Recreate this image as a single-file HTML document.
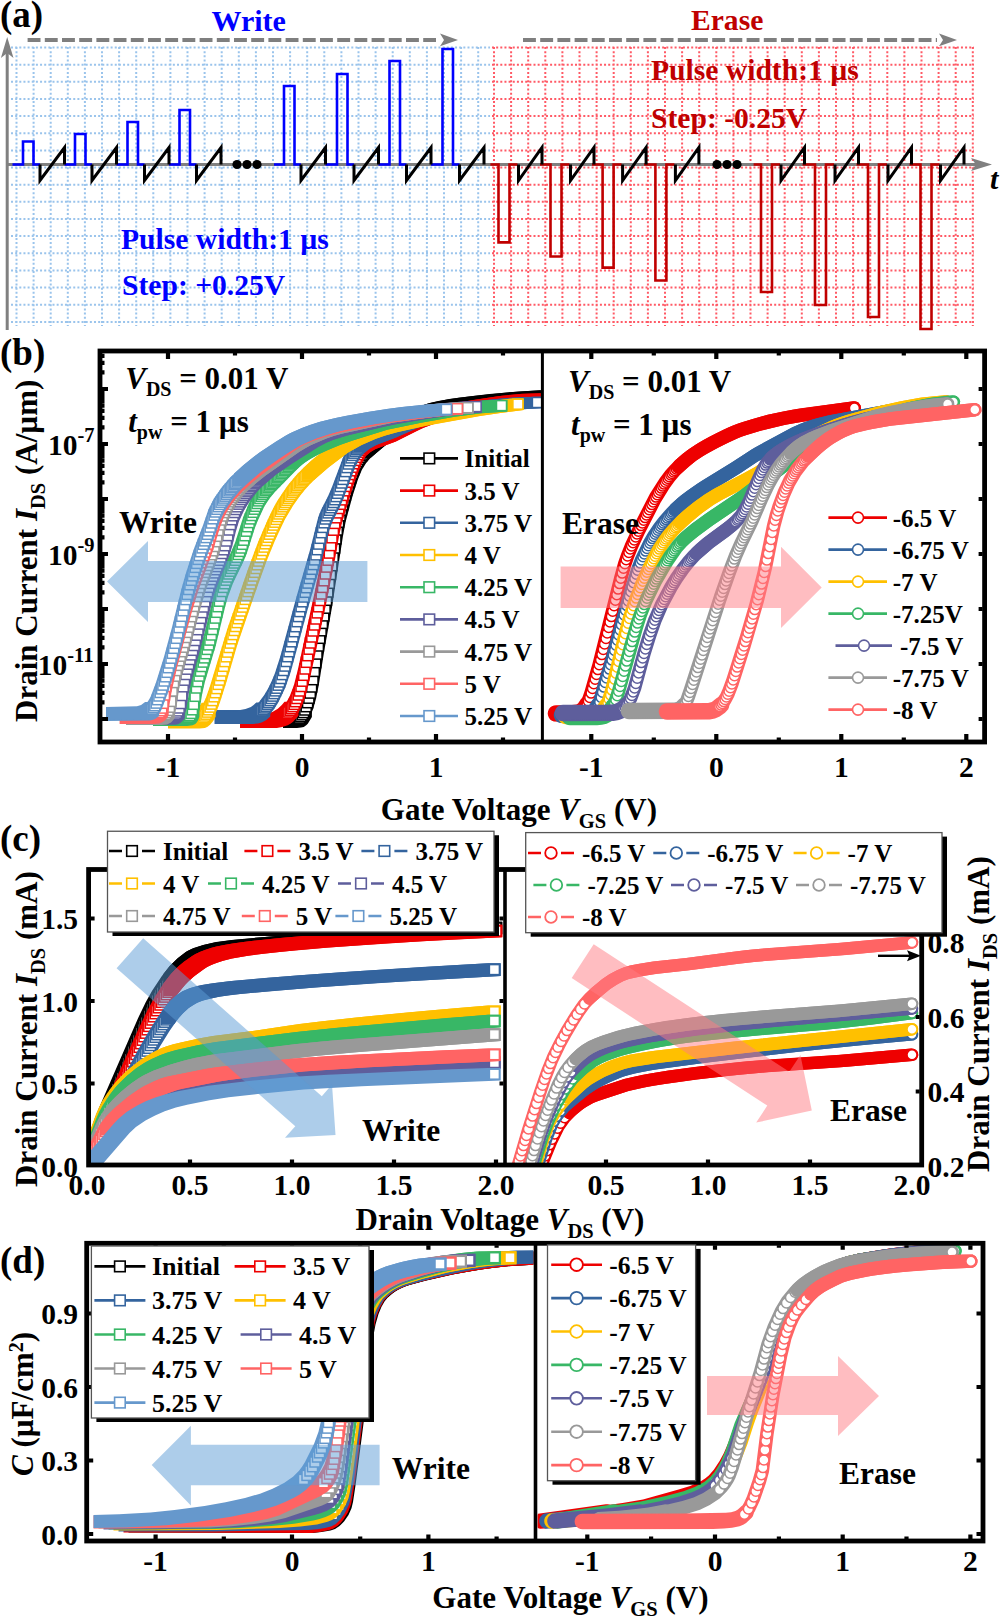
<!DOCTYPE html><html><head><meta charset="utf-8"><style>html,body{margin:0;padding:0;background:#fff;overflow:hidden}svg{display:block}</style></head><body>
<svg width="1000" height="1618" viewBox="0 0 1000 1618" style="font-family:'Liberation Serif',serif;font-weight:bold">
<defs><rect id="q" x="-5" y="-5" width="10" height="10" fill="#fff" stroke-width="1.5"/><circle id="o" r="5" fill="#fff" stroke-width="1.5"/><clipPath id="c0"><rect x="102" y="353" width="438.9" height="387.0"/></clipPath><clipPath id="c1"><rect x="543.9" y="353" width="438.7" height="387.0"/></clipPath><clipPath id="c2"><rect x="90.6" y="871.5" width="412.9" height="291.5"/></clipPath><clipPath id="c3"><rect x="506.5" y="871.5" width="413.2" height="291.5"/></clipPath><clipPath id="c4"><rect x="88.7" y="1245.3" width="444.8" height="293.7"/></clipPath><clipPath id="c5"><rect x="537.5" y="1245.3" width="443.5" height="293.7"/></clipPath></defs>
<rect width="1000" height="1618" fill="#fff"/>
<path d="M11,47.5H490M11,64.7H490M11,81.8H490M11,98.9H490M11,116.1H490M11,133.2H490M11,150.4H490M11,167.5H490M11,184.7H490M11,201.8H490M11,219.0H490M11,236.1H490M11,253.3H490M11,270.4H490M11,287.6H490M11,304.8H490M11,321.9H490M16.5,47V326M33.6,47V326M50.7,47V326M67.8,47V326M84.9,47V326M102.0,47V326M119.1,47V326M136.2,47V326M153.3,47V326M170.4,47V326M187.5,47V326M204.6,47V326M221.7,47V326M238.8,47V326M255.9,47V326M273.0,47V326M290.1,47V326M307.2,47V326M324.3,47V326M341.4,47V326M358.5,47V326M375.6,47V326M392.7,47V326M409.8,47V326M426.9,47V326M444.0,47V326M461.1,47V326M478.2,47V326" stroke="#9ac4ec" stroke-width="2" stroke-dasharray="2 2.15" fill="none"/>
<path d="M492,47.5H974M492,64.7H974M492,81.8H974M492,98.9H974M492,116.1H974M492,133.2H974M492,150.4H974M492,167.5H974M492,184.7H974M492,201.8H974M492,219.0H974M492,236.1H974M492,253.3H974M492,270.4H974M492,287.6H974M492,304.8H974M492,321.9H974M494.0,47V326M511.1,47V326M528.2,47V326M545.3,47V326M562.4,47V326M579.5,47V326M596.6,47V326M613.7,47V326M630.8,47V326M647.9,47V326M665.0,47V326M682.1,47V326M699.2,47V326M716.3,47V326M733.4,47V326M750.5,47V326M767.6,47V326M784.7,47V326M801.8,47V326M818.9,47V326M836.0,47V326M853.1,47V326M870.2,47V326M887.3,47V326M904.4,47V326M921.5,47V326M938.6,47V326M955.7,47V326M972.8,47V326" stroke="#ff5a66" stroke-width="2" stroke-dasharray="2 2.15" fill="none"/>
<path d="M7.2,330V52" stroke="#808080" stroke-width="3"/>
<path d="M7.2,37L13.5,58L7.2,53L0.9,58Z" fill="#808080"/>
<path d="M7,164.5H978" stroke="#808080" stroke-width="3"/>
<path d="M992,164.5L971,158.0L976,164.5L971,171.0Z" fill="#808080"/>
<path d="M27.6,39.9H436" stroke="#7f7f7f" stroke-width="4" stroke-dasharray="12.9 4.3" fill="none"/>
<path d="M458,39.9L440,33.5L444,39.9L440,46.3Z" fill="#7f7f7f"/>
<path d="M523,39.9H937" stroke="#7f7f7f" stroke-width="4" stroke-dasharray="12.9 4.3" fill="none"/>
<path d="M957,39.9L939,33.5L943,39.9L939,46.3Z" fill="#7f7f7f"/>
<path d="M12.5,164.5H23V141.5H33.5V164.5H40M64.5,164.5H75V134H85.5V164.5H92M116.5,164.5H127.5V122H138.0V164.5H144.5M169.0,164.5H179.5V110H190.0V164.5H196.5M274,164.5H284V86H294.5V164.5H301M325.5,164.5H337V74H347.5V164.5H354M378.5,164.5H389.5V61H400.0V164.5H406.5M431.0,164.5H442.5V49H453.0V164.5H459.5" stroke="#0000ff" stroke-width="2.6" fill="none"/>
<path d="M490.4,164.5H498.5V242.4H509.5V164.5H517.5M540.0,164.5H550.5V256.5H561.5V164.5H569.5M592.0,164.5H602.6V267.6H613.6V164.5H621.6M644.1,164.5H655.4V280.5H666.4V164.5H674.4M753.6,164.5H761V292H772V164.5H780M802.5,164.5H815V305H826V164.5H834M856.5,164.5H868V317H879V164.5H887M909.5,164.5H920.5V329H931.5V164.5H939.5" stroke="#c00000" stroke-width="2.6" fill="none"/>
<path d="M40,164.5V180.5L64.5,147.5V164.5M92,164.5V180.5L116.5,147.5V164.5M144.5,164.5V180.5L169.0,147.5V164.5M196.5,164.5V180.5L221.0,147.5V164.5M301,164.5V180.5L325.5,147.5V164.5M354,164.5V180.5L378.5,147.5V164.5M406.5,164.5V180.5L431.0,147.5V164.5M459.5,164.5V180.5L484.0,147.5V164.5M518.5,164.5V180.5L542.0,147.5V164.5M570.5,164.5V180.5L594.0,147.5V164.5M622.6,164.5V180.5L646.1,147.5V164.5M675.4,164.5V180.5L698.9,147.5V164.5M781,164.5V180.5L804.5,147.5V164.5M835,164.5V180.5L858.5,147.5V164.5M888,164.5V180.5L911.5,147.5V164.5M940.5,164.5V180.5L964.0,147.5V164.5" stroke="#000" stroke-width="3" fill="none"/>
<circle cx="237" cy="164.5" r="4.6"/>
<circle cx="247" cy="164.5" r="4.6"/>
<circle cx="257" cy="164.5" r="4.6"/>
<circle cx="717" cy="164.5" r="4.6"/>
<circle cx="727" cy="164.5" r="4.6"/>
<circle cx="737" cy="164.5" r="4.6"/>
<text x="0.0" y="26.5" font-size="37" >(a)</text>
<text x="211.5" y="30.7" font-size="30" fill="#0000ff" >Write</text>
<text x="691.0" y="30.3" font-size="29.6" fill="#c00000" >Erase</text>
<text x="651.0" y="80.0" font-size="29.6" fill="#c00000" >Pulse width:1 µs</text>
<text x="651.0" y="127.6" font-size="29.6" fill="#c00000" >Step: -0.25V</text>
<text x="121.0" y="248.7" font-size="29.6" fill="#0000ff" >Pulse width:1 µs</text>
<text x="122.0" y="295.0" font-size="29.6" fill="#0000ff" >Step: +0.25V</text>
<text x="990" y="189" font-size="30" font-style="italic">t</text>
<g clip-path="url(#c0)">
<path d="M289.8,712.9L283.0,714.0L283.0,728.0L297.0,728.0L301.1,727.6L303.8,726.9L306.5,725.1L307.8,723.7L311.9,717.0L311.9,703.0L297.9,703.0L295.2,707.8L292.5,711.1Z" fill="#000000"/>
<path d="M324.8,568.8L307.2,674.0L304.5,687.3L300.5,700.9L299.1,704.2L296.4,709.1L293.7,712.4L291.0,714.2L288.3,714.9L284.2,715.3L284.2,726.8L298.5,726.6L301.2,726.1L303.9,725.0L306.6,722.4L309.3,718.4L313.3,708.5L316.0,698.8L318.7,685.5L324.1,651.7L332.2,606.0L343.0,535.7L345.7,521.4L352.5,496.3L357.9,479.6L361.9,469.7L366.0,463.2L370.0,458.5L376.8,452.4L386.2,444.7L395.7,437.8L414.6,426.4L424.0,421.6L434.8,416.7L440.2,414.8L447.0,413.1L468.6,409.3L509.1,404.8L540.9,402.2L540.9,390.3L512.4,391.9L473.3,395.9L449.0,399.0L430.1,402.9L424.7,404.6L417.9,407.5L399.0,417.2L382.8,427.3L369.3,437.5L358.5,447.0L353.1,453.6L349.1,461.0L345.0,472.0L339.6,489.4L334.2,509.9L331.5,524.2Z" fill="#000000"/>
<g stroke="#000000"><use href="#q" x="299.5" y="718.1"/><use href="#q" x="300.8" y="716.7"/><use href="#q" x="302.2" y="714.8"/><use href="#q" x="303.5" y="712.6"/><use href="#q" x="304.9" y="710.0"/><use href="#q" x="306.2" y="706.7"/><use href="#q" x="307.6" y="702.7"/><use href="#q" x="308.9" y="698.2"/><use href="#q" x="310.3" y="693.1"/><use href="#q" x="311.6" y="687.0"/><use href="#q" x="313.0" y="679.7"/><use href="#q" x="314.3" y="671.4"/><use href="#q" x="315.7" y="662.7"/><use href="#q" x="317.0" y="654.1"/><use href="#q" x="318.4" y="646.0"/><use href="#q" x="319.7" y="638.3"/><use href="#q" x="321.1" y="630.8"/><use href="#q" x="322.4" y="623.4"/><use href="#q" x="323.8" y="615.9"/><use href="#q" x="325.1" y="608.2"/><use href="#q" x="326.5" y="600.3"/><use href="#q" x="327.8" y="592.0"/><use href="#q" x="329.2" y="583.3"/><use href="#q" x="330.5" y="574.5"/><use href="#q" x="331.9" y="565.7"/><use href="#q" x="333.2" y="556.9"/><use href="#q" x="334.6" y="548.0"/><use href="#q" x="335.9" y="538.9"/><use href="#q" x="337.3" y="530.0"/><use href="#q" x="338.6" y="522.2"/><use href="#q" x="340.0" y="515.7"/><use href="#q" x="341.3" y="510.1"/><use href="#q" x="342.7" y="504.9"/><use href="#q" x="344.0" y="500.0"/><use href="#q" x="345.4" y="495.2"/><use href="#q" x="346.7" y="490.5"/><use href="#q" x="348.1" y="486.1"/><use href="#q" x="349.4" y="481.9"/><use href="#q" x="350.8" y="477.8"/><use href="#q" x="352.1" y="473.8"/><use href="#q" x="353.5" y="470.1"/><use href="#q" x="354.8" y="466.8"/><use href="#q" x="356.2" y="463.9"/><use href="#q" x="357.5" y="461.5"/><use href="#q" x="358.9" y="459.3"/><use href="#q" x="360.2" y="457.4"/><use href="#q" x="361.6" y="455.7"/><use href="#q" x="362.9" y="454.1"/><use href="#q" x="364.3" y="452.7"/><use href="#q" x="365.6" y="451.4"/></g>
<path d="M393.6,420.3L377.4,431.1L359.9,445.7L359.9,457.2L371.4,457.2L387.6,443.6L401.1,434.3L418.6,424.3L436.2,416.1L441.6,414.4L449.7,412.5L469.9,409.2L509.1,404.8L540.9,402.2L540.9,390.3L519.2,391.4L489.5,394.1L458.4,397.7L438.2,401.0L428.7,403.3L422.0,405.7L407.1,412.8Z" fill="#000000"/>
<path d="M265.6,713.6L240.0,714.0L240.0,728.0L276.9,727.9L282.3,727.1L287.7,725.3L290.4,723.8L293.1,721.7L298.5,715.7L298.5,701.7L284.5,701.7L281.8,705.0L277.8,708.8L272.4,711.9Z" fill="#ee0000"/>
<path d="M289.8,696.0L287.1,701.0L283.1,706.2L279.0,710.1L273.6,713.1L269.6,714.4L264.2,715.1L241.2,715.3L241.2,726.8L274.3,726.7L279.7,726.2L283.8,725.1L289.2,722.6L293.2,719.2L297.3,714.5L301.3,707.5L305.4,696.7L309.4,681.1L327.0,599.8L335.1,558.8L339.1,536.0L341.8,523.5L351.3,492.2L355.3,480.2L362.1,463.1L366.1,456.0L370.2,452.2L375.6,449.1L395.8,441.6L416.1,431.2L424.2,427.4L436.3,422.9L448.5,418.9L464.7,415.0L497.1,409.5L520.0,406.5L540.9,405.0L540.9,393.3L520.7,393.9L497.7,396.2L459.9,402.2L441.0,406.3L426.2,410.9L410.0,417.1L384.3,430.1L368.1,436.0L362.7,438.3L357.3,441.7L354.6,444.5L350.6,451.6L343.8,468.7L339.8,480.7L330.3,512.0L327.6,524.5L323.6,547.3L315.5,588.3L297.9,669.6L293.9,685.2Z" fill="#ee0000"/>
<g stroke="#ee0000"><use href="#q" x="287.5" y="713.4"/><use href="#q" x="288.8" y="712.0"/><use href="#q" x="290.2" y="710.4"/><use href="#q" x="291.5" y="708.7"/><use href="#q" x="292.9" y="706.7"/><use href="#q" x="294.2" y="704.4"/><use href="#q" x="295.6" y="701.7"/><use href="#q" x="296.9" y="698.5"/><use href="#q" x="298.3" y="695.0"/><use href="#q" x="299.6" y="691.0"/><use href="#q" x="301.0" y="686.5"/><use href="#q" x="302.3" y="681.2"/><use href="#q" x="303.7" y="675.3"/><use href="#q" x="305.0" y="669.0"/><use href="#q" x="306.4" y="662.3"/><use href="#q" x="307.7" y="655.7"/><use href="#q" x="309.1" y="649.2"/><use href="#q" x="310.4" y="643.0"/><use href="#q" x="311.8" y="637.0"/><use href="#q" x="313.1" y="631.0"/><use href="#q" x="314.5" y="625.0"/><use href="#q" x="315.8" y="619.0"/><use href="#q" x="317.2" y="612.9"/><use href="#q" x="318.5" y="606.8"/><use href="#q" x="319.9" y="600.5"/><use href="#q" x="321.2" y="594.0"/><use href="#q" x="322.6" y="587.4"/><use href="#q" x="323.9" y="580.8"/><use href="#q" x="325.3" y="574.0"/><use href="#q" x="326.6" y="567.1"/><use href="#q" x="328.0" y="560.2"/><use href="#q" x="329.3" y="553.1"/><use href="#q" x="330.7" y="545.6"/><use href="#q" x="332.0" y="537.8"/><use href="#q" x="333.4" y="530.2"/><use href="#q" x="334.7" y="523.4"/><use href="#q" x="336.1" y="517.8"/><use href="#q" x="337.4" y="512.9"/><use href="#q" x="338.8" y="508.5"/><use href="#q" x="340.1" y="504.3"/><use href="#q" x="341.5" y="499.9"/><use href="#q" x="342.8" y="495.4"/><use href="#q" x="344.2" y="490.8"/><use href="#q" x="345.5" y="486.4"/><use href="#q" x="346.9" y="482.2"/><use href="#q" x="348.2" y="478.3"/><use href="#q" x="349.6" y="474.5"/><use href="#q" x="350.9" y="470.8"/><use href="#q" x="352.3" y="467.2"/><use href="#q" x="353.6" y="463.7"/><use href="#q" x="355.0" y="460.4"/><use href="#q" x="356.3" y="457.3"/><use href="#q" x="357.7" y="454.6"/><use href="#q" x="359.0" y="452.2"/><use href="#q" x="360.4" y="450.3"/><use href="#q" x="361.7" y="448.7"/></g>
<path d="M391.1,426.8L381.6,431.3L365.4,437.0L361.4,439.0L357.3,441.7L356.0,442.9L356.0,454.4L367.5,454.4L371.5,451.3L375.6,449.1L395.8,441.6L422.8,428.0L439.0,421.9L453.9,417.4L468.7,414.2L502.5,408.7L522.7,406.2L540.9,405.0L540.9,393.3L522.0,393.8L501.8,395.7L476.1,399.5L447.8,404.6L432.9,408.7L414.0,415.4L405.9,419.0Z" fill="#ee0000"/>
<path d="M240.1,709.9L214.5,710.0L214.5,724.0L252.8,724.0L258.2,723.4L262.2,722.2L266.3,720.0L270.3,716.4L270.3,702.4L256.3,702.4L253.6,705.0L250.9,706.9L245.5,709.1Z" fill="#34649e"/>
<path d="M268.4,687.9L264.3,694.9L258.9,702.2L254.9,706.3L250.8,708.8L246.8,710.3L241.4,711.1L215.8,711.2L215.8,722.8L251.5,722.7L255.6,722.4L259.6,721.4L265.0,718.8L269.1,715.2L274.5,708.4L278.5,701.9L285.3,687.8L290.7,671.9L308.2,607.6L321.7,560.7L329.8,528.6L332.5,521.5L339.3,508.3L343.3,499.1L355.5,466.5L359.5,459.0L363.6,453.8L369.0,449.1L377.1,444.6L396.0,437.6L420.3,426.7L427.0,424.4L437.8,421.4L459.4,416.7L489.1,412.6L517.5,409.5L540.9,408.3L540.9,396.8L516.8,397.3L491.1,399.5L452.0,404.6L430.4,408.9L418.2,412.1L410.1,414.7L384.5,426.1L365.6,433.1L357.5,437.6L352.1,442.3L348.0,447.5L344.0,455.0L331.8,487.6L327.8,496.8L321.0,510.0L318.3,517.1L310.2,549.2L296.7,596.1L280.5,655.8L275.1,672.8L272.4,679.5Z" fill="#34649e"/>
<g stroke="#34649e"><use href="#q" x="262.0" y="710.8"/><use href="#q" x="263.3" y="709.4"/><use href="#q" x="264.7" y="707.9"/><use href="#q" x="266.0" y="706.3"/><use href="#q" x="267.4" y="704.5"/><use href="#q" x="268.7" y="702.7"/><use href="#q" x="270.1" y="700.7"/><use href="#q" x="271.4" y="698.5"/><use href="#q" x="272.8" y="696.1"/><use href="#q" x="274.1" y="693.6"/><use href="#q" x="275.5" y="690.9"/><use href="#q" x="276.8" y="688.2"/><use href="#q" x="278.2" y="685.2"/><use href="#q" x="279.5" y="682.0"/><use href="#q" x="280.9" y="678.5"/><use href="#q" x="282.2" y="674.6"/><use href="#q" x="283.6" y="670.5"/><use href="#q" x="284.9" y="666.1"/><use href="#q" x="286.3" y="661.5"/><use href="#q" x="287.6" y="656.7"/><use href="#q" x="289.0" y="651.7"/><use href="#q" x="290.3" y="646.7"/><use href="#q" x="291.7" y="641.8"/><use href="#q" x="293.0" y="636.8"/><use href="#q" x="294.4" y="631.7"/><use href="#q" x="295.7" y="626.7"/><use href="#q" x="297.1" y="621.7"/><use href="#q" x="298.4" y="616.6"/><use href="#q" x="299.8" y="611.6"/><use href="#q" x="301.1" y="606.7"/><use href="#q" x="302.5" y="601.8"/><use href="#q" x="303.8" y="597.0"/><use href="#q" x="305.2" y="592.3"/><use href="#q" x="306.5" y="587.7"/><use href="#q" x="307.9" y="583.1"/><use href="#q" x="309.2" y="578.5"/><use href="#q" x="310.6" y="573.9"/><use href="#q" x="311.9" y="569.3"/><use href="#q" x="313.3" y="564.6"/><use href="#q" x="314.6" y="559.9"/><use href="#q" x="316.0" y="554.9"/><use href="#q" x="317.3" y="549.7"/><use href="#q" x="318.7" y="544.1"/><use href="#q" x="320.0" y="538.3"/><use href="#q" x="321.4" y="532.7"/><use href="#q" x="322.7" y="527.4"/><use href="#q" x="324.1" y="522.8"/><use href="#q" x="325.4" y="519.0"/><use href="#q" x="326.8" y="515.8"/><use href="#q" x="328.1" y="512.9"/><use href="#q" x="329.5" y="510.3"/><use href="#q" x="330.8" y="507.7"/><use href="#q" x="332.2" y="505.2"/><use href="#q" x="333.5" y="502.5"/><use href="#q" x="334.9" y="499.7"/><use href="#q" x="336.2" y="496.6"/><use href="#q" x="337.6" y="493.3"/><use href="#q" x="338.9" y="490.0"/><use href="#q" x="340.3" y="486.5"/><use href="#q" x="341.6" y="483.0"/><use href="#q" x="343.0" y="479.4"/><use href="#q" x="344.3" y="475.6"/><use href="#q" x="345.7" y="471.6"/><use href="#q" x="347.0" y="467.6"/><use href="#q" x="348.4" y="464.0"/><use href="#q" x="349.7" y="460.7"/><use href="#q" x="351.1" y="457.9"/><use href="#q" x="352.4" y="455.4"/><use href="#q" x="353.8" y="453.2"/><use href="#q" x="355.1" y="451.3"/><use href="#q" x="356.5" y="449.6"/><use href="#q" x="357.8" y="448.1"/><use href="#q" x="359.2" y="446.7"/></g>
<path d="M387.2,424.9L365.6,433.1L360.2,435.8L356.1,438.6L353.4,440.9L353.4,452.4L364.9,452.4L370.3,448.2L375.7,445.2L396.0,437.6L417.6,427.8L427.0,424.4L443.2,420.0L462.1,416.3L494.5,411.9L518.8,409.4L540.9,408.3L540.9,396.8L520.8,397.1L500.6,398.5L474.9,401.4L445.2,405.7L429.0,409.2L412.8,413.7L403.4,417.4Z" fill="#34649e"/>
<use href="#q" x="537.4" y="402.5" stroke="#34649e"/>
<path d="M188.2,714.4L168.0,714.5L168.0,728.5L199.5,728.5L204.9,728.0L207.6,726.8L210.3,724.5L213.0,721.2L215.7,716.8L215.7,702.8L201.7,702.8L197.7,709.0L195.0,711.8L192.3,713.5Z" fill="#ffc000"/>
<path d="M227.3,628.9L209.7,687.0L205.7,698.3L203.0,704.0L198.9,710.2L194.9,714.0L190.8,715.5L169.2,715.8L169.2,727.3L198.3,727.2L203.7,726.7L207.7,724.5L210.4,721.7L213.1,717.9L217.2,709.8L219.9,702.5L226.6,681.4L237.4,644.5L257.7,585.7L267.1,559.7L275.2,539.9L284.7,519.8L292.8,506.1L299.5,496.5L304.9,489.7L310.3,483.8L317.1,477.2L329.2,466.8L348.1,452.6L361.6,444.9L375.1,439.0L384.6,435.8L396.7,432.3L426.4,425.6L479.1,416.1L502.0,412.7L523.6,410.0L523.6,398.5L509.4,398.8L486.5,401.8L460.8,405.7L408.2,415.5L392.0,419.1L377.1,423.0L367.7,426.0L359.6,429.1L350.1,433.4L342.0,437.8L331.2,444.9L311.0,460.9L297.5,473.7L288.0,485.0L277.2,501.1L273.2,508.3L267.8,519.4L258.3,541.4L247.5,570.4Z" fill="#ffc000"/>
<g stroke="#ffc000"><use href="#q" x="203.3" y="717.5"/><use href="#q" x="204.7" y="716.0"/><use href="#q" x="206.0" y="714.2"/><use href="#q" x="207.4" y="712.1"/><use href="#q" x="208.7" y="709.8"/><use href="#q" x="210.1" y="707.1"/><use href="#q" x="211.4" y="704.1"/><use href="#q" x="212.8" y="700.6"/><use href="#q" x="214.1" y="696.8"/><use href="#q" x="215.5" y="692.7"/><use href="#q" x="216.8" y="688.6"/><use href="#q" x="218.2" y="684.4"/><use href="#q" x="219.5" y="680.1"/><use href="#q" x="220.9" y="675.6"/><use href="#q" x="222.2" y="671.0"/><use href="#q" x="223.6" y="666.3"/><use href="#q" x="224.9" y="661.6"/><use href="#q" x="226.3" y="656.8"/><use href="#q" x="227.6" y="652.1"/><use href="#q" x="229.0" y="647.5"/><use href="#q" x="230.3" y="643.1"/><use href="#q" x="231.7" y="638.8"/><use href="#q" x="233.0" y="634.6"/><use href="#q" x="234.4" y="630.5"/><use href="#q" x="235.7" y="626.5"/><use href="#q" x="237.1" y="622.6"/><use href="#q" x="238.4" y="618.7"/><use href="#q" x="239.8" y="614.8"/><use href="#q" x="241.1" y="611.0"/><use href="#q" x="242.5" y="607.1"/><use href="#q" x="243.8" y="603.3"/><use href="#q" x="245.2" y="599.4"/><use href="#q" x="246.5" y="595.5"/><use href="#q" x="247.9" y="591.6"/><use href="#q" x="249.2" y="587.7"/><use href="#q" x="250.6" y="583.9"/><use href="#q" x="251.9" y="580.0"/><use href="#q" x="253.3" y="576.1"/><use href="#q" x="254.6" y="572.3"/><use href="#q" x="256.0" y="568.5"/><use href="#q" x="257.3" y="564.8"/><use href="#q" x="258.7" y="561.1"/><use href="#q" x="260.0" y="557.5"/><use href="#q" x="261.4" y="554.0"/><use href="#q" x="262.7" y="550.5"/><use href="#q" x="264.1" y="547.1"/><use href="#q" x="265.4" y="543.8"/><use href="#q" x="266.8" y="540.5"/><use href="#q" x="268.1" y="537.3"/><use href="#q" x="269.5" y="534.2"/><use href="#q" x="270.8" y="531.1"/><use href="#q" x="272.2" y="528.1"/><use href="#q" x="273.5" y="525.1"/><use href="#q" x="274.9" y="522.2"/><use href="#q" x="276.2" y="519.4"/><use href="#q" x="277.6" y="516.6"/><use href="#q" x="278.9" y="514.0"/><use href="#q" x="280.3" y="511.5"/><use href="#q" x="281.6" y="509.1"/><use href="#q" x="283.0" y="506.8"/><use href="#q" x="284.3" y="504.6"/><use href="#q" x="285.7" y="502.5"/><use href="#q" x="287.0" y="500.4"/><use href="#q" x="288.4" y="498.4"/><use href="#q" x="289.7" y="496.4"/><use href="#q" x="291.1" y="494.5"/><use href="#q" x="292.4" y="492.6"/><use href="#q" x="293.8" y="490.8"/><use href="#q" x="295.1" y="489.0"/><use href="#q" x="296.5" y="487.3"/><use href="#q" x="297.8" y="485.6"/><use href="#q" x="299.2" y="484.0"/><use href="#q" x="300.5" y="482.4"/><use href="#q" x="301.9" y="480.9"/><use href="#q" x="303.2" y="479.5"/><use href="#q" x="304.6" y="478.1"/><use href="#q" x="305.9" y="476.7"/><use href="#q" x="307.3" y="475.3"/><use href="#q" x="308.6" y="474.0"/></g>
<path d="M344.7,436.2L336.6,441.1L327.2,448.0L313.7,458.6L302.9,468.3L302.9,479.8L314.4,479.8L327.9,467.9L348.1,452.6L361.6,444.9L376.5,438.5L385.9,435.3L398.1,431.9L427.8,425.4L480.4,415.9L502.0,412.7L523.6,410.0L523.6,398.5L512.1,398.5L481.1,402.5L446.0,408.3L405.5,416.0L386.6,420.4L370.4,425.1L356.9,430.3Z" fill="#ffc000"/>
<use href="#q" x="517.9" y="404.2" stroke="#ffc000"/>
<path d="M174.6,711.9L153.0,712.0L153.0,726.0L187.2,726.0L192.6,725.3L195.3,723.9L196.7,722.6L198.0,720.4L199.4,716.8L199.4,702.8L185.4,702.8L184.0,706.4L182.7,708.6L181.3,709.9L178.6,711.3Z" fill="#38b766"/>
<path d="M205.5,629.2L193.4,670.4L190.7,682.3L188.0,698.6L186.6,704.1L185.3,707.6L182.6,711.2L181.2,712.0L178.5,712.9L174.5,713.2L154.2,713.2L154.2,724.8L188.7,724.6L191.4,724.1L194.1,722.7L196.8,719.1L198.1,715.6L199.5,710.1L202.2,693.8L204.9,681.9L215.7,645.9L225.1,607.0L227.8,597.3L233.2,582.8L242.7,563.2L246.7,553.8L254.8,528.3L257.5,521.3L264.3,506.6L269.7,498.2L275.1,491.8L299.4,466.9L304.8,462.5L311.5,458.2L319.6,453.8L330.4,449.0L341.2,444.6L353.4,440.2L387.1,429.8L420.9,422.7L454.6,416.8L481.6,413.2L507.3,411.4L507.3,399.9L495.8,399.9L483.6,400.6L468.8,401.9L452.6,403.9L418.8,409.4L378.3,417.6L347.3,427.0L325.7,434.7L313.5,439.8L305.4,443.7L297.3,448.3L290.6,453.1L282.5,460.6L260.9,483.3L255.5,490.5L250.1,500.5L243.3,516.8L235.2,542.3L231.2,551.7L221.7,571.3L217.7,581.6L213.6,595.5Z" fill="#38b766"/>
<g stroke="#38b766"><use href="#q" x="188.3" y="716.9"/><use href="#q" x="189.7" y="715.6"/><use href="#q" x="191.0" y="713.4"/><use href="#q" x="192.4" y="709.8"/><use href="#q" x="193.7" y="704.3"/><use href="#q" x="195.1" y="696.3"/><use href="#q" x="196.4" y="688.0"/><use href="#q" x="197.8" y="681.6"/><use href="#q" x="199.1" y="676.1"/><use href="#q" x="200.5" y="671.1"/><use href="#q" x="201.8" y="666.5"/><use href="#q" x="203.2" y="662.1"/><use href="#q" x="204.5" y="657.9"/><use href="#q" x="205.9" y="653.7"/><use href="#q" x="207.2" y="649.4"/><use href="#q" x="208.6" y="644.9"/><use href="#q" x="209.9" y="640.1"/><use href="#q" x="211.3" y="635.0"/><use href="#q" x="212.6" y="629.5"/><use href="#q" x="214.0" y="623.9"/><use href="#q" x="215.3" y="618.1"/><use href="#q" x="216.7" y="612.3"/><use href="#q" x="218.0" y="606.7"/><use href="#q" x="219.4" y="601.2"/><use href="#q" x="220.7" y="596.2"/><use href="#q" x="222.1" y="591.5"/><use href="#q" x="223.4" y="587.4"/><use href="#q" x="224.8" y="583.7"/><use href="#q" x="226.1" y="580.2"/><use href="#q" x="227.5" y="577.0"/><use href="#q" x="228.8" y="574.0"/><use href="#q" x="230.2" y="571.2"/><use href="#q" x="231.5" y="568.4"/><use href="#q" x="232.9" y="565.7"/><use href="#q" x="234.2" y="563.0"/><use href="#q" x="235.6" y="560.3"/><use href="#q" x="236.9" y="557.4"/><use href="#q" x="238.3" y="554.5"/><use href="#q" x="239.6" y="551.4"/><use href="#q" x="241.0" y="548.0"/><use href="#q" x="242.3" y="544.3"/><use href="#q" x="243.7" y="540.2"/><use href="#q" x="245.0" y="535.7"/><use href="#q" x="246.4" y="531.2"/><use href="#q" x="247.7" y="526.7"/><use href="#q" x="249.1" y="522.6"/><use href="#q" x="250.4" y="518.9"/><use href="#q" x="251.8" y="515.5"/><use href="#q" x="253.1" y="512.3"/><use href="#q" x="254.5" y="509.2"/><use href="#q" x="255.8" y="506.3"/><use href="#q" x="257.2" y="503.5"/><use href="#q" x="258.5" y="500.9"/><use href="#q" x="259.9" y="498.5"/><use href="#q" x="261.2" y="496.3"/><use href="#q" x="262.6" y="494.3"/><use href="#q" x="263.9" y="492.4"/><use href="#q" x="265.3" y="490.7"/><use href="#q" x="266.6" y="489.1"/><use href="#q" x="268.0" y="487.5"/><use href="#q" x="269.3" y="486.1"/><use href="#q" x="270.7" y="484.6"/><use href="#q" x="272.0" y="483.3"/><use href="#q" x="273.4" y="481.9"/><use href="#q" x="274.7" y="480.6"/><use href="#q" x="276.1" y="479.2"/><use href="#q" x="277.4" y="477.8"/><use href="#q" x="278.8" y="476.4"/><use href="#q" x="280.1" y="475.0"/><use href="#q" x="281.5" y="473.5"/><use href="#q" x="282.8" y="472.1"/><use href="#q" x="284.2" y="470.6"/><use href="#q" x="285.5" y="469.2"/><use href="#q" x="286.9" y="467.8"/><use href="#q" x="288.2" y="466.4"/><use href="#q" x="289.6" y="465.0"/><use href="#q" x="290.9" y="463.7"/></g>
<path d="M327.0,434.1L313.5,439.8L304.1,444.4L296.0,449.2L289.2,454.2L285.2,457.9L285.2,469.4L296.7,469.4L302.1,464.6L308.8,459.8L316.9,455.2L327.7,450.1L339.9,445.1L352.0,440.7L387.1,429.8L420.9,422.7L454.6,416.8L481.6,413.2L507.3,411.4L507.3,399.9L490.4,400.1L466.1,402.2L441.8,405.5L413.4,410.4L385.1,416.1L374.3,418.7L345.9,427.4Z" fill="#38b766"/>
<use href="#q" x="501.5" y="405.6" stroke="#38b766"/>
<path d="M133.0,725.0L175.3,724.8L178.0,724.2L180.7,722.7L183.4,720.0L184.8,717.9L184.8,703.9L170.8,703.9L169.4,706.0L166.7,708.7L164.0,710.2L161.3,710.8L133.0,711.0Z" fill="#5e5e9c"/>
<path d="M190.9,629.5L180.1,668.7L177.4,681.1L174.7,697.7L173.4,702.2L172.0,705.1L170.7,707.2L168.0,710.0L163.9,711.8L158.5,712.2L134.2,712.2L134.2,723.7L174.1,723.6L176.8,723.0L179.5,721.5L182.2,718.7L183.5,716.6L184.9,713.7L186.2,709.2L188.9,692.6L191.6,680.2L201.1,646.3L213.2,597.4L217.3,585.4L229.4,555.5L232.1,546.7L236.2,530.3L238.9,521.6L244.3,510.0L249.7,501.3L256.4,492.6L264.5,484.3L276.7,474.1L292.9,462.9L318.5,446.8L326.6,442.6L333.4,439.7L346.9,435.6L386.0,426.3L396.8,424.1L422.5,419.6L444.1,416.3L464.3,413.9L481.9,412.4L481.9,400.9L470.4,400.9L454.2,402.2L433.9,404.7L412.3,407.9L378.6,413.9L330.0,425.5L317.8,429.8L305.7,436.1L277.3,454.0L262.5,464.7L250.3,475.3L242.2,484.3L234.1,496.1L228.7,506.8L226.0,514.0L220.6,535.2L217.9,544.0L205.8,573.9L201.7,585.9Z" fill="#5e5e9c"/>
<g stroke="#5e5e9c"><use href="#q" x="175.1" y="714.6"/><use href="#q" x="176.4" y="713.0"/><use href="#q" x="177.8" y="710.9"/><use href="#q" x="179.1" y="708.0"/><use href="#q" x="180.5" y="703.5"/><use href="#q" x="181.8" y="695.5"/><use href="#q" x="183.2" y="686.8"/><use href="#q" x="184.5" y="680.2"/><use href="#q" x="185.9" y="674.5"/><use href="#q" x="187.2" y="669.2"/><use href="#q" x="188.6" y="664.2"/><use href="#q" x="189.9" y="659.5"/><use href="#q" x="191.3" y="654.9"/><use href="#q" x="192.6" y="650.3"/><use href="#q" x="194.0" y="645.5"/><use href="#q" x="195.3" y="640.5"/><use href="#q" x="196.7" y="635.2"/><use href="#q" x="198.0" y="629.7"/><use href="#q" x="199.4" y="624.1"/><use href="#q" x="200.7" y="618.3"/><use href="#q" x="202.1" y="612.6"/><use href="#q" x="203.4" y="607.0"/><use href="#q" x="204.8" y="601.6"/><use href="#q" x="206.1" y="596.5"/><use href="#q" x="207.5" y="591.7"/><use href="#q" x="208.8" y="587.3"/><use href="#q" x="210.2" y="583.3"/><use href="#q" x="211.5" y="579.6"/><use href="#q" x="212.9" y="576.2"/><use href="#q" x="214.2" y="572.9"/><use href="#q" x="215.6" y="569.7"/><use href="#q" x="216.9" y="566.6"/><use href="#q" x="218.3" y="563.5"/><use href="#q" x="219.6" y="560.3"/><use href="#q" x="221.0" y="557.0"/><use href="#q" x="222.3" y="553.5"/><use href="#q" x="223.7" y="549.8"/><use href="#q" x="225.0" y="545.7"/><use href="#q" x="226.4" y="541.0"/><use href="#q" x="227.7" y="535.6"/><use href="#q" x="229.1" y="530.0"/><use href="#q" x="230.4" y="524.6"/><use href="#q" x="231.8" y="519.7"/><use href="#q" x="233.1" y="515.8"/><use href="#q" x="234.5" y="512.5"/><use href="#q" x="235.8" y="509.5"/><use href="#q" x="237.2" y="506.8"/><use href="#q" x="238.5" y="504.2"/><use href="#q" x="239.9" y="501.9"/><use href="#q" x="241.2" y="499.6"/><use href="#q" x="242.6" y="497.5"/><use href="#q" x="243.9" y="495.6"/><use href="#q" x="245.3" y="493.7"/><use href="#q" x="246.6" y="491.8"/><use href="#q" x="248.0" y="490.1"/><use href="#q" x="249.3" y="488.4"/><use href="#q" x="250.7" y="486.8"/><use href="#q" x="252.0" y="485.3"/><use href="#q" x="253.4" y="483.8"/><use href="#q" x="254.7" y="482.4"/><use href="#q" x="256.1" y="481.1"/><use href="#q" x="257.4" y="479.8"/></g>
<path d="M285.4,448.8L266.5,461.6L258.4,468.0L251.7,474.0L251.7,485.5L263.2,485.5L276.7,474.1L292.9,462.9L318.5,446.8L326.6,442.6L334.7,439.2L348.2,435.2L386.0,426.3L398.2,423.8L444.1,416.3L464.3,413.9L481.9,412.4L481.9,400.9L470.4,400.9L456.9,402.0L438.0,404.1L416.4,407.2L379.9,413.6L336.7,423.7L324.6,427.2L315.1,431.1L303.0,437.7Z" fill="#5e5e9c"/>
<use href="#q" x="476.1" y="406.6" stroke="#5e5e9c"/>
<path d="M148.9,711.0L126.0,711.0L126.0,725.0L161.6,725.0L167.0,724.5L171.0,722.5L173.7,719.6L175.1,717.4L175.1,703.4L161.1,703.4L159.7,705.6L157.0,708.5L153.0,710.5Z" fill="#999999"/>
<path d="M193.4,581.8L178.5,636.8L170.4,664.8L167.7,676.8L165.0,695.6L163.7,701.4L162.3,704.6L161.0,706.9L158.3,709.8L154.2,711.8L148.8,712.2L127.2,712.2L127.2,723.7L164.4,723.5L167.1,722.9L169.8,721.3L172.5,718.4L173.8,716.1L175.2,712.9L176.5,707.1L179.2,688.3L181.9,676.3L190.0,648.3L200.8,607.2L206.2,589.2L215.7,564.2L219.7,552.3L226.5,525.7L230.5,515.3L235.9,505.3L242.7,496.2L249.4,489.1L257.5,482.0L265.6,475.6L299.4,451.7L310.2,445.5L325.0,438.9L333.1,436.1L342.6,433.5L393.9,422.6L438.4,416.3L456.0,414.5L473.5,413.5L473.5,402.0L462.0,402.0L441.8,403.3L422.9,405.3L401.3,408.2L377.0,412.1L333.8,421.4L324.3,423.8L309.5,429.0L293.3,436.8L286.5,441.1L255.5,463.1L242.0,474.0L232.5,483.1L228.5,488.0L224.4,493.8L219.0,503.8L215.0,514.2L209.6,536.0L206.9,545.0Z" fill="#999999"/>
<g stroke="#999999"><use href="#q" x="165.4" y="714.3"/><use href="#q" x="166.7" y="712.6"/><use href="#q" x="168.1" y="710.4"/><use href="#q" x="169.4" y="707.2"/><use href="#q" x="170.8" y="701.4"/><use href="#q" x="172.1" y="691.0"/><use href="#q" x="173.5" y="682.6"/><use href="#q" x="174.8" y="676.2"/><use href="#q" x="176.2" y="670.6"/><use href="#q" x="177.5" y="665.4"/><use href="#q" x="178.9" y="660.7"/><use href="#q" x="180.2" y="656.2"/><use href="#q" x="181.6" y="651.7"/><use href="#q" x="182.9" y="647.2"/><use href="#q" x="184.3" y="642.5"/><use href="#q" x="185.6" y="637.5"/><use href="#q" x="187.0" y="632.4"/><use href="#q" x="188.3" y="627.2"/><use href="#q" x="189.7" y="621.9"/><use href="#q" x="191.0" y="616.7"/><use href="#q" x="192.4" y="611.5"/><use href="#q" x="193.7" y="606.4"/><use href="#q" x="195.1" y="601.4"/><use href="#q" x="196.4" y="596.6"/><use href="#q" x="197.8" y="592.0"/><use href="#q" x="199.1" y="587.6"/><use href="#q" x="200.5" y="583.5"/><use href="#q" x="201.8" y="579.6"/><use href="#q" x="203.2" y="576.0"/><use href="#q" x="204.5" y="572.4"/><use href="#q" x="205.9" y="569.0"/><use href="#q" x="207.2" y="565.5"/><use href="#q" x="208.6" y="562.0"/><use href="#q" x="209.9" y="558.5"/><use href="#q" x="211.3" y="554.7"/><use href="#q" x="212.6" y="550.8"/><use href="#q" x="214.0" y="546.5"/><use href="#q" x="215.3" y="541.7"/><use href="#q" x="216.7" y="536.3"/><use href="#q" x="218.0" y="530.5"/><use href="#q" x="219.4" y="524.9"/><use href="#q" x="220.7" y="520.0"/><use href="#q" x="222.1" y="516.0"/><use href="#q" x="223.4" y="512.6"/><use href="#q" x="224.8" y="509.5"/><use href="#q" x="226.1" y="506.8"/><use href="#q" x="227.5" y="504.2"/><use href="#q" x="228.8" y="501.8"/><use href="#q" x="230.2" y="499.6"/><use href="#q" x="231.5" y="497.5"/><use href="#q" x="232.9" y="495.6"/><use href="#q" x="234.2" y="493.8"/><use href="#q" x="235.6" y="492.0"/><use href="#q" x="236.9" y="490.4"/><use href="#q" x="238.3" y="488.9"/><use href="#q" x="239.6" y="487.4"/><use href="#q" x="241.0" y="486.0"/><use href="#q" x="242.3" y="484.7"/></g>
<path d="M289.2,439.3L251.4,466.1L236.6,478.9L236.6,490.4L248.1,490.4L256.2,483.1L265.6,475.6L299.4,451.7L304.8,448.3L311.5,444.8L326.4,438.4L334.5,435.7L342.6,433.5L393.9,422.6L438.4,416.3L456.0,414.5L473.5,413.5L473.5,402.0L462.0,402.0L444.5,403.0L426.9,404.8L406.7,407.4L378.3,411.8L329.7,422.3L314.9,426.9L298.7,434.0Z" fill="#999999"/>
<use href="#q" x="467.8" y="407.7" stroke="#999999"/>
<path d="M141.2,709.9L119.6,710.0L119.6,724.0L153.8,724.0L159.2,723.4L161.9,722.4L164.6,720.8L167.3,717.7L168.7,715.1L168.7,701.1L154.7,701.1L152.0,705.5L149.3,707.7L146.6,709.0Z" fill="#ff6464"/>
<path d="M176.2,615.6L162.7,667.9L160.0,680.8L157.3,697.6L155.9,702.3L154.6,705.0L153.2,706.8L150.5,709.0L147.8,710.2L145.1,710.9L139.7,711.2L120.8,711.2L120.8,722.8L151.2,722.7L156.6,722.4L159.3,721.7L162.0,720.5L164.7,718.3L166.1,716.5L167.4,713.8L168.8,709.1L171.5,692.3L176.9,668.2L191.7,612.4L198.5,590.3L213.3,549.8L220.1,527.0L224.1,516.9L229.5,507.2L236.3,497.9L244.4,489.4L253.8,481.0L261.9,474.5L294.3,450.7L302.4,445.5L311.9,441.2L324.0,437.0L340.2,432.6L386.1,423.3L428.0,417.6L445.5,415.8L463.1,414.5L463.1,403.0L451.6,403.0L432.7,404.4L411.1,406.7L385.4,410.1L370.6,412.5L343.6,417.9L320.6,423.2L303.1,428.7L290.9,434.0L282.8,439.2L255.8,458.9L241.0,470.7L228.8,481.9L220.7,491.7L214.0,502.7L209.9,511.7L200.5,542.4L187.0,578.8L181.6,596.2Z" fill="#ff6464"/>
<g stroke="#ff6464"><use href="#q" x="159.0" y="712.5"/><use href="#q" x="160.3" y="710.7"/><use href="#q" x="161.7" y="708.1"/><use href="#q" x="163.0" y="703.3"/><use href="#q" x="164.4" y="695.0"/><use href="#q" x="165.7" y="686.5"/><use href="#q" x="167.1" y="679.8"/><use href="#q" x="168.4" y="673.7"/><use href="#q" x="169.8" y="667.9"/><use href="#q" x="171.1" y="662.4"/><use href="#q" x="172.5" y="657.1"/><use href="#q" x="173.8" y="651.9"/><use href="#q" x="175.2" y="646.8"/><use href="#q" x="176.5" y="641.7"/><use href="#q" x="177.9" y="636.6"/><use href="#q" x="179.2" y="631.4"/><use href="#q" x="180.6" y="626.3"/><use href="#q" x="181.9" y="621.3"/><use href="#q" x="183.3" y="616.3"/><use href="#q" x="184.6" y="611.4"/><use href="#q" x="186.0" y="606.6"/><use href="#q" x="187.3" y="601.9"/><use href="#q" x="188.7" y="597.4"/><use href="#q" x="190.0" y="592.9"/><use href="#q" x="191.4" y="588.7"/><use href="#q" x="192.7" y="584.6"/><use href="#q" x="194.1" y="580.7"/><use href="#q" x="195.4" y="576.9"/><use href="#q" x="196.8" y="573.3"/><use href="#q" x="198.1" y="569.7"/><use href="#q" x="199.5" y="566.2"/><use href="#q" x="200.8" y="562.7"/><use href="#q" x="202.2" y="559.2"/><use href="#q" x="203.5" y="555.6"/><use href="#q" x="204.9" y="552.0"/><use href="#q" x="206.2" y="548.1"/><use href="#q" x="207.6" y="544.1"/><use href="#q" x="208.9" y="539.7"/><use href="#q" x="210.3" y="535.1"/><use href="#q" x="211.6" y="530.3"/><use href="#q" x="213.0" y="525.7"/><use href="#q" x="214.3" y="521.3"/><use href="#q" x="215.7" y="517.4"/><use href="#q" x="217.0" y="514.1"/><use href="#q" x="218.4" y="511.1"/><use href="#q" x="219.7" y="508.4"/><use href="#q" x="221.1" y="505.9"/><use href="#q" x="222.4" y="503.6"/><use href="#q" x="223.8" y="501.4"/><use href="#q" x="225.1" y="499.3"/><use href="#q" x="226.5" y="497.4"/><use href="#q" x="227.8" y="495.6"/><use href="#q" x="229.2" y="493.8"/><use href="#q" x="230.5" y="492.2"/><use href="#q" x="231.9" y="490.6"/><use href="#q" x="233.2" y="489.1"/><use href="#q" x="234.6" y="487.7"/><use href="#q" x="235.9" y="486.3"/><use href="#q" x="237.3" y="484.9"/></g>
<path d="M284.2,438.3L246.4,466.2L231.5,479.2L231.5,490.7L243.0,490.7L251.1,483.3L260.6,475.5L294.3,450.7L303.8,444.8L313.2,440.7L325.4,436.6L341.6,432.3L386.1,423.3L428.0,417.6L445.5,415.8L463.1,414.5L463.1,403.0L451.6,403.0L435.4,404.2L415.1,406.2L392.2,409.2L369.2,412.8L327.4,421.5L308.5,426.8L300.4,429.7L293.6,432.6Z" fill="#ff6464"/>
<use href="#q" x="457.3" y="408.7" stroke="#ff6464"/>
<path d="M137.0,706.3L106.0,706.9L106.0,720.9L149.7,720.5L152.4,720.0L155.1,718.9L159.1,716.0L159.1,702.0L145.1,702.0L141.1,704.9Z" fill="#6698cc"/>
<path d="M163.9,657.3L155.8,683.1L150.4,697.3L147.7,701.8L143.7,705.4L141.0,706.8L138.3,707.5L130.2,708.0L107.2,708.2L107.2,719.7L137.6,719.5L149.8,719.0L152.5,718.3L155.2,716.9L157.9,714.7L160.6,711.4L161.9,708.8L167.3,694.6L174.1,673.5L182.2,644.0L193.0,600.2L198.4,581.6L206.5,557.4L214.6,536.6L220.0,520.8L225.4,510.1L232.1,500.1L240.2,490.5L249.7,481.3L257.8,474.2L267.2,466.8L287.5,453.1L301.0,445.1L315.8,438.6L328.0,434.4L340.1,431.0L355.0,427.8L375.2,424.1L394.1,421.1L415.7,418.2L452.2,415.1L452.2,403.6L440.7,403.6L425.8,404.6L406.9,406.4L388.0,408.8L367.8,411.9L346.2,415.8L331.3,418.9L319.2,422.1L309.7,425.1L300.3,428.7L292.2,432.3L285.4,435.8L259.8,452.3L251.7,458.4L242.2,466.2L230.1,477.6L222.0,486.9L213.9,498.6L208.5,509.3L203.1,525.1L193.6,549.7L185.5,574.5L181.5,588.7L172.0,627.3Z" fill="#6698cc"/>
<g stroke="#6698cc"><use href="#q" x="152.1" y="709.0"/><use href="#q" x="153.5" y="707.5"/><use href="#q" x="154.8" y="705.7"/><use href="#q" x="156.2" y="703.1"/><use href="#q" x="157.5" y="699.7"/><use href="#q" x="158.9" y="696.0"/><use href="#q" x="160.2" y="692.5"/><use href="#q" x="161.6" y="688.9"/><use href="#q" x="162.9" y="685.1"/><use href="#q" x="164.3" y="681.0"/><use href="#q" x="165.6" y="676.8"/><use href="#q" x="167.0" y="672.3"/><use href="#q" x="168.3" y="667.7"/><use href="#q" x="169.7" y="663.0"/><use href="#q" x="171.0" y="658.2"/><use href="#q" x="172.4" y="653.3"/><use href="#q" x="173.7" y="648.3"/><use href="#q" x="175.1" y="643.3"/><use href="#q" x="176.4" y="638.3"/><use href="#q" x="177.8" y="633.0"/><use href="#q" x="179.1" y="627.6"/><use href="#q" x="180.5" y="622.0"/><use href="#q" x="181.8" y="616.3"/><use href="#q" x="183.2" y="610.7"/><use href="#q" x="184.5" y="605.1"/><use href="#q" x="185.9" y="599.6"/><use href="#q" x="187.2" y="594.4"/><use href="#q" x="188.6" y="589.5"/><use href="#q" x="189.9" y="584.8"/><use href="#q" x="191.3" y="580.3"/><use href="#q" x="192.6" y="575.9"/><use href="#q" x="194.0" y="571.6"/><use href="#q" x="195.3" y="567.4"/><use href="#q" x="196.7" y="563.4"/><use href="#q" x="198.0" y="559.4"/><use href="#q" x="199.4" y="555.5"/><use href="#q" x="200.7" y="551.7"/><use href="#q" x="202.1" y="547.9"/><use href="#q" x="203.4" y="544.3"/><use href="#q" x="204.8" y="540.9"/><use href="#q" x="206.1" y="537.6"/><use href="#q" x="207.5" y="534.3"/><use href="#q" x="208.8" y="530.8"/><use href="#q" x="210.2" y="527.1"/><use href="#q" x="211.5" y="523.0"/><use href="#q" x="212.9" y="518.8"/><use href="#q" x="214.2" y="515.1"/><use href="#q" x="215.6" y="512.0"/><use href="#q" x="216.9" y="509.3"/><use href="#q" x="218.3" y="506.7"/><use href="#q" x="219.6" y="504.4"/><use href="#q" x="221.0" y="502.2"/><use href="#q" x="222.3" y="500.1"/><use href="#q" x="223.7" y="498.1"/><use href="#q" x="225.0" y="496.2"/><use href="#q" x="226.4" y="494.4"/><use href="#q" x="227.7" y="492.6"/><use href="#q" x="229.1" y="490.9"/><use href="#q" x="230.4" y="489.3"/><use href="#q" x="231.8" y="487.7"/><use href="#q" x="233.1" y="486.2"/><use href="#q" x="234.5" y="484.7"/><use href="#q" x="235.8" y="483.3"/><use href="#q" x="237.2" y="482.0"/><use href="#q" x="238.5" y="480.7"/><use href="#q" x="239.9" y="479.4"/></g>
<path d="M276.0,441.6L262.5,450.5L254.4,456.3L243.6,465.0L234.1,473.6L234.1,485.1L245.6,485.1L261.8,470.9L276.7,460.2L291.5,450.6L299.6,445.8L307.7,441.9L317.2,438.1L329.3,434.0L341.5,430.7L356.3,427.5L376.6,423.8L417.1,418.1L452.2,415.1L452.2,403.6L440.7,403.6L433.9,404.0L401.5,407.0L369.1,411.7L336.7,417.7L319.2,422.1L303.0,427.6L289.5,433.6Z" fill="#6698cc"/>
<use href="#q" x="446.4" y="409.4" stroke="#6698cc"/>
</g>
<g clip-path="url(#c1)">
<path d="M558.7,721.8L575.9,721.5L581.1,720.5L585.5,718.6L590.2,714.8L592.4,712.0L594.4,708.5L595.1,706.5L595.3,704.3L595.0,702.2L594.1,700.2L592.7,698.5L591.0,697.3L589.0,696.5L586.8,696.3L584.7,696.6L582.7,697.5L581.0,698.9L578.0,703.5L576.4,704.5L571.9,705.1L556.0,705.2L553.9,705.5L551.9,706.3L550.1,707.6L548.8,709.3L548.0,711.4L547.7,713.5L548.0,715.6L548.8,717.6L550.1,719.4L551.9,720.7L553.9,721.5Z" fill="#ee0000"/>
<path d="M554.2,720.1L574.1,720.1L581.4,718.8L584.8,717.3L587.8,715.1L591.2,711.1L593.0,707.8L597.6,695.1L605.8,666.6L627.4,579.9L631.3,565.8L633.9,558.2L637.8,548.6L644.5,534.1L660.5,502.8L669.6,487.9L674.7,480.9L679.8,475.0L690.0,465.4L696.3,460.5L702.7,456.2L718.4,447.4L738.1,438.1L747.1,434.8L760.4,430.8L784.1,425.0L801.3,422.0L857.0,414.3L859.8,412.1L861.1,408.9L860.6,405.4L858.4,402.6L855.2,401.3L853.4,401.3L792.5,409.7L767.7,414.8L742.8,421.9L733.0,425.5L724.5,429.2L709.4,436.7L698.3,442.9L689.8,448.4L682.7,453.8L675.6,460.0L669.9,465.7L665.4,470.8L659.8,478.3L649.9,493.8L633.6,525.4L625.4,543.1L621.2,553.5L618.3,561.8L614.2,576.5L592.6,663.0L584.6,691.1L580.9,701.7L578.6,705.1L576.1,706.2L570.7,706.7L556.0,706.7L552.6,707.6L551.2,708.7L549.4,711.7L549.4,715.3L550.1,716.9L552.6,719.4Z" fill="#ee0000"/>
<g stroke="#ee0000"><use href="#o" x="583.0" y="710.3"/><use href="#o" x="584.4" y="708.9"/><use href="#o" x="585.7" y="707.1"/><use href="#o" x="587.1" y="704.6"/><use href="#o" x="588.4" y="701.3"/><use href="#o" x="589.8" y="697.4"/><use href="#o" x="591.1" y="693.1"/><use href="#o" x="592.5" y="688.5"/><use href="#o" x="593.8" y="683.8"/><use href="#o" x="595.2" y="679.2"/><use href="#o" x="596.5" y="674.4"/><use href="#o" x="597.9" y="669.6"/><use href="#o" x="599.2" y="664.7"/><use href="#o" x="600.6" y="659.7"/><use href="#o" x="601.9" y="654.6"/><use href="#o" x="603.3" y="649.4"/><use href="#o" x="604.6" y="644.0"/><use href="#o" x="606.0" y="638.5"/><use href="#o" x="607.3" y="633.0"/><use href="#o" x="608.7" y="627.5"/><use href="#o" x="610.0" y="622.0"/><use href="#o" x="611.4" y="616.6"/><use href="#o" x="612.7" y="611.2"/><use href="#o" x="614.1" y="605.8"/><use href="#o" x="615.4" y="600.3"/><use href="#o" x="616.8" y="594.7"/><use href="#o" x="618.1" y="589.1"/><use href="#o" x="619.5" y="583.6"/><use href="#o" x="620.8" y="578.2"/><use href="#o" x="622.2" y="573.1"/><use href="#o" x="623.5" y="568.3"/><use href="#o" x="624.9" y="563.8"/><use href="#o" x="626.2" y="559.7"/><use href="#o" x="627.6" y="555.9"/><use href="#o" x="628.9" y="552.4"/><use href="#o" x="630.3" y="549.0"/><use href="#o" x="631.6" y="545.9"/><use href="#o" x="633.0" y="542.8"/><use href="#o" x="634.3" y="539.9"/><use href="#o" x="635.7" y="536.9"/><use href="#o" x="637.0" y="534.0"/><use href="#o" x="638.4" y="531.2"/><use href="#o" x="639.7" y="528.4"/><use href="#o" x="641.1" y="525.6"/><use href="#o" x="642.4" y="522.9"/><use href="#o" x="643.8" y="520.2"/><use href="#o" x="645.1" y="517.6"/><use href="#o" x="646.5" y="515.0"/><use href="#o" x="647.8" y="512.4"/><use href="#o" x="649.2" y="509.8"/><use href="#o" x="650.5" y="507.2"/><use href="#o" x="651.9" y="504.6"/><use href="#o" x="653.2" y="502.0"/><use href="#o" x="654.6" y="499.5"/><use href="#o" x="655.9" y="497.1"/><use href="#o" x="657.3" y="494.7"/><use href="#o" x="658.6" y="492.4"/><use href="#o" x="660.0" y="490.2"/><use href="#o" x="661.3" y="488.1"/><use href="#o" x="662.7" y="486.1"/><use href="#o" x="664.0" y="484.1"/><use href="#o" x="665.4" y="482.2"/><use href="#o" x="666.7" y="480.3"/><use href="#o" x="668.1" y="478.5"/><use href="#o" x="669.4" y="476.7"/><use href="#o" x="670.8" y="475.0"/><use href="#o" x="672.1" y="473.4"/><use href="#o" x="673.5" y="471.9"/><use href="#o" x="674.8" y="470.4"/><use href="#o" x="676.2" y="469.0"/><use href="#o" x="677.5" y="467.6"/><use href="#o" x="678.9" y="466.3"/></g>
<path d="M682.1,472.2L696.3,460.5L707.9,453.1L727.7,442.8L741.9,436.6L764.3,429.7L786.8,424.5L804.0,421.6L855.3,414.8L858.5,413.4L860.7,410.6L861.1,408.9L860.6,405.4L858.4,402.6L856.9,401.7L853.4,401.3L799.3,408.6L782.9,411.4L767.7,414.8L752.5,418.9L737.3,423.8L728.7,427.3L716.3,433.3L703.9,439.7L695.5,444.7L687.0,450.5L679.9,456.2L674.2,461.3L672.3,464.4L672.1,466.1L672.9,469.5L673.9,471.0L676.9,472.8L680.5,472.9Z" fill="#ee0000"/>
<use href="#o" x="854.4" y="408.0" stroke="#ee0000"/>
<path d="M570.1,723.3L587.4,723.0L592.7,721.9L597.1,719.8L601.7,716.0L603.8,713.1L605.8,709.5L606.6,707.5L606.7,705.3L606.4,703.2L605.4,701.2L604.0,699.6L602.3,698.3L600.2,697.6L598.1,697.4L595.9,697.8L594.0,698.7L592.3,700.1L589.4,704.8L587.0,706.2L582.1,706.7L562.0,706.7L559.9,707.0L557.9,707.8L556.1,709.1L554.8,710.9L554.0,712.9L553.7,715.0L554.0,717.1L554.8,719.1L556.1,720.9L557.9,722.2L559.9,723.0Z" fill="#34649e"/>
<path d="M562.0,721.8L585.3,721.6L592.2,720.4L595.0,719.3L598.5,717.0L601.3,714.1L603.1,711.4L606.3,704.0L611.7,684.3L619.8,657.1L634.7,602.8L641.4,580.5L646.6,565.6L654.4,549.0L658.3,542.1L663.4,534.0L668.6,527.1L673.7,521.0L680.1,514.3L686.6,508.4L694.3,502.3L704.8,495.0L739.8,473.5L758.6,461.1L797.4,440.1L804.9,436.5L819.0,431.7L834.6,428.0L902.0,415.6L947.6,408.9L950.9,407.6L953.0,404.8L953.5,401.3L952.2,398.0L949.4,395.9L945.9,395.4L903.8,401.5L829.3,415.2L816.7,418.2L804.0,422.2L792.4,427.3L751.6,449.4L732.5,462.0L697.3,483.7L686.2,491.4L677.8,498.0L670.7,504.5L665.0,510.4L659.3,516.9L653.7,524.3L648.0,532.7L643.8,540.0L635.4,557.2L631.2,568.1L625.7,585.2L616.2,618.0L605.4,658.2L598.7,680.5L593.3,699.9L591.3,704.7L589.3,706.9L585.6,708.0L560.2,708.4L558.6,709.1L556.1,711.6L555.4,713.2L555.4,716.8L556.1,718.4L558.6,720.9Z" fill="#34649e"/>
<g stroke="#34649e"><use href="#o" x="594.4" y="711.6"/><use href="#o" x="595.8" y="710.2"/><use href="#o" x="597.1" y="708.3"/><use href="#o" x="598.5" y="705.7"/><use href="#o" x="599.8" y="702.1"/><use href="#o" x="601.2" y="697.4"/><use href="#o" x="602.5" y="692.2"/><use href="#o" x="603.9" y="687.1"/><use href="#o" x="605.2" y="682.4"/><use href="#o" x="606.6" y="677.9"/><use href="#o" x="607.9" y="673.5"/><use href="#o" x="609.3" y="669.1"/><use href="#o" x="610.6" y="664.7"/><use href="#o" x="612.0" y="660.1"/><use href="#o" x="613.3" y="655.3"/><use href="#o" x="614.7" y="650.4"/><use href="#o" x="616.0" y="645.3"/><use href="#o" x="617.4" y="640.2"/><use href="#o" x="618.7" y="635.0"/><use href="#o" x="620.1" y="629.9"/><use href="#o" x="621.4" y="624.8"/><use href="#o" x="622.8" y="619.8"/><use href="#o" x="624.1" y="614.9"/><use href="#o" x="625.5" y="610.2"/><use href="#o" x="626.8" y="605.6"/><use href="#o" x="628.2" y="600.9"/><use href="#o" x="629.5" y="596.3"/><use href="#o" x="630.9" y="591.7"/><use href="#o" x="632.2" y="587.1"/><use href="#o" x="633.6" y="582.7"/><use href="#o" x="634.9" y="578.4"/><use href="#o" x="636.3" y="574.2"/><use href="#o" x="637.6" y="570.3"/><use href="#o" x="639.0" y="566.6"/><use href="#o" x="640.3" y="563.1"/><use href="#o" x="641.7" y="559.9"/><use href="#o" x="643.0" y="556.8"/><use href="#o" x="644.4" y="553.9"/><use href="#o" x="645.7" y="551.1"/><use href="#o" x="647.1" y="548.4"/><use href="#o" x="648.4" y="545.8"/><use href="#o" x="649.8" y="543.3"/><use href="#o" x="651.1" y="540.9"/><use href="#o" x="652.5" y="538.6"/><use href="#o" x="653.8" y="536.4"/><use href="#o" x="655.2" y="534.2"/><use href="#o" x="656.5" y="532.2"/><use href="#o" x="657.9" y="530.2"/><use href="#o" x="659.2" y="528.3"/><use href="#o" x="660.6" y="526.4"/><use href="#o" x="661.9" y="524.6"/><use href="#o" x="663.3" y="522.9"/><use href="#o" x="664.6" y="521.2"/><use href="#o" x="666.0" y="519.6"/><use href="#o" x="667.3" y="518.0"/><use href="#o" x="668.7" y="516.4"/><use href="#o" x="670.0" y="515.0"/><use href="#o" x="671.4" y="513.5"/><use href="#o" x="672.7" y="512.1"/><use href="#o" x="674.1" y="510.7"/><use href="#o" x="675.4" y="509.4"/></g>
<path d="M678.7,515.4L691.7,504.3L703.5,495.9L739.8,473.5L757.3,461.8L770.4,454.4L798.7,439.4L804.9,436.5L819.0,431.7L834.6,428.0L902.0,415.6L947.6,408.9L950.9,407.6L952.1,406.3L953.5,403.1L953.0,399.6L950.9,396.8L949.4,395.9L945.9,395.4L909.2,400.6L827.9,415.5L812.5,419.4L799.7,423.9L791.0,428.0L754.4,447.7L731.2,462.8L701.4,481.0L690.4,488.4L680.5,495.8L670.7,504.5L668.9,507.5L668.6,509.3L669.4,512.7L670.5,514.1L673.5,515.9L677.0,516.0Z" fill="#34649e"/>
<use href="#o" x="946.8" y="402.2" stroke="#34649e"/>
<path d="M566.0,724.3L595.6,723.9L601.0,722.6L605.6,720.2L610.0,716.1L613.8,710.1L614.6,708.0L614.8,705.9L614.4,703.7L613.6,701.8L612.2,700.1L610.4,698.8L608.4,698.0L606.3,697.8L604.1,698.2L602.1,699.1L600.5,700.4L597.3,705.4L596.2,706.5L594.8,707.2L588.8,707.7L566.0,707.7L563.9,708.0L561.9,708.8L560.1,710.1L558.8,711.9L558.0,713.9L557.7,716.0L558.0,718.1L558.8,720.2L560.1,721.9L561.9,723.2L563.9,724.0Z" fill="#ffc000"/>
<path d="M566.0,722.8L592.1,722.7L599.2,721.6L602.6,720.2L605.5,718.4L608.9,715.1L611.1,711.8L614.3,705.2L618.5,691.8L630.7,640.8L636.0,620.4L641.3,604.1L647.9,587.1L658.4,564.4L663.7,554.8L668.8,546.6L673.9,539.8L679.0,533.8L692.0,521.3L703.7,511.7L714.1,504.6L723.1,499.3L748.7,486.1L761.2,479.1L769.7,473.5L787.3,460.2L797.8,453.1L809.6,446.0L824.1,438.6L837.2,432.7L847.6,428.9L866.1,423.6L887.5,418.0L904.8,414.2L919.4,411.6L932.5,409.9L948.8,408.5L951.7,406.6L953.3,403.5L953.2,400.0L951.3,397.0L949.8,396.0L946.4,395.3L936.7,395.9L920.1,397.7L902.2,400.9L880.3,405.8L854.4,412.7L840.5,417.0L829.3,421.3L810.0,430.4L794.7,439.0L780.8,448.1L763.1,461.5L755.5,466.7L743.7,473.3L715.3,488.1L705.4,494.0L694.2,501.9L683.0,511.1L676.0,517.5L669.0,524.7L663.3,531.3L657.6,538.9L653.3,545.6L647.7,555.6L636.7,578.6L628.5,599.5L622.9,616.6L617.4,637.6L605.3,688.4L601.5,700.5L599.3,705.1L597.1,707.7L594.4,708.8L588.8,709.2L566.0,709.2L562.6,710.1L560.1,712.6L559.4,714.2L559.4,717.8L560.1,719.4L562.6,721.9Z" fill="#ffc000"/>
<g stroke="#ffc000"><use href="#o" x="602.5" y="712.1"/><use href="#o" x="603.8" y="710.6"/><use href="#o" x="605.2" y="708.6"/><use href="#o" x="606.5" y="706.1"/><use href="#o" x="607.9" y="703.0"/><use href="#o" x="609.2" y="699.2"/><use href="#o" x="610.6" y="694.9"/><use href="#o" x="611.9" y="690.1"/><use href="#o" x="613.3" y="684.9"/><use href="#o" x="614.6" y="679.2"/><use href="#o" x="616.0" y="673.3"/><use href="#o" x="617.3" y="667.3"/><use href="#o" x="618.7" y="661.5"/><use href="#o" x="620.0" y="655.9"/><use href="#o" x="621.4" y="650.3"/><use href="#o" x="622.7" y="644.7"/><use href="#o" x="624.1" y="639.2"/><use href="#o" x="625.4" y="633.7"/><use href="#o" x="626.8" y="628.4"/><use href="#o" x="628.1" y="623.3"/><use href="#o" x="629.5" y="618.5"/><use href="#o" x="630.8" y="614.0"/><use href="#o" x="632.2" y="609.7"/><use href="#o" x="633.5" y="605.7"/><use href="#o" x="634.9" y="601.8"/><use href="#o" x="636.2" y="598.1"/><use href="#o" x="637.6" y="594.5"/><use href="#o" x="638.9" y="591.1"/><use href="#o" x="640.3" y="587.7"/><use href="#o" x="641.6" y="584.4"/><use href="#o" x="643.0" y="581.3"/><use href="#o" x="644.3" y="578.2"/><use href="#o" x="645.7" y="575.2"/><use href="#o" x="647.0" y="572.3"/><use href="#o" x="648.4" y="569.4"/><use href="#o" x="649.7" y="566.7"/><use href="#o" x="651.1" y="564.0"/><use href="#o" x="652.4" y="561.3"/><use href="#o" x="653.8" y="558.7"/><use href="#o" x="655.1" y="556.2"/><use href="#o" x="656.5" y="553.7"/><use href="#o" x="657.8" y="551.4"/><use href="#o" x="659.2" y="549.1"/><use href="#o" x="660.5" y="546.9"/><use href="#o" x="661.9" y="544.8"/><use href="#o" x="663.2" y="542.8"/><use href="#o" x="664.6" y="540.8"/><use href="#o" x="665.9" y="539.0"/><use href="#o" x="667.3" y="537.2"/><use href="#o" x="668.6" y="535.5"/><use href="#o" x="670.0" y="533.8"/><use href="#o" x="671.3" y="532.3"/><use href="#o" x="672.7" y="530.7"/><use href="#o" x="674.0" y="529.2"/><use href="#o" x="675.4" y="527.8"/><use href="#o" x="676.7" y="526.4"/><use href="#o" x="678.1" y="525.0"/><use href="#o" x="679.4" y="523.7"/><use href="#o" x="680.8" y="522.4"/></g>
<path d="M684.0,528.3L701.1,513.7L714.1,504.6L723.1,499.3L748.7,486.1L761.2,479.1L769.7,473.5L787.3,460.2L797.8,453.1L809.6,446.0L824.1,438.6L837.2,432.7L847.6,428.9L866.1,423.6L887.5,418.0L904.8,414.2L919.4,411.6L932.5,409.9L948.8,408.5L950.4,407.8L952.8,405.2L953.5,401.7L952.4,398.4L951.3,397.0L948.1,395.4L942.3,395.5L921.5,397.5L899.4,401.4L874.8,407.2L846.2,415.1L833.5,419.6L818.2,426.4L803.0,434.1L790.5,441.6L780.7,448.2L763.1,461.5L754.2,467.5L743.7,473.3L712.5,489.7L704.0,494.9L695.5,500.9L687.2,507.5L678.9,514.8L676.1,517.4L674.2,520.4L674.1,524.0L674.8,525.6L675.8,527.1L678.8,528.9L682.3,529.0Z" fill="#ffc000"/>
<use href="#o" x="946.7" y="402.1" stroke="#ffc000"/>
<path d="M570.0,725.3L597.2,725.2L602.0,724.8L606.7,723.8L611.1,721.6L614.7,718.9L616.7,716.6L620.5,710.8L621.3,708.8L621.5,706.6L621.2,704.5L620.3,702.5L619.0,700.8L617.2,699.5L615.2,698.7L613.0,698.5L610.9,698.8L608.9,699.7L607.2,701.0L604.0,706.0L602.7,707.3L601.2,708.1L595.5,708.7L570.0,708.7L567.9,709.0L565.9,709.8L564.1,711.1L562.8,712.9L562.0,714.9L561.7,717.0L562.0,719.1L562.8,721.2L564.1,722.9L565.9,724.2L567.9,725.0Z" fill="#38b766"/>
<path d="M570.0,723.8L598.9,723.6L606.1,722.4L609.6,720.8L612.3,719.0L615.6,715.6L617.8,712.5L620.8,706.5L623.7,697.9L642.7,629.5L646.6,617.3L651.8,604.1L661.1,584.8L672.9,564.4L681.9,551.4L686.9,545.9L691.9,541.1L699.7,534.9L714.3,524.3L748.2,501.4L787.4,471.2L802.1,460.4L813.8,452.7L829.7,443.7L841.4,437.8L851.8,433.6L875.8,425.6L897.2,419.1L911.8,415.3L926.3,412.3L939.4,410.2L955.6,408.5L958.6,406.5L959.5,405.0L960.2,401.5L959.0,398.2L956.4,395.9L952.9,395.3L932.2,397.5L911.4,401.5L892.1,406.4L868.9,413.5L845.7,421.4L831.7,427.4L812.3,437.8L795.6,448.4L779.2,460.4L740.1,490.5L705.1,514.1L691.5,524.0L683.0,530.9L677.3,536.3L672.9,541.0L664.2,552.8L651.8,573.4L646.3,583.9L640.7,595.6L635.2,608.9L631.0,621.1L624.2,644.7L612.1,689.4L608.2,701.2L606.1,705.6L603.6,708.5L600.9,709.7L595.5,710.2L570.0,710.2L566.6,711.1L564.1,713.6L563.4,715.2L563.4,718.8L564.1,720.4L566.6,722.9Z" fill="#38b766"/>
<g stroke="#38b766"><use href="#o" x="609.2" y="712.7"/><use href="#o" x="610.5" y="711.1"/><use href="#o" x="611.9" y="709.2"/><use href="#o" x="613.2" y="706.8"/><use href="#o" x="614.6" y="703.7"/><use href="#o" x="615.9" y="700.0"/><use href="#o" x="617.3" y="695.8"/><use href="#o" x="618.6" y="691.3"/><use href="#o" x="620.0" y="686.5"/><use href="#o" x="621.3" y="681.5"/><use href="#o" x="622.7" y="676.4"/><use href="#o" x="624.0" y="671.2"/><use href="#o" x="625.4" y="666.1"/><use href="#o" x="626.7" y="661.1"/><use href="#o" x="628.1" y="656.2"/><use href="#o" x="629.4" y="651.4"/><use href="#o" x="630.8" y="646.5"/><use href="#o" x="632.1" y="641.6"/><use href="#o" x="633.5" y="636.8"/><use href="#o" x="634.8" y="632.1"/><use href="#o" x="636.2" y="627.5"/><use href="#o" x="637.5" y="623.1"/><use href="#o" x="638.9" y="619.0"/><use href="#o" x="640.2" y="615.0"/><use href="#o" x="641.6" y="611.4"/><use href="#o" x="642.9" y="607.9"/><use href="#o" x="644.3" y="604.6"/><use href="#o" x="645.6" y="601.4"/><use href="#o" x="647.0" y="598.3"/><use href="#o" x="648.3" y="595.3"/><use href="#o" x="649.7" y="592.4"/><use href="#o" x="651.0" y="589.6"/><use href="#o" x="652.4" y="586.9"/><use href="#o" x="653.7" y="584.2"/><use href="#o" x="655.1" y="581.6"/><use href="#o" x="656.4" y="579.1"/><use href="#o" x="657.8" y="576.7"/><use href="#o" x="659.1" y="574.3"/><use href="#o" x="660.5" y="571.9"/><use href="#o" x="661.8" y="569.6"/><use href="#o" x="663.2" y="567.3"/><use href="#o" x="664.5" y="565.1"/><use href="#o" x="665.9" y="562.9"/><use href="#o" x="667.2" y="560.7"/><use href="#o" x="668.6" y="558.6"/><use href="#o" x="669.9" y="556.6"/><use href="#o" x="671.3" y="554.5"/><use href="#o" x="672.6" y="552.6"/><use href="#o" x="674.0" y="550.7"/><use href="#o" x="675.3" y="548.9"/><use href="#o" x="676.7" y="547.1"/><use href="#o" x="678.0" y="545.5"/><use href="#o" x="679.4" y="544.0"/><use href="#o" x="680.7" y="542.5"/><use href="#o" x="682.1" y="541.1"/><use href="#o" x="683.4" y="539.8"/></g>
<path d="M686.7,545.7L698.4,535.9L711.6,526.2L749.5,500.5L786.1,472.2L802.1,460.4L813.8,452.7L829.7,443.7L841.4,437.8L851.8,433.6L875.8,425.6L897.2,419.1L911.8,415.3L926.3,412.3L939.4,410.2L955.6,408.5L958.6,406.5L959.5,405.0L960.2,401.5L959.0,398.2L956.4,395.9L954.7,395.4L947.4,395.7L928.0,398.2L905.9,402.8L881.2,409.6L849.9,419.9L837.2,424.8L823.3,431.7L805.4,441.9L790.1,452.3L740.1,490.5L710.6,510.3L691.5,524.0L680.1,533.5L677.6,536.2L676.9,537.8L676.6,539.6L677.4,543.0L678.5,544.5L681.5,546.3L685.0,546.4Z" fill="#38b766"/>
<use href="#o" x="953.4" y="402.0" stroke="#38b766"/>
<path d="M563.0,721.3L613.7,721.0L619.0,720.0L623.6,718.3L628.9,714.7L632.8,710.7L634.0,708.9L634.6,706.8L634.7,704.7L634.3,702.5L633.3,700.6L631.8,699.0L630.0,697.8L627.9,697.2L625.8,697.1L623.6,697.5L621.7,698.5L617.5,702.6L613.9,704.2L606.1,704.7L563.0,704.7L560.9,705.0L558.9,705.8L557.1,707.1L555.8,708.9L555.0,710.9L554.7,713.0L555.0,715.1L555.8,717.2L557.1,718.9L558.9,720.2L560.9,721.0Z" fill="#5e5e9c"/>
<path d="M561.2,719.6L610.6,719.7L618.7,718.5L622.3,717.2L626.1,715.0L629.8,711.8L632.0,709.2L636.7,701.2L641.0,690.1L650.5,655.3L655.9,638.0L661.2,622.7L667.7,607.7L676.9,590.5L682.1,582.0L688.6,572.7L693.7,566.2L700.1,559.3L713.0,547.9L729.1,536.2L736.2,530.6L742.0,525.1L746.5,519.8L749.8,515.1L754.1,507.1L763.7,484.2L768.8,473.0L772.4,467.1L776.9,462.1L781.6,458.3L786.5,455.1L794.2,450.9L802.0,447.3L821.8,439.6L847.1,431.2L868.4,425.4L896.5,419.1L920.5,414.6L947.6,410.4L950.4,408.3L951.8,405.1L951.8,403.3L950.5,400.0L947.7,397.9L944.2,397.4L923.7,400.2L906.0,403.4L885.6,407.5L865.2,412.2L850.0,416.2L822.7,424.9L807.6,430.3L796.6,434.8L788.1,438.8L779.5,443.4L773.6,447.2L767.7,452.0L761.4,459.0L756.8,466.7L751.2,478.9L743.1,498.5L739.3,506.0L735.8,511.5L731.0,516.8L726.0,521.3L703.2,538.3L696.1,544.3L689.1,551.1L683.3,557.5L676.3,566.4L670.7,574.6L665.2,583.6L655.5,601.7L648.4,618.0L642.9,633.8L637.5,651.4L628.1,685.9L624.4,695.6L621.1,701.2L619.2,703.1L616.8,704.8L614.2,705.6L611.1,706.0L561.2,706.4L558.2,708.2L556.4,711.2L556.4,714.8L557.1,716.4L559.6,718.9Z" fill="#5e5e9c"/>
<g stroke="#5e5e9c"><use href="#o" x="623.8" y="708.2"/><use href="#o" x="625.1" y="706.9"/><use href="#o" x="626.5" y="705.3"/><use href="#o" x="627.8" y="703.4"/><use href="#o" x="629.2" y="701.1"/><use href="#o" x="630.5" y="698.5"/><use href="#o" x="631.9" y="695.4"/><use href="#o" x="633.2" y="691.9"/><use href="#o" x="634.6" y="687.9"/><use href="#o" x="635.9" y="683.4"/><use href="#o" x="637.3" y="678.3"/><use href="#o" x="638.6" y="673.0"/><use href="#o" x="640.0" y="667.7"/><use href="#o" x="641.3" y="662.6"/><use href="#o" x="642.7" y="657.9"/><use href="#o" x="644.0" y="653.4"/><use href="#o" x="645.4" y="648.9"/><use href="#o" x="646.7" y="644.5"/><use href="#o" x="648.1" y="640.1"/><use href="#o" x="649.4" y="635.9"/><use href="#o" x="650.8" y="631.8"/><use href="#o" x="652.1" y="627.8"/><use href="#o" x="653.5" y="624.0"/><use href="#o" x="654.8" y="620.3"/><use href="#o" x="656.2" y="616.8"/><use href="#o" x="657.5" y="613.6"/><use href="#o" x="658.9" y="610.5"/><use href="#o" x="660.2" y="607.6"/><use href="#o" x="661.6" y="604.8"/><use href="#o" x="662.9" y="602.0"/><use href="#o" x="664.3" y="599.4"/><use href="#o" x="665.6" y="596.8"/><use href="#o" x="667.0" y="594.2"/><use href="#o" x="668.3" y="591.8"/><use href="#o" x="669.7" y="589.4"/><use href="#o" x="671.0" y="587.0"/><use href="#o" x="672.4" y="584.8"/><use href="#o" x="673.7" y="582.6"/><use href="#o" x="675.1" y="580.4"/><use href="#o" x="676.4" y="578.3"/><use href="#o" x="677.8" y="576.3"/><use href="#o" x="679.1" y="574.3"/><use href="#o" x="680.5" y="572.3"/><use href="#o" x="681.8" y="570.5"/><use href="#o" x="683.2" y="568.6"/><use href="#o" x="684.5" y="566.9"/><use href="#o" x="685.9" y="565.1"/><use href="#o" x="687.2" y="563.5"/><use href="#o" x="688.6" y="561.8"/><use href="#o" x="689.9" y="560.3"/><use href="#o" x="691.3" y="558.7"/><use href="#o" x="692.6" y="557.3"/><use href="#o" x="694.0" y="555.9"/><use href="#o" x="695.3" y="554.5"/><use href="#o" x="696.7" y="553.2"/></g>
<path d="M699.9,559.1L714.3,546.8L730.5,535.1L739.0,528.0L740.2,526.6L741.2,523.3L740.5,519.8L739.5,518.4L738.1,517.2L734.8,516.2L731.3,516.9L722.2,524.3L708.8,534.0L701.7,539.5L692.0,548.2L690.1,551.2L689.9,553.0L690.7,556.4L693.1,559.0L694.7,559.7L696.5,560.0Z" fill="#5e5e9c"/>
<g stroke="#5e5e9c"><use href="#o" x="735.8" y="521.7"/><use href="#o" x="737.2" y="520.3"/><use href="#o" x="738.5" y="518.9"/><use href="#o" x="739.9" y="517.3"/><use href="#o" x="741.2" y="515.6"/><use href="#o" x="742.6" y="513.7"/><use href="#o" x="743.9" y="511.7"/><use href="#o" x="745.3" y="509.4"/><use href="#o" x="746.6" y="506.9"/><use href="#o" x="748.0" y="504.2"/><use href="#o" x="749.3" y="501.3"/><use href="#o" x="750.7" y="498.3"/><use href="#o" x="752.0" y="495.1"/><use href="#o" x="753.4" y="491.7"/><use href="#o" x="754.7" y="488.2"/><use href="#o" x="756.1" y="484.8"/><use href="#o" x="757.4" y="481.6"/><use href="#o" x="758.8" y="478.5"/><use href="#o" x="760.1" y="475.5"/><use href="#o" x="761.5" y="472.6"/><use href="#o" x="762.8" y="469.9"/><use href="#o" x="764.2" y="467.4"/><use href="#o" x="765.5" y="465.1"/><use href="#o" x="766.9" y="463.1"/><use href="#o" x="768.2" y="461.4"/><use href="#o" x="769.6" y="459.8"/><use href="#o" x="770.9" y="458.4"/></g>
<path d="M774.2,464.3L782.8,457.4L789.1,453.6L803.3,446.7L824.5,438.7L848.4,430.8L868.4,425.4L897.8,418.8L920.5,414.6L947.6,410.4L949.2,409.5L951.3,406.8L951.8,405.1L951.4,401.6L950.5,400.0L947.7,397.9L944.2,397.4L912.8,402.1L888.3,407.0L862.4,412.9L843.2,418.2L824.0,424.4L800.7,433.0L792.3,436.7L783.9,440.9L776.6,445.2L770.8,449.4L766.2,453.5L764.4,456.5L764.3,460.0L764.9,461.6L767.4,464.2L769.0,464.9L770.8,465.2Z" fill="#5e5e9c"/>
<use href="#o" x="945.1" y="404.1" stroke="#5e5e9c"/>
<path d="M629.0,719.3L675.9,719.0L681.3,717.9L684.7,716.4L688.5,713.5L692.0,709.0L692.6,706.9L692.6,704.7L692.1,702.6L691.0,700.7L689.5,699.1L687.7,698.0L685.6,697.4L683.4,697.4L681.3,697.9L679.4,699.0L676.4,702.0L674.1,702.5L629.0,702.7L626.9,703.0L624.9,703.8L623.1,705.1L621.8,706.9L621.0,708.9L620.7,711.0L621.0,713.1L621.8,715.1L623.1,716.9L624.9,718.2L626.9,719.0Z" fill="#999999"/>
<path d="M627.2,717.6L674.1,717.7L680.9,716.5L683.9,715.1L687.5,712.4L689.7,709.9L691.6,706.7L694.8,698.8L698.9,686.5L725.9,602.4L735.3,575.7L741.9,558.3L747.2,546.3L758.0,524.0L767.5,502.0L774.1,488.0L778.0,480.9L783.1,472.8L792.0,461.6L797.0,456.4L801.8,452.3L807.9,448.3L814.2,445.1L832.4,437.7L868.7,425.7L884.4,421.2L908.4,416.2L928.3,412.9L949.9,410.4L952.8,408.4L954.3,405.3L954.0,401.7L952.0,398.9L950.5,397.9L947.1,397.3L933.3,398.6L920.9,400.2L888.1,406.4L877.0,409.0L867.2,411.9L827.9,424.9L808.3,432.8L799.7,437.4L793.7,441.4L787.8,446.4L782.0,452.4L776.2,459.1L771.9,465.1L766.3,474.0L762.0,481.7L755.1,496.5L745.7,518.4L734.9,540.5L729.4,553.1L722.5,571.0L714.4,594.0L684.6,686.3L680.7,697.7L678.7,701.8L676.6,703.5L673.1,704.1L627.2,704.4L624.2,706.2L622.4,709.2L622.4,712.8L623.1,714.4L625.6,716.9Z" fill="#999999"/>
<g stroke="#999999"><use href="#o" x="683.0" y="707.3"/><use href="#o" x="684.4" y="705.6"/><use href="#o" x="685.7" y="703.3"/><use href="#o" x="687.1" y="700.2"/><use href="#o" x="688.4" y="696.5"/><use href="#o" x="689.8" y="692.5"/><use href="#o" x="691.1" y="688.5"/><use href="#o" x="692.5" y="684.4"/><use href="#o" x="693.8" y="680.2"/><use href="#o" x="695.2" y="676.1"/><use href="#o" x="696.5" y="671.9"/><use href="#o" x="697.9" y="667.6"/><use href="#o" x="699.2" y="663.4"/><use href="#o" x="700.6" y="659.2"/><use href="#o" x="701.9" y="654.9"/><use href="#o" x="703.3" y="650.5"/><use href="#o" x="704.6" y="646.2"/><use href="#o" x="706.0" y="641.9"/><use href="#o" x="707.3" y="637.5"/><use href="#o" x="708.7" y="633.3"/><use href="#o" x="710.0" y="629.0"/><use href="#o" x="711.4" y="624.9"/><use href="#o" x="712.7" y="620.7"/><use href="#o" x="714.1" y="616.5"/><use href="#o" x="715.4" y="612.4"/><use href="#o" x="716.8" y="608.3"/><use href="#o" x="718.1" y="604.2"/><use href="#o" x="719.5" y="600.2"/><use href="#o" x="720.8" y="596.2"/><use href="#o" x="722.2" y="592.3"/><use href="#o" x="723.5" y="588.4"/><use href="#o" x="724.9" y="584.6"/><use href="#o" x="726.2" y="580.9"/><use href="#o" x="727.6" y="577.1"/><use href="#o" x="728.9" y="573.4"/><use href="#o" x="730.3" y="569.7"/><use href="#o" x="731.6" y="566.1"/><use href="#o" x="733.0" y="562.6"/><use href="#o" x="734.3" y="559.1"/><use href="#o" x="735.7" y="555.7"/><use href="#o" x="737.0" y="552.5"/><use href="#o" x="738.4" y="549.3"/><use href="#o" x="739.7" y="546.3"/><use href="#o" x="741.1" y="543.4"/><use href="#o" x="742.4" y="540.6"/><use href="#o" x="743.8" y="537.8"/><use href="#o" x="745.1" y="535.1"/><use href="#o" x="746.5" y="532.4"/><use href="#o" x="747.8" y="529.7"/><use href="#o" x="749.2" y="526.9"/><use href="#o" x="750.5" y="524.1"/><use href="#o" x="751.9" y="521.2"/><use href="#o" x="753.2" y="518.2"/><use href="#o" x="754.6" y="515.0"/><use href="#o" x="755.9" y="511.8"/><use href="#o" x="757.3" y="508.6"/><use href="#o" x="758.6" y="505.4"/><use href="#o" x="760.0" y="502.3"/><use href="#o" x="761.3" y="499.3"/><use href="#o" x="762.7" y="496.2"/><use href="#o" x="764.0" y="493.3"/><use href="#o" x="765.4" y="490.4"/><use href="#o" x="766.7" y="487.6"/><use href="#o" x="768.1" y="484.9"/><use href="#o" x="769.4" y="482.3"/><use href="#o" x="770.8" y="479.8"/><use href="#o" x="772.1" y="477.5"/><use href="#o" x="773.5" y="475.2"/><use href="#o" x="774.8" y="473.0"/><use href="#o" x="776.2" y="470.9"/><use href="#o" x="777.5" y="468.9"/><use href="#o" x="778.9" y="467.0"/><use href="#o" x="780.2" y="465.1"/><use href="#o" x="781.6" y="463.4"/><use href="#o" x="782.9" y="461.7"/><use href="#o" x="784.3" y="460.1"/><use href="#o" x="785.6" y="458.5"/><use href="#o" x="787.0" y="457.0"/><use href="#o" x="788.3" y="455.5"/><use href="#o" x="789.7" y="454.1"/><use href="#o" x="791.0" y="452.8"/></g>
<path d="M794.3,458.7L803.0,451.4L807.9,448.3L814.2,445.1L821.9,441.7L836.4,436.3L875.3,423.6L889.7,420.0L913.7,415.2L929.6,412.7L949.9,410.4L951.5,409.6L953.7,406.9L954.3,405.3L954.0,401.7L953.2,400.2L950.5,397.9L947.1,397.3L929.2,399.1L909.9,402.1L889.5,406.1L875.6,409.4L830.6,423.9L814.0,430.3L801.0,436.6L795.2,440.3L790.6,443.9L786.3,447.9L784.5,450.9L784.4,454.4L785.0,456.0L787.5,458.6L789.1,459.3L792.6,459.4Z" fill="#999999"/>
<use href="#o" x="947.6" y="404.0" stroke="#999999"/>
<path d="M667.0,719.8L709.9,719.5L715.0,718.5L719.7,716.6L725.0,712.8L728.2,709.2L729.0,707.2L729.3,705.1L729.0,702.9L728.2,700.9L726.8,699.2L725.1,697.9L723.1,697.1L720.9,696.8L718.8,697.1L716.8,698.0L711.8,702.0L708.0,703.0L667.0,703.2L664.9,703.5L662.9,704.3L661.1,705.6L659.8,707.4L659.0,709.4L658.7,711.5L659.0,713.6L659.8,715.7L661.1,717.4L662.9,718.7L664.9,719.5Z" fill="#ff6464"/>
<path d="M692.7,718.3L709.7,718.0L714.6,717.0L719.0,715.3L724.1,711.7L727.6,707.9L730.8,703.1L734.0,697.0L738.3,686.1L750.4,648.0L764.0,601.6L772.2,567.9L780.3,527.4L784.2,512.9L789.4,498.0L794.6,486.3L800.9,475.4L808.4,465.7L821.4,453.0L830.3,445.8L841.6,438.8L851.6,434.3L857.9,432.3L866.9,430.0L889.4,426.0L975.5,416.6L978.8,415.3L981.0,412.6L981.5,410.9L981.2,407.4L979.1,404.5L975.9,403.1L974.1,403.1L897.1,411.3L873.7,414.8L854.1,419.2L846.9,421.5L839.6,424.6L832.4,428.4L825.2,432.8L819.4,437.0L813.7,441.7L798.4,456.5L791.0,465.8L783.9,477.3L778.2,489.5L772.6,504.6L769.8,513.6L767.0,524.4L757.6,571.0L749.5,603.0L740.1,635.2L726.7,677.8L722.8,688.6L720.4,693.9L716.0,700.6L713.3,702.9L710.9,703.9L703.4,704.7L667.0,704.7L663.6,705.6L661.1,708.1L660.4,709.7L660.4,713.3L661.1,714.9L663.6,717.4L665.2,718.1Z" fill="#ff6464"/>
<g stroke="#ff6464"><use href="#o" x="719.7" y="706.5"/><use href="#o" x="721.0" y="705.1"/><use href="#o" x="722.4" y="703.5"/><use href="#o" x="723.7" y="701.6"/><use href="#o" x="725.1" y="699.5"/><use href="#o" x="726.4" y="697.0"/><use href="#o" x="727.8" y="694.3"/><use href="#o" x="729.1" y="691.2"/><use href="#o" x="730.5" y="687.8"/><use href="#o" x="731.8" y="684.0"/><use href="#o" x="733.2" y="679.9"/><use href="#o" x="734.5" y="675.7"/><use href="#o" x="735.9" y="671.4"/><use href="#o" x="737.2" y="667.1"/><use href="#o" x="738.6" y="662.9"/><use href="#o" x="739.9" y="658.7"/><use href="#o" x="741.3" y="654.5"/><use href="#o" x="742.6" y="650.2"/><use href="#o" x="744.0" y="645.9"/><use href="#o" x="745.3" y="641.6"/><use href="#o" x="746.7" y="637.2"/><use href="#o" x="748.0" y="632.7"/><use href="#o" x="749.4" y="628.2"/><use href="#o" x="750.7" y="623.6"/><use href="#o" x="752.1" y="619.0"/><use href="#o" x="753.4" y="614.3"/><use href="#o" x="754.8" y="609.6"/><use href="#o" x="756.1" y="604.8"/><use href="#o" x="757.5" y="599.8"/><use href="#o" x="758.8" y="594.7"/><use href="#o" x="760.2" y="589.5"/><use href="#o" x="761.5" y="584.1"/><use href="#o" x="762.9" y="578.4"/><use href="#o" x="764.2" y="572.5"/><use href="#o" x="765.6" y="566.4"/><use href="#o" x="766.9" y="560.1"/><use href="#o" x="768.3" y="553.6"/><use href="#o" x="769.6" y="546.7"/><use href="#o" x="771.0" y="539.5"/><use href="#o" x="772.3" y="532.4"/><use href="#o" x="773.7" y="526.0"/><use href="#o" x="775.0" y="520.3"/><use href="#o" x="776.4" y="515.4"/><use href="#o" x="777.7" y="510.9"/><use href="#o" x="779.1" y="506.7"/><use href="#o" x="780.4" y="502.8"/><use href="#o" x="781.8" y="499.1"/><use href="#o" x="783.1" y="495.5"/><use href="#o" x="784.5" y="492.2"/><use href="#o" x="785.8" y="489.0"/><use href="#o" x="787.2" y="486.0"/><use href="#o" x="788.5" y="483.2"/><use href="#o" x="789.9" y="480.6"/><use href="#o" x="791.2" y="478.2"/><use href="#o" x="792.6" y="475.9"/><use href="#o" x="793.9" y="473.7"/><use href="#o" x="795.3" y="471.6"/><use href="#o" x="796.6" y="469.6"/><use href="#o" x="798.0" y="467.7"/><use href="#o" x="799.3" y="466.0"/><use href="#o" x="800.7" y="464.3"/><use href="#o" x="802.0" y="462.7"/><use href="#o" x="803.4" y="461.1"/><use href="#o" x="804.7" y="459.7"/><use href="#o" x="806.1" y="458.3"/><use href="#o" x="807.4" y="456.9"/><use href="#o" x="808.8" y="455.6"/></g>
<path d="M812.0,461.6L825.3,449.7L834.0,443.2L845.4,436.9L855.3,433.0L872.2,428.9L892.0,425.6L975.5,416.6L978.8,415.3L981.0,412.6L981.5,410.9L981.2,407.4L979.1,404.5L975.9,403.1L974.1,403.1L888.8,412.3L868.1,415.9L851.3,420.0L844.0,422.6L838.1,425.3L830.9,429.2L823.8,433.7L816.6,439.2L809.5,445.5L804.0,450.7L802.2,453.7L802.1,457.2L802.8,458.9L803.8,460.3L806.9,462.1L810.4,462.2Z" fill="#ff6464"/>
<use href="#o" x="974.8" y="409.8" stroke="#ff6464"/>
</g>
<path d="M560.6,566.4H781V546.8L821.7,587.4L781,628V607.9H560.6Z" fill="#ff7b84" fill-opacity="0.5"/>
<path d="M107,581.5L148,541V561H367.4V602H148V622Z" fill="#5b9bd5" fill-opacity="0.5"/>
<rect x="100" y="351" width="884.6" height="391.0" fill="none" stroke="#000" stroke-width="4.8"/>
<path d="M542.4,351V742" stroke="#000" stroke-width="3"/>
<path d="M168.0,740.0l0,-6M168.0,353.0l0,6M302.0,740.0l0,-6M302.0,353.0l0,6M436.0,740.0l0,-6M436.0,353.0l0,6M235.0,740.0l0,-2.5M235.0,353.0l0,2.5M369.0,740.0l0,-2.5M369.0,353.0l0,2.5M503.0,740.0l0,-2.5M503.0,353.0l0,2.5M591.3,740.0l0,-6M591.3,353.0l0,6M716.3,740.0l0,-6M716.3,353.0l0,6M841.3,740.0l0,-6M841.3,353.0l0,6M966.3,740.0l0,-6M966.3,353.0l0,6M653.8,740.0l0,-2.5M653.8,353.0l0,2.5M778.8,740.0l0,-2.5M778.8,353.0l0,2.5M903.8,740.0l0,-2.5M903.8,353.0l0,2.5M102.0,719.0l6,0M982.6,719.0l-4,0M102.0,702.4l2.5,0M102.0,692.8l2.5,0M102.0,685.9l2.5,0M102.0,680.6l2.5,0M102.0,676.2l2.5,0M102.0,672.5l2.5,0M102.0,669.3l2.5,0M102.0,666.5l2.5,0M102.0,664.0l6,0M982.6,664.0l-4,0M102.0,647.4l2.5,0M102.0,637.8l2.5,0M102.0,630.9l2.5,0M102.0,625.6l2.5,0M102.0,621.2l2.5,0M102.0,617.5l2.5,0M102.0,614.3l2.5,0M102.0,611.5l2.5,0M102.0,609.0l6,0M982.6,609.0l-4,0M102.0,592.4l2.5,0M102.0,582.8l2.5,0M102.0,575.9l2.5,0M102.0,570.6l2.5,0M102.0,566.2l2.5,0M102.0,562.5l2.5,0M102.0,559.3l2.5,0M102.0,556.5l2.5,0M102.0,554.0l6,0M982.6,554.0l-4,0M102.0,537.4l2.5,0M102.0,527.8l2.5,0M102.0,520.9l2.5,0M102.0,515.6l2.5,0M102.0,511.2l2.5,0M102.0,507.5l2.5,0M102.0,504.3l2.5,0M102.0,501.5l2.5,0M102.0,499.0l6,0M982.6,499.0l-4,0M102.0,482.4l2.5,0M102.0,472.8l2.5,0M102.0,465.9l2.5,0M102.0,460.6l2.5,0M102.0,456.2l2.5,0M102.0,452.5l2.5,0M102.0,449.3l2.5,0M102.0,446.5l2.5,0M102.0,444.0l6,0M982.6,444.0l-4,0M102.0,427.4l2.5,0M102.0,417.8l2.5,0M102.0,410.9l2.5,0M102.0,405.6l2.5,0M102.0,401.2l2.5,0M102.0,397.5l2.5,0M102.0,394.3l2.5,0M102.0,391.5l2.5,0M102.0,389.0l6,0M982.6,389.0l-4,0M102.0,372.4l2.5,0M102.0,362.8l2.5,0M102.0,355.9l2.5,0" stroke="#000" stroke-width="4.2" fill="none"/>
<text x="168.0" y="776.5" font-size="29.5" text-anchor="middle" >-1</text>
<text x="302.0" y="776.5" font-size="29.5" text-anchor="middle" >0</text>
<text x="436.0" y="776.5" font-size="29.5" text-anchor="middle" >1</text>
<text x="591.3" y="776.5" font-size="29.5" text-anchor="middle" >-1</text>
<text x="716.3" y="776.5" font-size="29.5" text-anchor="middle" >0</text>
<text x="841.3" y="776.5" font-size="29.5" text-anchor="middle" >1</text>
<text x="966.3" y="776.5" font-size="29.5" text-anchor="middle" >2</text>
<text x="48" y="454.8" font-size="29.5">10<tspan dy="-12.5" font-size="20.5">-7</tspan></text>
<text x="48" y="564.8" font-size="29.5">10<tspan dy="-12.5" font-size="20.5">-9</tspan></text>
<text x="37.7" y="674.8" font-size="29.5">10<tspan dy="-12.5" font-size="20.5">-11</tspan></text>
<text transform="translate(37,722) rotate(-90)" font-size="31" >Drain Current <tspan font-style="italic">I</tspan><tspan dy="8" font-size="20.5">DS</tspan><tspan dy="-8"> (A/µm)</tspan></text>
<text x="380.8" y="820" font-size="31">Gate Voltage <tspan font-style="italic">V</tspan><tspan dy="8" font-size="20.5">GS</tspan><tspan dy="-8"> (V)</tspan></text>
<text x="0.0" y="365.0" font-size="37" >(b)</text>
<text x="125.2" y="388.5" font-size="31"><tspan font-style="italic">V</tspan><tspan dy="7" font-size="20">DS</tspan><tspan dy="-7"> = 0.01 V</tspan></text>
<text x="128.2" y="432" font-size="31"><tspan font-style="italic">t</tspan><tspan dy="7" font-size="20">pw</tspan><tspan dy="-7"> = 1 µs</tspan></text>
<text x="568" y="392" font-size="31"><tspan font-style="italic">V</tspan><tspan dy="7" font-size="20">DS</tspan><tspan dy="-7"> = 0.01 V</tspan></text>
<text x="571" y="435" font-size="31"><tspan font-style="italic">t</tspan><tspan dy="7" font-size="20">pw</tspan><tspan dy="-7"> = 1 µs</tspan></text>
<text x="118.9" y="533.4" font-size="31.5" >Write</text>
<text x="562.0" y="534.0" font-size="31.5" >Erase</text>
<path d="M400,458.4H458" stroke="#000000" stroke-width="2.6"/>
<rect x="424" y="453.1" width="10.6" height="10.6" fill="#fff" stroke="#000000" stroke-width="1.6"/>
<text x="464.5" y="467.4" font-size="25" >Initial</text>
<path d="M400,490.6H458" stroke="#ee0000" stroke-width="2.6"/>
<rect x="424" y="485.3" width="10.6" height="10.6" fill="#fff" stroke="#ee0000" stroke-width="1.6"/>
<text x="464.5" y="499.6" font-size="25" >3.5 V</text>
<path d="M400,522.8H458" stroke="#34649e" stroke-width="2.6"/>
<rect x="424" y="517.5" width="10.6" height="10.6" fill="#fff" stroke="#34649e" stroke-width="1.6"/>
<text x="464.5" y="531.8" font-size="25" >3.75 V</text>
<path d="M400,555.0H458" stroke="#ffc000" stroke-width="2.6"/>
<rect x="424" y="549.7" width="10.6" height="10.6" fill="#fff" stroke="#ffc000" stroke-width="1.6"/>
<text x="464.5" y="564.0" font-size="25" >4 V</text>
<path d="M400,587.2H458" stroke="#38b766" stroke-width="2.6"/>
<rect x="424" y="581.9" width="10.6" height="10.6" fill="#fff" stroke="#38b766" stroke-width="1.6"/>
<text x="464.5" y="596.2" font-size="25" >4.25 V</text>
<path d="M400,619.4H458" stroke="#5e5e9c" stroke-width="2.6"/>
<rect x="424" y="614.1" width="10.6" height="10.6" fill="#fff" stroke="#5e5e9c" stroke-width="1.6"/>
<text x="464.5" y="628.4" font-size="25" >4.5 V</text>
<path d="M400,651.6H458" stroke="#999999" stroke-width="2.6"/>
<rect x="424" y="646.3" width="10.6" height="10.6" fill="#fff" stroke="#999999" stroke-width="1.6"/>
<text x="464.5" y="660.6" font-size="25" >4.75 V</text>
<path d="M400,683.8H458" stroke="#ff6464" stroke-width="2.6"/>
<rect x="424" y="678.5" width="10.6" height="10.6" fill="#fff" stroke="#ff6464" stroke-width="1.6"/>
<text x="464.5" y="692.8" font-size="25" >5 V</text>
<path d="M400,716.0H458" stroke="#6698cc" stroke-width="2.6"/>
<rect x="424" y="710.7" width="10.6" height="10.6" fill="#fff" stroke="#6698cc" stroke-width="1.6"/>
<text x="464.5" y="725.0" font-size="25" >5.25 V</text>
<path d="M828.4,517.6H887" stroke="#ee0000" stroke-width="2.6"/>
<circle cx="858" cy="517.6" r="5.5" fill="#fff" stroke="#ee0000" stroke-width="1.6"/>
<text x="892.8" y="526.6" font-size="25" >-6.5 V</text>
<path d="M828.4,549.6H887" stroke="#34649e" stroke-width="2.6"/>
<circle cx="858" cy="549.6" r="5.5" fill="#fff" stroke="#34649e" stroke-width="1.6"/>
<text x="892.8" y="558.6" font-size="25" >-6.75 V</text>
<path d="M828.4,581.6H887" stroke="#ffc000" stroke-width="2.6"/>
<circle cx="858" cy="581.6" r="5.5" fill="#fff" stroke="#ffc000" stroke-width="1.6"/>
<text x="892.8" y="590.6" font-size="25" >-7 V</text>
<path d="M828.4,613.6H887" stroke="#38b766" stroke-width="2.6"/>
<circle cx="858" cy="613.6" r="5.5" fill="#fff" stroke="#38b766" stroke-width="1.6"/>
<text x="892.8" y="622.6" font-size="25" >-7.25V</text>
<path d="M835.5,645.6H892" stroke="#5e5e9c" stroke-width="2.6"/>
<circle cx="864" cy="645.6" r="5.5" fill="#fff" stroke="#5e5e9c" stroke-width="1.6"/>
<text x="900.0" y="654.6" font-size="25" >-7.5 V</text>
<path d="M828.4,677.6H887" stroke="#999999" stroke-width="2.6"/>
<circle cx="858" cy="677.6" r="5.5" fill="#fff" stroke="#999999" stroke-width="1.6"/>
<text x="892.8" y="686.6" font-size="25" >-7.75 V</text>
<path d="M828.4,709.6H887" stroke="#ff6464" stroke-width="2.6"/>
<circle cx="858" cy="709.6" r="5.5" fill="#fff" stroke="#ff6464" stroke-width="1.6"/>
<text x="892.8" y="718.6" font-size="25" >-8 V</text>
<g clip-path="url(#c2)">
<path d="M137.7,1018.9L99.3,1107.3L94.5,1119.3L90.6,1130.4L90.6,1163.0L97.0,1163.0L103.9,1140.9L110.3,1123.7L148.7,1035.0L156.7,1018.0L161.5,1008.8L169.5,995.8L180.7,980.4L188.7,972.1L195.1,967.0L199.9,963.7L204.7,961.3L209.5,959.4L220.7,956.3L235.1,953.8L254.3,951.6L302.3,947.3L359.9,943.0L436.7,938.0L502.3,934.3L502.3,921.7L489.7,921.7L432.1,924.9L300.9,933.8L230.5,940.2L214.5,942.4L203.3,944.9L193.7,948.0L187.3,951.1L177.7,958.2L169.7,965.9L161.7,976.3L152.1,990.7L145.7,1002.2Z" fill="#000000"/>
<g stroke="#000000"><use href="#q" x="88.0" y="1166.0"/><use href="#q" x="89.6" y="1160.4"/><use href="#q" x="91.2" y="1154.9"/><use href="#q" x="92.8" y="1149.6"/><use href="#q" x="94.4" y="1144.4"/><use href="#q" x="96.0" y="1139.4"/><use href="#q" x="97.6" y="1134.6"/><use href="#q" x="99.2" y="1130.0"/><use href="#q" x="100.8" y="1125.6"/><use href="#q" x="102.4" y="1121.4"/><use href="#q" x="104.0" y="1117.4"/><use href="#q" x="105.6" y="1113.6"/><use href="#q" x="107.2" y="1109.9"/><use href="#q" x="108.8" y="1106.3"/><use href="#q" x="110.4" y="1102.6"/><use href="#q" x="112.0" y="1099.0"/><use href="#q" x="113.6" y="1095.3"/><use href="#q" x="115.2" y="1091.7"/><use href="#q" x="116.8" y="1088.1"/><use href="#q" x="118.4" y="1084.5"/><use href="#q" x="120.0" y="1080.9"/><use href="#q" x="121.6" y="1077.2"/><use href="#q" x="123.2" y="1073.5"/><use href="#q" x="124.8" y="1069.8"/><use href="#q" x="126.4" y="1066.0"/><use href="#q" x="128.0" y="1062.2"/><use href="#q" x="129.6" y="1058.4"/><use href="#q" x="131.2" y="1054.6"/><use href="#q" x="132.8" y="1050.8"/><use href="#q" x="134.4" y="1047.1"/><use href="#q" x="136.0" y="1043.4"/><use href="#q" x="137.6" y="1039.6"/><use href="#q" x="139.2" y="1035.9"/><use href="#q" x="140.8" y="1032.3"/><use href="#q" x="142.4" y="1028.7"/><use href="#q" x="144.0" y="1025.2"/><use href="#q" x="145.6" y="1021.7"/><use href="#q" x="147.2" y="1018.3"/><use href="#q" x="148.8" y="1015.0"/><use href="#q" x="150.4" y="1011.7"/><use href="#q" x="152.0" y="1008.5"/><use href="#q" x="153.6" y="1005.4"/><use href="#q" x="155.2" y="1002.5"/><use href="#q" x="156.8" y="999.7"/><use href="#q" x="158.4" y="997.0"/><use href="#q" x="160.0" y="994.4"/><use href="#q" x="161.6" y="991.9"/><use href="#q" x="163.2" y="989.5"/><use href="#q" x="164.8" y="987.2"/><use href="#q" x="166.4" y="984.9"/><use href="#q" x="168.0" y="982.6"/><use href="#q" x="169.6" y="980.4"/></g>
<path d="M216.1,942.1L203.3,944.9L192.1,948.7L185.7,952.1L177.7,958.2L169.7,965.9L163.3,974.1L163.3,986.7L175.9,986.7L180.7,980.4L185.5,975.1L191.9,969.4L198.3,964.7L203.1,962.0L209.5,959.4L215.9,957.5L223.9,955.6L235.1,953.8L249.5,952.1L316.7,946.2L417.5,939.2L502.3,934.3L502.3,921.7L489.7,921.7L446.5,924.0L329.7,931.7L264.1,936.9L233.7,939.8Z" fill="#000000"/>
<use href="#q" x="496.0" y="928.0" stroke="#000000"/>
<path d="M137.7,1030.4L118.5,1073.5L99.3,1114.8L90.6,1135.7L90.6,1163.0L97.6,1163.0L110.3,1131.0L132.7,1082.6L150.3,1043.0L159.9,1023.1L167.9,1008.6L175.9,996.3L185.5,984.3L193.5,976.8L206.3,967.6L211.1,965.0L217.5,962.5L223.9,960.4L231.9,958.4L251.1,955.2L281.5,951.7L326.3,947.7L383.9,943.6L447.9,939.8L502.3,937.3L502.3,924.7L484.9,924.9L425.7,927.7L364.9,931.5L312.1,935.2L275.3,938.5L243.3,942.0L224.1,944.9L211.3,947.8L200.1,951.7L192.1,956.0L179.3,965.5L171.3,973.5L163.3,983.7L155.3,996.0L147.3,1010.5Z" fill="#ee0000"/>
<g stroke="#ee0000"><use href="#q" x="88.0" y="1166.0"/><use href="#q" x="89.6" y="1161.5"/><use href="#q" x="91.2" y="1157.1"/><use href="#q" x="92.8" y="1152.7"/><use href="#q" x="94.4" y="1148.5"/><use href="#q" x="96.0" y="1144.3"/><use href="#q" x="97.6" y="1140.2"/><use href="#q" x="99.2" y="1136.2"/><use href="#q" x="100.8" y="1132.3"/><use href="#q" x="102.4" y="1128.4"/><use href="#q" x="104.0" y="1124.7"/><use href="#q" x="105.6" y="1121.1"/><use href="#q" x="107.2" y="1117.6"/><use href="#q" x="108.8" y="1114.2"/><use href="#q" x="110.4" y="1110.8"/><use href="#q" x="112.0" y="1107.4"/><use href="#q" x="113.6" y="1104.0"/><use href="#q" x="115.2" y="1100.6"/><use href="#q" x="116.8" y="1097.1"/><use href="#q" x="118.4" y="1093.7"/><use href="#q" x="120.0" y="1090.2"/><use href="#q" x="121.6" y="1086.8"/><use href="#q" x="123.2" y="1083.3"/><use href="#q" x="124.8" y="1079.8"/><use href="#q" x="126.4" y="1076.3"/><use href="#q" x="128.0" y="1072.8"/><use href="#q" x="129.6" y="1069.1"/><use href="#q" x="131.2" y="1065.5"/><use href="#q" x="132.8" y="1061.8"/><use href="#q" x="134.4" y="1058.2"/><use href="#q" x="136.0" y="1054.5"/><use href="#q" x="137.6" y="1050.9"/><use href="#q" x="139.2" y="1047.3"/><use href="#q" x="140.8" y="1043.7"/><use href="#q" x="142.4" y="1040.2"/><use href="#q" x="144.0" y="1036.7"/><use href="#q" x="145.6" y="1033.2"/><use href="#q" x="147.2" y="1029.8"/><use href="#q" x="148.8" y="1026.4"/><use href="#q" x="150.4" y="1023.2"/><use href="#q" x="152.0" y="1020.0"/><use href="#q" x="153.6" y="1016.8"/><use href="#q" x="155.2" y="1013.7"/><use href="#q" x="156.8" y="1010.7"/><use href="#q" x="158.4" y="1007.8"/><use href="#q" x="160.0" y="1005.0"/><use href="#q" x="161.6" y="1002.3"/><use href="#q" x="163.2" y="999.7"/><use href="#q" x="164.8" y="997.1"/><use href="#q" x="166.4" y="994.7"/><use href="#q" x="168.0" y="992.3"/><use href="#q" x="169.6" y="990.0"/></g>
<path d="M216.1,946.5L204.9,949.9L195.3,954.0L184.1,961.6L176.1,968.4L169.7,975.4L163.3,983.7L163.3,996.3L175.9,996.3L182.3,988.0L188.7,981.0L195.1,975.5L203.1,969.6L207.9,966.6L214.3,963.7L222.3,960.9L231.9,958.4L246.3,955.9L265.5,953.4L295.9,950.3L327.9,947.6L422.3,941.2L502.3,937.3L502.3,924.7L488.1,924.8L432.1,927.4L377.7,930.6L321.7,934.5L284.9,937.6L251.3,941.0L232.1,943.5Z" fill="#ee0000"/>
<use href="#q" x="496.0" y="931.0" stroke="#ee0000"/>
<path d="M137.7,1050.5L116.9,1089.1L90.6,1140.5L90.6,1163.0L98.5,1163.0L111.9,1135.8L139.1,1083.5L156.7,1051.8L169.5,1030.9L177.5,1019.6L182.3,1013.9L188.7,1008.1L196.7,1003.1L201.5,1001.0L206.3,999.5L220.7,996.5L239.9,994.0L271.9,991.0L318.3,987.3L377.5,983.1L500.7,975.9L500.7,963.3L488.1,963.3L425.7,966.8L360.1,970.9L299.3,975.2L228.9,981.2L209.7,983.7L196.9,986.1L188.9,988.4L182.5,991.3L176.1,995.5L169.7,1001.3L164.9,1007.0L156.9,1018.3L147.3,1033.7Z" fill="#34649e"/>
<g stroke="#34649e"><use href="#q" x="88.0" y="1166.0"/><use href="#q" x="89.6" y="1162.4"/><use href="#q" x="91.2" y="1158.8"/><use href="#q" x="92.8" y="1155.3"/><use href="#q" x="94.4" y="1151.9"/><use href="#q" x="96.0" y="1148.6"/><use href="#q" x="97.6" y="1145.3"/><use href="#q" x="99.2" y="1142.1"/><use href="#q" x="100.8" y="1138.9"/><use href="#q" x="102.4" y="1135.7"/><use href="#q" x="104.0" y="1132.6"/><use href="#q" x="105.6" y="1129.5"/><use href="#q" x="107.2" y="1126.3"/><use href="#q" x="108.8" y="1123.2"/><use href="#q" x="110.4" y="1120.1"/><use href="#q" x="112.0" y="1117.0"/><use href="#q" x="113.6" y="1113.9"/><use href="#q" x="115.2" y="1110.8"/><use href="#q" x="116.8" y="1107.7"/><use href="#q" x="118.4" y="1104.6"/><use href="#q" x="120.0" y="1101.5"/><use href="#q" x="121.6" y="1098.4"/><use href="#q" x="123.2" y="1095.4"/><use href="#q" x="124.8" y="1092.3"/><use href="#q" x="126.4" y="1089.3"/><use href="#q" x="128.0" y="1086.2"/><use href="#q" x="129.6" y="1083.2"/><use href="#q" x="131.2" y="1080.2"/><use href="#q" x="132.8" y="1077.2"/><use href="#q" x="134.4" y="1074.3"/><use href="#q" x="136.0" y="1071.3"/><use href="#q" x="137.6" y="1068.4"/><use href="#q" x="139.2" y="1065.4"/><use href="#q" x="140.8" y="1062.5"/><use href="#q" x="142.4" y="1059.6"/><use href="#q" x="144.0" y="1056.8"/><use href="#q" x="145.6" y="1053.9"/><use href="#q" x="147.2" y="1051.1"/><use href="#q" x="148.8" y="1048.3"/><use href="#q" x="150.4" y="1045.5"/><use href="#q" x="152.0" y="1042.7"/><use href="#q" x="153.6" y="1040.0"/><use href="#q" x="155.2" y="1037.3"/><use href="#q" x="156.8" y="1034.7"/><use href="#q" x="158.4" y="1032.1"/><use href="#q" x="160.0" y="1029.5"/><use href="#q" x="161.6" y="1027.0"/><use href="#q" x="163.2" y="1024.6"/><use href="#q" x="164.8" y="1022.2"/><use href="#q" x="166.4" y="1019.9"/><use href="#q" x="168.0" y="1017.6"/></g>
<path d="M214.5,983.0L201.7,985.1L190.5,987.9L182.5,991.3L176.1,995.5L169.7,1001.3L161.7,1011.3L161.7,1023.9L174.3,1023.9L179.1,1017.6L183.9,1012.3L188.7,1008.1L193.5,1004.8L198.3,1002.3L203.1,1000.5L217.5,997.1L230.3,995.1L247.9,993.2L315.1,987.5L403.1,981.5L500.7,975.9L500.7,963.3L488.1,963.3L457.7,964.9L344.1,971.9L267.3,977.7L233.7,980.7Z" fill="#34649e"/>
<use href="#q" x="494.4" y="969.6" stroke="#34649e"/>
<path d="M137.7,1061.9L126.5,1071.1L115.3,1082.7L107.3,1093.1L102.5,1100.6L99.3,1106.5L96.1,1113.8L90.6,1129.1L90.6,1163.0L96.8,1163.0L102.3,1144.3L110.3,1122.6L113.5,1116.0L116.7,1110.6L121.5,1103.4L126.3,1097.2L137.5,1085.2L148.7,1075.6L155.1,1071.1L163.1,1066.3L169.5,1062.9L175.9,1060.0L188.7,1056.1L220.7,1049.3L235.1,1047.1L268.7,1043.1L313.5,1036.4L351.9,1031.9L398.3,1027.1L451.1,1022.2L500.7,1018.1L500.7,1005.5L488.1,1005.5L457.7,1007.9L406.5,1012.5L353.7,1017.7L300.9,1023.8L254.5,1030.7L212.9,1035.9L201.7,1037.9L180.9,1042.4L166.5,1046.2L160.1,1048.7L153.7,1051.9L145.7,1056.5Z" fill="#ffc000"/>
<g stroke="#ffc000"><use href="#q" x="88.0" y="1166.0"/><use href="#q" x="89.6" y="1159.9"/><use href="#q" x="91.2" y="1154.0"/><use href="#q" x="92.8" y="1148.3"/><use href="#q" x="94.4" y="1143.0"/><use href="#q" x="96.0" y="1138.0"/><use href="#q" x="97.6" y="1133.3"/><use href="#q" x="99.2" y="1128.7"/><use href="#q" x="100.8" y="1124.3"/><use href="#q" x="102.4" y="1120.1"/><use href="#q" x="104.0" y="1116.3"/><use href="#q" x="105.6" y="1112.8"/><use href="#q" x="107.2" y="1109.7"/><use href="#q" x="108.8" y="1106.9"/><use href="#q" x="110.4" y="1104.3"/><use href="#q" x="112.0" y="1101.8"/><use href="#q" x="113.6" y="1099.4"/><use href="#q" x="115.2" y="1097.1"/></g>
<path d="M172.9,1044.3L161.7,1048.1L150.5,1053.7L137.7,1061.9L126.5,1071.1L116.9,1080.8L108.9,1090.8L108.9,1103.4L121.5,1103.4L127.9,1095.3L135.9,1086.7L143.9,1079.5L151.9,1073.3L161.5,1067.2L171.1,1062.1L179.1,1058.8L187.1,1056.5L212.7,1050.8L225.5,1048.5L267.1,1043.3L303.9,1037.7L324.7,1035.0L363.1,1030.7L409.5,1026.0L500.7,1018.1L500.7,1005.5L488.1,1005.5L435.3,1009.9L371.3,1015.9L320.1,1021.5L292.9,1024.9L254.5,1030.7L212.9,1035.9L198.5,1038.5Z" fill="#ffc000"/>
<use href="#q" x="494.4" y="1011.8" stroke="#ffc000"/>
<path d="M137.7,1067.2L126.5,1076.2L120.1,1082.4L115.3,1087.6L107.3,1098.1L102.5,1105.7L99.3,1111.5L96.1,1118.7L90.6,1133.3L90.6,1163.0L97.3,1163.0L105.5,1139.6L111.9,1124.1L115.1,1118.3L119.9,1110.7L124.7,1104.1L129.5,1098.4L139.1,1088.8L150.3,1079.8L156.7,1075.7L163.1,1072.2L175.9,1066.5L190.3,1062.3L222.3,1055.5L303.9,1045.2L367.9,1038.7L500.7,1027.3L500.7,1014.7L488.1,1014.7L480.1,1015.4L334.5,1028.0L294.5,1032.2L216.1,1041.9L195.3,1045.7L176.1,1050.1L166.5,1052.8L160.1,1055.2L152.1,1058.8L144.1,1063.1Z" fill="#38b766"/>
<g stroke="#38b766"><use href="#q" x="88.0" y="1166.0"/><use href="#q" x="89.6" y="1160.9"/><use href="#q" x="91.2" y="1155.9"/><use href="#q" x="92.8" y="1151.1"/><use href="#q" x="94.4" y="1146.5"/><use href="#q" x="96.0" y="1142.0"/><use href="#q" x="97.6" y="1137.6"/><use href="#q" x="99.2" y="1133.3"/><use href="#q" x="100.8" y="1129.1"/><use href="#q" x="102.4" y="1125.0"/><use href="#q" x="104.0" y="1121.2"/><use href="#q" x="105.6" y="1117.8"/><use href="#q" x="107.2" y="1114.8"/><use href="#q" x="108.8" y="1112.0"/><use href="#q" x="110.4" y="1109.3"/><use href="#q" x="112.0" y="1106.8"/><use href="#q" x="113.6" y="1104.4"/><use href="#q" x="115.2" y="1102.1"/></g>
<path d="M172.9,1050.9L160.1,1055.2L147.3,1061.3L136.1,1068.3L126.5,1076.2L116.9,1085.8L108.9,1095.8L108.9,1108.4L121.5,1108.4L127.9,1100.2L135.9,1091.8L143.9,1084.7L151.9,1078.7L161.5,1073.0L171.1,1068.4L180.7,1064.9L190.3,1062.3L214.3,1057.0L227.1,1054.7L310.3,1044.4L372.7,1038.3L500.7,1027.3L500.7,1014.7L488.1,1014.7L446.5,1018.1L348.9,1026.7L300.9,1031.5L212.9,1042.4L198.5,1045.0Z" fill="#38b766"/>
<use href="#q" x="494.4" y="1021.0" stroke="#38b766"/>
<path d="M137.7,1094.8L126.5,1102.7L113.7,1113.3L104.1,1122.8L97.7,1130.8L90.6,1142.2L90.6,1163.0L98.8,1163.0L107.1,1148.2L110.3,1143.4L115.1,1137.2L119.9,1132.0L126.3,1125.9L140.7,1114.1L150.3,1107.4L159.9,1102.0L172.7,1096.5L183.9,1093.1L209.5,1087.7L227.1,1084.8L252.7,1081.8L303.9,1076.8L350.3,1074.4L500.7,1068.8L500.7,1056.2L488.1,1056.2L467.3,1056.9L315.3,1062.8L284.9,1064.7L236.9,1069.5L204.9,1073.6L171.3,1080.5L161.7,1083.4L153.7,1086.5L145.7,1090.2Z" fill="#5e5e9c"/>
<g stroke="#5e5e9c"><use href="#q" x="88.0" y="1166.0"/><use href="#q" x="89.6" y="1162.6"/><use href="#q" x="91.2" y="1159.2"/><use href="#q" x="92.8" y="1156.0"/><use href="#q" x="94.4" y="1153.0"/><use href="#q" x="96.0" y="1150.0"/><use href="#q" x="97.6" y="1147.2"/><use href="#q" x="99.2" y="1144.5"/><use href="#q" x="100.8" y="1141.9"/><use href="#q" x="102.4" y="1139.4"/><use href="#q" x="104.0" y="1137.1"/></g>
<path d="M163.3,1082.8L150.5,1087.9L144.1,1091.1L137.7,1094.8L124.9,1104.0L112.1,1114.7L104.1,1122.8L97.7,1130.8L97.7,1143.4L110.3,1143.4L118.3,1133.7L127.9,1124.5L142.3,1112.9L155.1,1104.5L163.1,1100.5L172.7,1096.5L180.7,1093.9L191.9,1091.2L215.9,1086.5L231.9,1084.1L281.5,1078.9L305.5,1076.7L350.3,1074.4L500.7,1068.8L500.7,1056.2L488.1,1056.2L345.7,1061.5L289.7,1064.3L236.9,1069.5L211.3,1072.6L179.3,1078.6Z" fill="#5e5e9c"/>
<use href="#q" x="494.4" y="1062.5" stroke="#5e5e9c"/>
<path d="M137.7,1078.8L126.5,1087.0L115.3,1096.9L105.7,1107.7L99.3,1117.2L96.1,1123.6L90.6,1136.5L90.6,1163.0L97.7,1163.0L107.1,1139.8L111.9,1129.8L115.1,1124.7L119.9,1118.3L124.7,1112.8L131.1,1106.5L143.9,1095.8L155.1,1088.5L166.3,1083.2L182.3,1077.3L201.5,1071.9L222.3,1067.5L307.1,1056.8L351.9,1052.6L500.7,1040.9L500.7,1028.3L488.1,1028.3L321.7,1041.5L292.9,1044.4L254.5,1049.4L216.1,1053.9L195.3,1057.8L182.5,1060.9L171.3,1064.2L152.1,1071.2L144.1,1075.1Z" fill="#999999"/>
<g stroke="#999999"><use href="#q" x="88.0" y="1166.0"/><use href="#q" x="89.6" y="1161.6"/><use href="#q" x="91.2" y="1157.2"/><use href="#q" x="92.8" y="1153.0"/><use href="#q" x="94.4" y="1149.0"/><use href="#q" x="96.0" y="1145.0"/><use href="#q" x="97.6" y="1141.1"/><use href="#q" x="99.2" y="1137.3"/><use href="#q" x="100.8" y="1133.5"/><use href="#q" x="102.4" y="1129.9"/><use href="#q" x="104.0" y="1126.5"/><use href="#q" x="105.6" y="1123.5"/><use href="#q" x="107.2" y="1120.8"/><use href="#q" x="108.8" y="1118.4"/><use href="#q" x="110.4" y="1116.1"/></g>
<path d="M168.1,1065.2L153.7,1070.6L142.5,1075.9L131.3,1083.2L120.1,1092.4L112.1,1100.2L104.1,1109.8L104.1,1122.4L116.7,1122.4L124.7,1112.8L135.9,1102.2L147.1,1093.5L158.3,1086.8L167.9,1082.5L179.1,1078.4L191.9,1074.4L204.7,1071.1L217.5,1068.3L230.3,1066.3L315.1,1055.9L356.7,1052.2L500.7,1040.9L500.7,1028.3L488.1,1028.3L462.5,1030.3L337.7,1040.1L296.1,1044.0L209.7,1054.9L187.3,1059.7Z" fill="#999999"/>
<use href="#q" x="494.4" y="1034.6" stroke="#999999"/>
<path d="M137.7,1089.9L126.5,1098.0L113.7,1108.8L105.7,1117.0L99.3,1125.3L90.6,1141.9L90.6,1163.0L98.9,1163.0L108.7,1143.5L113.5,1135.6L121.5,1126.1L132.7,1115.9L145.5,1105.8L155.1,1099.6L167.9,1093.3L179.1,1089.4L217.5,1081.7L228.7,1079.9L251.1,1077.1L303.9,1071.4L367.9,1067.3L500.7,1061.0L500.7,1048.4L488.1,1048.4L443.3,1050.3L326.5,1056.3L288.1,1059.1L236.9,1064.7L209.7,1068.3L168.1,1076.4L161.7,1078.3L153.7,1081.4L144.1,1086.1Z" fill="#ff6464"/>
<g stroke="#ff6464"><use href="#q" x="88.0" y="1166.0"/><use href="#q" x="89.6" y="1162.7"/><use href="#q" x="91.2" y="1159.5"/><use href="#q" x="92.8" y="1156.3"/><use href="#q" x="94.4" y="1153.1"/><use href="#q" x="96.0" y="1150.0"/><use href="#q" x="97.6" y="1146.8"/><use href="#q" x="99.2" y="1143.6"/><use href="#q" x="100.8" y="1140.3"/><use href="#q" x="102.4" y="1137.2"/><use href="#q" x="104.0" y="1134.3"/><use href="#q" x="105.6" y="1131.6"/><use href="#q" x="107.2" y="1129.3"/></g>
<path d="M166.5,1076.8L160.1,1078.8L153.7,1081.4L140.9,1087.9L129.7,1095.6L115.3,1107.4L107.3,1115.2L100.9,1123.0L100.9,1135.6L113.5,1135.6L119.9,1127.8L126.3,1121.4L139.1,1110.6L148.7,1103.5L156.7,1098.7L166.3,1094.0L175.9,1090.3L183.9,1088.3L219.1,1081.4L230.3,1079.7L252.7,1076.9L305.5,1071.3L369.5,1067.2L500.7,1061.0L500.7,1048.4L488.1,1048.4L409.7,1051.9L337.7,1055.6L294.5,1058.5L240.1,1064.3L216.1,1067.3L204.9,1069.1Z" fill="#ff6464"/>
<use href="#q" x="494.4" y="1054.7" stroke="#ff6464"/>
<path d="M137.7,1105.2L126.5,1112.1L118.5,1118.7L113.7,1123.8L90.6,1150.7L90.6,1163.0L103.5,1163.0L129.5,1132.9L135.9,1127.1L145.5,1120.5L155.1,1115.4L164.7,1111.3L175.9,1107.6L187.1,1104.7L209.5,1100.2L228.7,1097.3L257.5,1094.0L303.9,1089.5L361.5,1086.3L500.7,1080.5L500.7,1067.9L488.1,1067.9L451.3,1069.3L328.1,1074.7L289.7,1077.1L246.5,1081.2L208.1,1085.8L177.7,1091.3L166.5,1094.1L155.3,1097.6L145.7,1101.3Z" fill="#6698cc"/>
<use href="#q" x="494.4" y="1074.2" stroke="#6698cc"/>
</g>
<g clip-path="url(#c3)">
<path d="M549.0,1163.0L556.8,1143.9L563.9,1129.6L569.4,1121.7L576.3,1114.6L584.5,1107.9L594.1,1102.6L599.6,1100.4L627.8,1091.2L643.7,1087.5L664.5,1083.9L697.3,1079.4L728.7,1075.8L764.5,1072.5L847.0,1066.8L912.6,1061.0L915.7,1059.9L916.9,1058.7L918.2,1055.8L917.9,1052.5L917.1,1051.1L914.6,1049.0L911.4,1048.5L838.5,1054.9L746.9,1061.3L709.3,1065.2L668.6,1070.6L642.8,1074.8L624.2,1079.1L595.4,1088.6L585.6,1092.7L579.0,1096.5L572.6,1101.1L566.2,1106.7L561.4,1111.7L556.2,1118.2L549.9,1129.1L543.7,1142.4L535.6,1163.0Z" fill="#ee0000"/>
<g stroke="#ee0000"><use href="#o" x="541.0" y="1166.5"/><use href="#o" x="543.0" y="1161.1"/><use href="#o" x="545.0" y="1155.9"/><use href="#o" x="547.0" y="1150.8"/><use href="#o" x="549.5" y="1144.8"/><use href="#o" x="552.0" y="1139.2"/><use href="#o" x="554.5" y="1133.9"/><use href="#o" x="557.5" y="1128.2"/><use href="#o" x="560.5" y="1123.2"/><use href="#o" x="564.5" y="1117.7"/></g>
<path d="M572.1,1118.3L581.8,1109.9L587.3,1106.2L592.7,1103.2L598.2,1100.9L629.2,1090.8L652.6,1085.8L695.8,1079.6L742.1,1074.4L768.9,1072.1L841.0,1067.3L912.6,1061.0L915.7,1059.9L916.9,1058.7L918.2,1055.8L918.3,1054.1L917.1,1051.1L916.0,1049.9L914.6,1049.0L911.4,1048.5L840.0,1054.8L768.0,1059.6L740.9,1061.9L694.2,1067.1L668.6,1070.6L650.4,1073.4L635.2,1076.4L624.1,1079.1L593.9,1089.1L583.9,1093.6L577.4,1097.6L571.0,1102.4L564.6,1108.3L562.9,1111.1L562.9,1114.4L563.5,1115.9L564.5,1117.2L567.3,1118.9L570.6,1118.9Z" fill="#ee0000"/>
<use href="#o" x="912.0" y="1054.7" stroke="#ee0000"/>
<path d="M545.1,1163.0L552.4,1140.1L558.1,1126.1L562.2,1119.2L569.1,1110.8L578.9,1101.9L587.7,1095.1L594.9,1090.2L600.5,1086.9L609.2,1082.5L623.6,1076.5L634.9,1073.4L651.0,1070.3L710.8,1062.1L818.7,1049.5L868.1,1044.5L912.5,1040.6L914.1,1040.3L916.8,1038.4L918.2,1035.5L917.9,1032.2L916.1,1029.5L913.1,1028.1L911.5,1028.1L865.4,1032.1L814.3,1037.3L713.7,1049.1L661.1,1056.0L636.7,1060.1L627.4,1062.2L619.5,1064.6L610.0,1068.3L600.7,1072.6L592.9,1076.7L585.0,1081.6L575.7,1088.4L566.4,1095.9L560.0,1102.0L555.0,1107.8L548.6,1117.3L543.7,1127.6L539.0,1140.3L532.0,1163.0Z" fill="#34649e"/>
<g stroke="#34649e"><use href="#o" x="537.5" y="1166.7"/><use href="#o" x="539.0" y="1161.6"/><use href="#o" x="540.5" y="1156.5"/><use href="#o" x="542.5" y="1150.0"/><use href="#o" x="544.5" y="1143.8"/><use href="#o" x="546.5" y="1138.0"/><use href="#o" x="548.5" y="1132.6"/><use href="#o" x="551.0" y="1126.6"/><use href="#o" x="553.5" y="1121.4"/><use href="#o" x="556.5" y="1116.4"/><use href="#o" x="560.5" y="1111.0"/><use href="#o" x="565.0" y="1105.9"/></g>
<path d="M569.1,1110.4L589.2,1094.0L596.3,1089.3L601.9,1086.1L612.1,1081.2L620.7,1077.5L629.2,1074.8L637.8,1072.7L658.4,1069.1L700.3,1063.5L797.7,1051.8L856.1,1045.7L912.5,1040.6L914.1,1040.3L916.8,1038.4L917.7,1037.0L918.3,1033.8L917.9,1032.2L916.1,1029.5L913.1,1028.1L911.5,1028.1L868.4,1031.8L808.3,1037.9L712.2,1049.3L658.1,1056.4L635.2,1060.4L625.8,1062.6L616.2,1065.8L605.3,1070.4L592.9,1076.7L583.4,1082.7L571.1,1092.0L561.6,1100.4L559.9,1103.2L559.7,1104.8L560.5,1108.0L561.5,1109.3L564.3,1111.0L565.9,1111.2Z" fill="#34649e"/>
<use href="#o" x="912.0" y="1034.3" stroke="#34649e"/>
<path d="M542.9,1163.0L549.0,1141.6L554.8,1125.7L558.9,1117.9L565.8,1108.2L571.5,1102.1L580.3,1093.7L586.1,1088.4L591.6,1084.2L604.3,1077.0L618.6,1070.9L625.7,1068.6L634.2,1066.6L659.2,1062.8L753.7,1052.0L912.7,1035.5L914.3,1035.1L916.9,1033.2L918.2,1030.2L917.9,1027.0L917.1,1025.5L914.5,1023.5L911.3,1023.0L761.3,1038.5L648.6,1051.5L628.6,1054.9L620.8,1056.9L614.3,1059.0L606.5,1062.1L597.2,1066.5L589.3,1070.8L582.7,1075.0L574.8,1081.6L562.6,1093.2L556.2,1100.1L551.3,1106.5L546.4,1114.2L541.6,1124.6L535.5,1142.7L529.8,1163.0Z" fill="#ffc000"/>
<g stroke="#ffc000"><use href="#o" x="535.5" y="1166.2"/><use href="#o" x="537.0" y="1160.6"/><use href="#o" x="538.5" y="1155.1"/><use href="#o" x="540.0" y="1149.7"/><use href="#o" x="541.5" y="1144.6"/><use href="#o" x="543.5" y="1138.1"/><use href="#o" x="545.5" y="1132.2"/><use href="#o" x="547.5" y="1126.8"/><use href="#o" x="550.0" y="1121.0"/><use href="#o" x="553.0" y="1115.4"/><use href="#o" x="556.5" y="1110.0"/><use href="#o" x="560.5" y="1104.8"/><use href="#o" x="565.0" y="1099.7"/></g>
<path d="M570.1,1103.1L587.5,1087.3L591.6,1084.2L597.1,1080.8L607.2,1075.6L615.8,1071.9L624.3,1069.0L632.8,1066.9L656.3,1063.2L734.2,1054.2L912.7,1035.5L914.3,1035.1L916.9,1033.2L917.8,1031.8L918.3,1028.6L917.1,1025.5L915.9,1024.3L914.5,1023.5L911.3,1023.0L731.3,1041.8L654.7,1050.7L630.3,1054.5L620.7,1056.9L609.7,1060.8L598.7,1065.7L587.8,1071.6L581.2,1076.2L574.7,1081.6L562.6,1093.2L560.9,1096.0L560.9,1099.3L561.5,1100.8L562.5,1102.1L565.3,1103.7L568.6,1103.8Z" fill="#ffc000"/>
<use href="#o" x="912.0" y="1029.2" stroke="#ffc000"/>
<path d="M541.1,1163.0L548.5,1138.6L554.3,1122.9L561.6,1107.6L570.3,1092.5L577.3,1083.0L587.1,1073.2L596.8,1066.0L602.3,1063.0L607.9,1060.5L622.2,1055.6L641.4,1050.8L663.6,1046.4L687.3,1042.7L727.6,1038.2L835.7,1028.8L873.3,1024.5L912.9,1019.3L915.9,1018.0L917.8,1015.4L918.3,1013.8L917.8,1010.6L915.8,1008.0L914.4,1007.2L911.1,1006.8L870.2,1012.2L831.4,1016.5L732.4,1025.1L696.2,1028.9L669.0,1032.7L643.2,1037.5L620.3,1043.0L611.0,1045.9L603.2,1048.8L595.2,1052.4L588.5,1056.4L582.0,1061.1L574.2,1068.0L567.8,1074.7L562.9,1080.9L558.2,1088.0L553.5,1096.1L545.8,1111.2L539.6,1125.8L533.5,1144.1L528.0,1163.0Z" fill="#38b766"/>
<g stroke="#38b766"><use href="#o" x="533.5" y="1166.6"/><use href="#o" x="535.0" y="1161.2"/><use href="#o" x="536.5" y="1156.0"/><use href="#o" x="538.0" y="1150.9"/><use href="#o" x="540.0" y="1144.4"/><use href="#o" x="542.0" y="1138.1"/><use href="#o" x="544.0" y="1132.2"/><use href="#o" x="546.0" y="1126.7"/><use href="#o" x="548.0" y="1121.7"/><use href="#o" x="550.5" y="1116.0"/><use href="#o" x="553.0" y="1110.7"/><use href="#o" x="555.5" y="1105.7"/><use href="#o" x="558.5" y="1100.0"/><use href="#o" x="561.5" y="1094.7"/><use href="#o" x="565.0" y="1089.0"/><use href="#o" x="568.5" y="1083.9"/><use href="#o" x="572.5" y="1078.9"/></g>
<path d="M580.1,1079.5L589.9,1070.9L596.8,1066.0L602.3,1063.0L609.3,1059.9L617.9,1056.9L628.1,1054.0L656.2,1047.8L679.9,1043.8L706.7,1040.4L762.1,1035.1L826.6,1029.7L864.2,1025.6L901.8,1020.8L914.5,1018.9L917.0,1016.9L917.8,1015.4L918.2,1012.2L917.8,1010.6L915.8,1008.0L914.4,1007.2L911.1,1006.8L870.2,1012.2L829.9,1016.7L738.4,1024.6L705.3,1027.8L678.1,1031.3L653.8,1035.4L632.6,1039.9L615.7,1044.4L603.1,1048.8L591.9,1054.3L585.4,1058.5L578.8,1063.7L572.6,1069.5L570.9,1072.3L570.7,1074.0L571.5,1077.1L572.5,1078.4L575.3,1080.1L578.6,1080.1Z" fill="#38b766"/>
<use href="#o" x="912.0" y="1013.1" stroke="#38b766"/>
<path d="M539.0,1163.0L546.5,1137.7L552.4,1121.1L561.2,1100.5L565.6,1091.7L569.8,1084.1L572.6,1080.0L576.7,1074.9L586.5,1065.3L594.7,1059.4L605.9,1054.0L621.7,1048.6L642.2,1043.8L665.9,1039.7L701.8,1034.8L733.2,1031.1L770.6,1027.3L912.5,1014.8L915.6,1013.7L917.7,1011.2L918.2,1009.6L917.9,1006.4L917.2,1004.9L914.7,1002.8L911.5,1002.3L775.4,1014.2L721.3,1019.8L674.6,1025.8L644.3,1030.6L619.9,1036.1L610.5,1038.9L601.1,1042.4L593.1,1046.0L586.7,1049.6L581.6,1053.1L575.2,1058.5L568.9,1064.8L564.0,1070.5L559.2,1077.4L554.4,1085.9L546.7,1102.0L539.1,1120.6L533.0,1138.7L525.9,1163.0Z" fill="#5e5e9c"/>
<g stroke="#5e5e9c"><use href="#o" x="531.5" y="1166.5"/><use href="#o" x="533.0" y="1161.0"/><use href="#o" x="534.5" y="1155.7"/><use href="#o" x="536.0" y="1150.5"/><use href="#o" x="537.5" y="1145.4"/><use href="#o" x="539.5" y="1138.9"/><use href="#o" x="541.5" y="1132.7"/><use href="#o" x="543.5" y="1126.9"/><use href="#o" x="545.5" y="1121.4"/><use href="#o" x="547.5" y="1116.3"/><use href="#o" x="550.0" y="1110.3"/><use href="#o" x="552.5" y="1104.5"/><use href="#o" x="555.0" y="1099.0"/><use href="#o" x="557.5" y="1093.7"/><use href="#o" x="560.5" y="1087.8"/><use href="#o" x="563.5" y="1082.5"/><use href="#o" x="567.0" y="1077.0"/><use href="#o" x="571.0" y="1071.9"/><use href="#o" x="576.0" y="1066.5"/></g>
<path d="M579.6,1071.5L589.3,1063.1L594.7,1059.4L600.2,1056.5L608.7,1052.9L617.4,1049.9L626.1,1047.5L651.1,1042.2L697.3,1035.4L743.7,1030.0L782.6,1026.2L912.5,1014.8L915.6,1013.7L916.8,1012.6L917.7,1011.2L918.3,1008.0L917.2,1004.9L916.1,1003.7L914.7,1002.8L911.5,1002.3L781.4,1013.6L742.3,1017.5L694.2,1023.1L648.9,1029.8L629.1,1033.8L613.7,1037.9L599.6,1043.0L588.4,1048.5L583.3,1051.9L576.9,1057.0L572.1,1061.5L570.4,1064.3L570.4,1067.5L571.0,1069.1L572.0,1070.4L574.8,1072.0L576.4,1072.3Z" fill="#5e5e9c"/>
<use href="#o" x="912.0" y="1008.5" stroke="#5e5e9c"/>
<path d="M537.1,1162.8L544.5,1137.7L550.4,1120.3L560.8,1094.1L568.0,1078.9L573.4,1070.7L581.8,1061.6L590.0,1055.0L594.0,1052.6L599.4,1050.1L616.9,1044.1L632.8,1039.8L659.5,1034.8L689.3,1030.4L737.1,1025.3L836.0,1017.5L912.7,1010.0L915.7,1008.8L917.8,1006.3L918.3,1003.1L917.9,1001.5L916.0,998.8L914.6,998.0L911.3,997.5L843.9,1004.1L757.0,1010.9L701.3,1016.3L665.0,1021.1L634.7,1026.6L616.2,1031.1L602.5,1035.5L594.5,1038.5L587.9,1041.6L581.4,1045.6L576.4,1049.5L570.0,1055.5L565.1,1060.9L560.2,1067.5L556.9,1072.9L552.3,1082.1L544.7,1100.3L537.0,1120.3L531.0,1138.8L523.9,1163.0Z" fill="#999999"/>
<g stroke="#999999"><use href="#o" x="529.5" y="1166.5"/><use href="#o" x="531.0" y="1161.1"/><use href="#o" x="532.5" y="1155.8"/><use href="#o" x="534.0" y="1150.6"/><use href="#o" x="535.5" y="1145.6"/><use href="#o" x="537.5" y="1139.0"/><use href="#o" x="539.5" y="1132.7"/><use href="#o" x="541.5" y="1126.7"/><use href="#o" x="543.5" y="1120.9"/><use href="#o" x="545.5" y="1115.4"/><use href="#o" x="547.5" y="1110.2"/><use href="#o" x="549.5" y="1105.1"/><use href="#o" x="551.5" y="1100.1"/><use href="#o" x="554.0" y="1094.0"/><use href="#o" x="556.5" y="1088.1"/><use href="#o" x="559.0" y="1082.7"/><use href="#o" x="561.5" y="1077.7"/><use href="#o" x="564.5" y="1072.4"/><use href="#o" x="568.0" y="1067.4"/><use href="#o" x="572.5" y="1062.1"/></g>
<path d="M578.6,1064.4L588.2,1056.3L593.5,1052.9L599.0,1050.2L606.0,1047.6L628.0,1041.0L656.1,1035.4L687.3,1030.7L723.1,1026.7L765.0,1022.9L838.6,1017.2L912.7,1010.0L914.3,1009.6L916.9,1007.7L918.2,1004.7L918.3,1003.1L917.9,1001.5L916.0,998.8L913.0,997.5L911.3,997.5L837.4,1004.7L764.0,1010.3L721.9,1014.1L685.7,1018.2L653.9,1022.9L634.2,1026.7L620.3,1029.9L600.4,1036.2L589.0,1041.0L582.6,1044.8L577.5,1048.6L571.1,1054.4L569.4,1057.2L569.4,1060.5L570.0,1062.0L572.3,1064.3L573.8,1065.0L575.4,1065.2Z" fill="#999999"/>
<use href="#o" x="912.0" y="1003.7" stroke="#999999"/>
<path d="M525.1,1163.0L537.0,1122.7L550.4,1081.6L557.8,1062.6L565.1,1047.2L571.0,1036.4L578.4,1024.0L584.2,1014.9L589.8,1007.3L595.4,1001.4L602.6,995.1L611.2,988.2L616.6,984.7L623.6,981.0L628.9,978.9L643.1,975.9L657.8,973.8L690.8,970.0L740.3,963.4L767.0,960.7L846.5,954.9L912.6,948.7L915.7,947.5L917.7,945.0L918.3,941.8L917.1,938.7L914.6,936.7L911.4,936.2L841.0,942.8L769.0,947.9L744.8,950.2L686.2,957.9L653.2,961.6L639.4,963.7L630.0,965.6L623.5,967.5L616.8,970.3L610.4,973.7L602.2,979.1L591.4,988.0L583.5,995.5L578.5,1001.3L570.7,1012.5L561.5,1027.5L553.9,1041.4L547.7,1054.1L541.6,1069.0L534.0,1090.9L522.0,1128.7L512.0,1163.0Z" fill="#ff6464"/>
<g stroke="#ff6464"><use href="#o" x="517.5" y="1166.6"/><use href="#o" x="519.0" y="1161.3"/><use href="#o" x="520.5" y="1156.0"/><use href="#o" x="522.0" y="1150.7"/><use href="#o" x="523.5" y="1145.6"/><use href="#o" x="525.0" y="1140.5"/><use href="#o" x="526.5" y="1135.5"/><use href="#o" x="528.5" y="1128.9"/><use href="#o" x="530.5" y="1122.4"/><use href="#o" x="532.5" y="1116.1"/><use href="#o" x="534.5" y="1109.8"/><use href="#o" x="536.5" y="1103.6"/><use href="#o" x="538.5" y="1097.4"/><use href="#o" x="540.5" y="1091.3"/><use href="#o" x="542.5" y="1085.3"/><use href="#o" x="544.5" y="1079.5"/><use href="#o" x="546.5" y="1073.9"/><use href="#o" x="548.5" y="1068.6"/><use href="#o" x="550.5" y="1063.6"/><use href="#o" x="553.0" y="1057.8"/><use href="#o" x="555.5" y="1052.4"/><use href="#o" x="558.0" y="1047.2"/><use href="#o" x="561.0" y="1041.4"/><use href="#o" x="564.0" y="1035.9"/><use href="#o" x="567.0" y="1030.6"/><use href="#o" x="570.0" y="1025.6"/><use href="#o" x="573.5" y="1019.9"/><use href="#o" x="577.0" y="1014.4"/><use href="#o" x="580.5" y="1009.2"/><use href="#o" x="584.5" y="1003.9"/><use href="#o" x="589.0" y="998.9"/></g>
<path d="M592.6,1003.9L609.8,989.2L618.0,983.9L623.6,981.0L628.9,978.9L640.1,976.4L654.8,974.1L687.8,970.4L732.8,964.4L753.6,961.9L839.0,955.6L912.6,948.7L914.2,948.3L916.9,946.4L918.2,943.4L918.3,941.8L917.9,940.2L916.0,937.6L913.0,936.2L911.4,936.2L838.0,943.0L752.4,949.4L731.2,951.9L686.2,957.9L653.2,961.6L637.9,964.0L630.0,965.6L623.3,967.6L616.7,970.4L608.8,974.6L602.1,979.2L591.4,988.0L585.1,993.9L583.4,996.7L583.4,999.9L584.0,1001.4L586.3,1003.8L587.8,1004.4L591.1,1004.5Z" fill="#ff6464"/>
<use href="#o" x="912.0" y="942.4" stroke="#ff6464"/>
</g>
<path d="M143.2,938.2L321.8,1096.3L332.0,1084.6L335.5,1135.1L285.0,1137.8L295.3,1126.2L116.6,968.2Z" fill="#5b9bd5" fill-opacity="0.5"/>
<path d="M593.7,944.3L789.3,1071.8L800.4,1054.9L811.8,1110.6L756.2,1122.6L767.3,1105.6L571.7,978.1Z" fill="#ff7b84" fill-opacity="0.5"/>
<rect x="88.6" y="869.5" width="833.1" height="295.5" fill="none" stroke="#000" stroke-width="4.8"/>
<path d="M505,869.5V1165" stroke="#000" stroke-width="3.6"/>
<path d="M190.0,1163.0l0,-3.5M292.0,1163.0l0,-3.5M394.0,1163.0l0,-3.5M496.0,1163.0l0,-3.5M606.0,1163.0l0,-3.5M708.0,1163.0l0,-3.5M810.0,1163.0l0,-3.5M90.6,1083.5l4,0M503.5,1083.5l-4,0M90.6,1001.0l4,0M503.5,1001.0l-4,0M90.6,918.5l4,0M503.5,918.5l-4,0M919.7,1091.5l-4,0M919.7,1017.0l-4,0" stroke="#000" stroke-width="4.2" fill="none"/>
<text x="87.0" y="1194.5" font-size="29.5" text-anchor="middle" >0.0</text>
<text x="190.0" y="1194.5" font-size="29.5" text-anchor="middle" >0.5</text>
<text x="292.0" y="1194.5" font-size="29.5" text-anchor="middle" >1.0</text>
<text x="394.0" y="1194.5" font-size="29.5" text-anchor="middle" >1.5</text>
<text x="496.0" y="1194.5" font-size="29.5" text-anchor="middle" >2.0</text>
<text x="606.0" y="1194.5" font-size="29.5" text-anchor="middle" >0.5</text>
<text x="708.0" y="1194.5" font-size="29.5" text-anchor="middle" >1.0</text>
<text x="810.0" y="1194.5" font-size="29.5" text-anchor="middle" >1.5</text>
<text x="912.0" y="1194.5" font-size="29.5" text-anchor="middle" >2.0</text>
<text x="78.0" y="1176.5" font-size="29.5" text-anchor="end" >0.0</text>
<text x="78.0" y="1094.0" font-size="29.5" text-anchor="end" >0.5</text>
<text x="78.0" y="1011.5" font-size="29.5" text-anchor="end" >1.0</text>
<text x="78.0" y="929.0" font-size="29.5" text-anchor="end" >1.5</text>
<text x="927.5" y="1176.5" font-size="29.5" >0.2</text>
<text x="927.5" y="1102.0" font-size="29.5" >0.4</text>
<text x="927.5" y="1027.5" font-size="29.5" >0.6</text>
<text x="927.5" y="953.0" font-size="29.5" >0.8</text>
<text transform="translate(36.5,1187) rotate(-90)" font-size="31" >Drain Current <tspan font-style="italic">I</tspan><tspan dy="8" font-size="20.5">DS</tspan><tspan dy="-8"> (mA)</tspan></text>
<text transform="translate(988.5,1172) rotate(-90)" font-size="31" >Drain Current <tspan font-style="italic">I</tspan><tspan dy="8" font-size="20.5">DS</tspan><tspan dy="-8"> (mA)</tspan></text>
<text x="355.5" y="1229.7" font-size="31">Drain Voltage <tspan font-style="italic">V</tspan><tspan dy="8" font-size="20.5">DS</tspan><tspan dy="-8"> (V)</tspan></text>
<text x="0.0" y="851.0" font-size="37" >(c)</text>
<text x="362.0" y="1141.0" font-size="31.5" >Write</text>
<text x="830.0" y="1121.0" font-size="31.5" >Erase</text>
<path d="M878,955.8H910" stroke="#000" stroke-width="2.4"/><path d="M921,955.8L907,950.3L909.5,955.8L907,961.3Z"/>
<rect x="112.5" y="835.25" width="386.5" height="100.75" fill="#000"/>
<rect x="107.5" y="831.25" width="386.5" height="100.75" fill="#fff" stroke="#555" stroke-width="1.3"/>
<path d="M109.0,851.0h13.0M142.0,851.0H155.0" stroke="#000000" stroke-width="2.6"/>
<rect x="126.7" y="845.7" width="10.6" height="10.6" fill="#fff" stroke="#000000" stroke-width="1.6"/>
<text x="163.0" y="860.0" font-size="25" >Initial</text>
<path d="M244.4,851.0h13.0M277.4,851.0H290.4" stroke="#ee0000" stroke-width="2.6"/>
<rect x="262.1" y="845.7" width="10.6" height="10.6" fill="#fff" stroke="#ee0000" stroke-width="1.6"/>
<text x="298.4" y="860.0" font-size="25" >3.5 V</text>
<path d="M361.4,851.0h13.0M394.4,851.0H407.4" stroke="#34649e" stroke-width="2.6"/>
<rect x="379.1" y="845.7" width="10.6" height="10.6" fill="#fff" stroke="#34649e" stroke-width="1.6"/>
<text x="415.4" y="860.0" font-size="25" >3.75 V</text>
<path d="M109.0,883.5h13.0M142.0,883.5H155.0" stroke="#ffc000" stroke-width="2.6"/>
<rect x="126.7" y="878.2" width="10.6" height="10.6" fill="#fff" stroke="#ffc000" stroke-width="1.6"/>
<text x="163.0" y="892.5" font-size="25" >4 V</text>
<path d="M208.0,883.5h13.0M241.0,883.5H254.0" stroke="#38b766" stroke-width="2.6"/>
<rect x="225.7" y="878.2" width="10.6" height="10.6" fill="#fff" stroke="#38b766" stroke-width="1.6"/>
<text x="262.0" y="892.5" font-size="25" >4.25 V</text>
<path d="M338.0,883.5h13.0M371.0,883.5H384.0" stroke="#5e5e9c" stroke-width="2.6"/>
<rect x="355.7" y="878.2" width="10.6" height="10.6" fill="#fff" stroke="#5e5e9c" stroke-width="1.6"/>
<text x="392.0" y="892.5" font-size="25" >4.5 V</text>
<path d="M109.0,916.0h13.0M142.0,916.0H155.0" stroke="#999999" stroke-width="2.6"/>
<rect x="126.7" y="910.7" width="10.6" height="10.6" fill="#fff" stroke="#999999" stroke-width="1.6"/>
<text x="163.0" y="925.0" font-size="25" >4.75 V</text>
<path d="M241.8,916.0h13.0M274.8,916.0H287.8" stroke="#ff6464" stroke-width="2.6"/>
<rect x="259.5" y="910.7" width="10.6" height="10.6" fill="#fff" stroke="#ff6464" stroke-width="1.6"/>
<text x="295.8" y="925.0" font-size="25" >5 V</text>
<path d="M335.4,916.0h13.0M368.4,916.0H381.4" stroke="#6698cc" stroke-width="2.6"/>
<rect x="353.1" y="910.7" width="10.6" height="10.6" fill="#fff" stroke="#6698cc" stroke-width="1.6"/>
<text x="389.4" y="925.0" font-size="25" >5.25 V</text>
<rect x="530.7" y="836.6" width="416.29999999999995" height="100.10000000000002" fill="#000"/>
<rect x="525.7" y="832.6" width="416.29999999999995" height="100.10000000000002" fill="#fff" stroke="#555" stroke-width="1.3"/>
<path d="M528.0,853.0h13.0M561.0,853.0H574.0" stroke="#ee0000" stroke-width="2.6"/>
<circle cx="551.0" cy="853.0" r="5.8" fill="#fff" stroke="#ee0000" stroke-width="1.8"/>
<text x="582.0" y="862.0" font-size="25" >-6.5 V</text>
<path d="M653.3,853.0h13.0M686.3,853.0H699.3" stroke="#34649e" stroke-width="2.6"/>
<circle cx="676.3" cy="853.0" r="5.8" fill="#fff" stroke="#34649e" stroke-width="1.8"/>
<text x="707.3" y="862.0" font-size="25" >-6.75 V</text>
<path d="M793.6,853.0h13.0M826.6,853.0H839.6" stroke="#ffc000" stroke-width="2.6"/>
<circle cx="816.6" cy="853.0" r="5.8" fill="#fff" stroke="#ffc000" stroke-width="1.8"/>
<text x="847.6" y="862.0" font-size="25" >-7 V</text>
<path d="M533.4,885.0h13.0M566.4,885.0H579.4" stroke="#38b766" stroke-width="2.6"/>
<circle cx="556.4" cy="885.0" r="5.8" fill="#fff" stroke="#38b766" stroke-width="1.8"/>
<text x="587.4" y="894.0" font-size="25" >-7.25 V</text>
<path d="M671.0,885.0h13.0M704.0,885.0H717.0" stroke="#5e5e9c" stroke-width="2.6"/>
<circle cx="694.0" cy="885.0" r="5.8" fill="#fff" stroke="#5e5e9c" stroke-width="1.8"/>
<text x="725.0" y="894.0" font-size="25" >-7.5 V</text>
<path d="M796.0,885.0h13.0M829.0,885.0H842.0" stroke="#999999" stroke-width="2.6"/>
<circle cx="819.0" cy="885.0" r="5.8" fill="#fff" stroke="#999999" stroke-width="1.8"/>
<text x="850.0" y="894.0" font-size="25" >-7.75 V</text>
<path d="M528.0,917.0h13.0M561.0,917.0H574.0" stroke="#ff6464" stroke-width="2.6"/>
<circle cx="551.0" cy="917.0" r="5.8" fill="#fff" stroke="#ff6464" stroke-width="1.8"/>
<text x="582.0" y="926.0" font-size="25" >-8 V</text>
<g clip-path="url(#c4)">
<path d="M128.5,1532.5L312.5,1532.9L321.5,1532.1L330.5,1530.6L335.0,1529.0L339.5,1526.1L344.0,1521.5L348.5,1514.9L351.5,1508.3L353.0,1501.9L356.0,1481.9L363.5,1423.5L366.5,1396.7L369.5,1365.1L374.0,1332.6L375.5,1324.5L378.5,1313.9L381.5,1306.8L384.5,1301.5L387.5,1297.7L390.5,1294.9L395.0,1291.6L401.0,1288.1L410.0,1284.7L426.5,1280.4L455.0,1274.0L482.0,1269.3L507.5,1266.2L533.5,1264.7L533.5,1251.5L512.5,1252.0L490.0,1253.7L467.5,1256.5L445.0,1260.4L419.5,1265.9L395.5,1272.2L386.5,1275.9L382.0,1278.6L377.5,1281.9L373.0,1286.5L368.5,1293.8L365.5,1300.9L362.5,1311.5L358.0,1339.9L352.0,1397.9L341.5,1479.8L340.0,1488.9L338.5,1495.3L337.0,1499.1L332.5,1506.5L328.0,1511.8L325.0,1514.3L322.0,1516.0L319.0,1517.2L314.5,1518.2L302.5,1519.7L128.5,1519.5Z" fill="#000000"/>
<g stroke="#000000"><use href="#q" x="335.0" y="1517.8"/><use href="#q" x="338.5" y="1513.7"/><use href="#q" x="341.5" y="1509.2"/><use href="#q" x="344.0" y="1504.5"/><use href="#q" x="345.5" y="1500.0"/><use href="#q" x="346.5" y="1495.4"/><use href="#q" x="347.5" y="1489.6"/><use href="#q" x="348.5" y="1482.8"/><use href="#q" x="349.5" y="1475.4"/><use href="#q" x="350.5" y="1467.5"/><use href="#q" x="351.0" y="1463.5"/><use href="#q" x="351.5" y="1459.5"/><use href="#q" x="352.0" y="1455.5"/><use href="#q" x="353.0" y="1447.6"/><use href="#q" x="354.0" y="1440.0"/><use href="#q" x="355.0" y="1432.6"/><use href="#q" x="356.0" y="1424.9"/><use href="#q" x="357.0" y="1417.0"/><use href="#q" x="357.5" y="1412.9"/><use href="#q" x="358.0" y="1408.7"/><use href="#q" x="358.5" y="1404.4"/><use href="#q" x="359.0" y="1399.9"/><use href="#q" x="359.5" y="1395.3"/><use href="#q" x="360.0" y="1390.2"/><use href="#q" x="360.5" y="1385.0"/><use href="#q" x="361.0" y="1379.5"/><use href="#q" x="361.5" y="1374.1"/><use href="#q" x="362.0" y="1368.7"/><use href="#q" x="362.5" y="1363.5"/><use href="#q" x="363.0" y="1358.6"/><use href="#q" x="363.5" y="1354.1"/><use href="#q" x="364.0" y="1350.1"/><use href="#q" x="365.0" y="1342.7"/><use href="#q" x="366.0" y="1335.7"/><use href="#q" x="367.0" y="1329.2"/><use href="#q" x="368.0" y="1323.2"/><use href="#q" x="369.0" y="1318.0"/><use href="#q" x="370.0" y="1313.7"/><use href="#q" x="371.5" y="1308.8"/><use href="#q" x="373.5" y="1303.6"/><use href="#q" x="375.5" y="1299.3"/><use href="#q" x="378.0" y="1295.0"/><use href="#q" x="381.5" y="1290.7"/></g>
<path d="M405.0,1269.5L394.5,1272.5L388.5,1274.9L382.5,1278.2L376.5,1282.8L375.0,1284.2L375.0,1297.2L388.0,1297.2L392.5,1293.3L397.0,1290.3L406.0,1286.0L425.5,1280.6L451.0,1274.8L472.0,1270.9L493.0,1267.8L514.0,1265.7L533.5,1264.7L533.5,1251.5L519.0,1251.7L504.0,1252.5L489.0,1253.8L472.5,1255.8L456.0,1258.4L439.5,1261.5Z" fill="#000000"/>
<path d="M123.5,1532.5L312.0,1532.9L319.5,1532.1L328.5,1530.2L333.0,1528.7L337.5,1526.0L340.5,1523.2L343.5,1519.6L348.0,1512.3L351.0,1504.5L352.5,1497.3L355.5,1477.0L363.0,1419.4L369.0,1360.6L372.0,1338.9L375.0,1322.2L376.5,1316.8L379.5,1309.0L384.0,1300.8L387.0,1297.2L390.0,1294.5L394.5,1291.2L400.5,1287.9L409.5,1284.5L429.0,1279.5L456.0,1273.6L483.0,1269.1L508.5,1266.1L533.5,1264.7L533.5,1251.5L512.0,1252.0L489.5,1253.7L467.0,1256.5L444.5,1260.3L419.0,1265.8L395.0,1272.0L386.0,1275.6L381.5,1278.2L377.0,1281.5L372.5,1285.9L368.0,1292.8L365.0,1299.6L362.0,1309.2L359.0,1325.9L356.0,1347.6L350.0,1406.4L342.5,1464.0L339.5,1484.3L338.0,1491.5L336.5,1496.1L333.5,1502.0L329.0,1508.5L324.5,1513.0L321.5,1515.0L318.5,1516.3L309.5,1518.6L299.0,1519.9L265.5,1519.5L123.5,1519.5Z" fill="#ee0000"/>
<g stroke="#ee0000"><use href="#q" x="333.5" y="1517.2"/><use href="#q" x="337.0" y="1513.1"/><use href="#q" x="340.0" y="1508.5"/><use href="#q" x="342.5" y="1503.7"/><use href="#q" x="344.5" y="1498.0"/><use href="#q" x="345.5" y="1493.5"/><use href="#q" x="346.5" y="1487.8"/><use href="#q" x="347.5" y="1481.3"/><use href="#q" x="348.5" y="1474.2"/><use href="#q" x="349.5" y="1466.7"/><use href="#q" x="350.5" y="1458.9"/><use href="#q" x="351.5" y="1451.2"/><use href="#q" x="352.5" y="1443.7"/><use href="#q" x="353.5" y="1436.4"/><use href="#q" x="354.5" y="1428.9"/><use href="#q" x="355.5" y="1421.1"/><use href="#q" x="356.0" y="1417.0"/><use href="#q" x="356.5" y="1412.9"/><use href="#q" x="357.0" y="1408.7"/><use href="#q" x="357.5" y="1404.4"/><use href="#q" x="358.0" y="1399.9"/><use href="#q" x="358.5" y="1395.3"/><use href="#q" x="359.0" y="1390.2"/><use href="#q" x="359.5" y="1385.0"/><use href="#q" x="360.0" y="1379.5"/><use href="#q" x="360.5" y="1374.1"/><use href="#q" x="361.0" y="1368.7"/><use href="#q" x="361.5" y="1363.5"/><use href="#q" x="362.0" y="1358.6"/><use href="#q" x="362.5" y="1354.1"/><use href="#q" x="363.0" y="1350.1"/><use href="#q" x="364.0" y="1342.7"/><use href="#q" x="365.0" y="1335.7"/><use href="#q" x="366.0" y="1329.2"/><use href="#q" x="367.0" y="1323.2"/><use href="#q" x="368.0" y="1318.0"/><use href="#q" x="369.0" y="1313.7"/><use href="#q" x="370.5" y="1308.8"/><use href="#q" x="372.5" y="1303.6"/><use href="#q" x="374.5" y="1299.3"/><use href="#q" x="377.0" y="1295.0"/><use href="#q" x="380.5" y="1290.7"/></g>
<path d="M404.0,1269.5L393.5,1272.5L387.5,1274.9L381.5,1278.2L375.5,1282.8L374.0,1284.2L374.0,1297.2L387.0,1297.2L391.5,1293.3L396.0,1290.3L405.0,1286.0L424.5,1280.6L451.5,1274.5L472.5,1270.7L493.5,1267.7L514.5,1265.6L533.5,1264.7L533.5,1251.5L518.0,1251.7L503.0,1252.5L488.0,1253.8L471.5,1255.8L455.0,1258.4L438.5,1261.5Z" fill="#ee0000"/>
<path d="M207.0,1518.4L118.5,1518.5L118.5,1531.5L214.0,1531.5L308.5,1530.0L317.5,1529.3L325.0,1528.1L331.0,1526.5L335.5,1524.2L340.0,1520.1L344.5,1513.8L349.0,1504.8L350.5,1499.6L353.5,1482.5L361.0,1427.7L364.0,1401.8L368.5,1356.6L371.5,1335.7L374.5,1320.2L376.0,1315.3L379.0,1307.9L383.5,1300.1L386.5,1296.7L391.0,1293.0L395.5,1290.0L401.5,1287.0L412.0,1283.5L436.0,1277.2L461.5,1271.6L487.0,1267.3L511.0,1264.6L533.5,1263.6L533.5,1250.5L508.5,1251.0L484.5,1252.9L459.0,1256.6L433.5,1261.7L408.0,1268.0L390.0,1273.4L384.0,1276.2L378.0,1280.0L373.5,1283.7L370.5,1287.1L366.0,1294.9L363.0,1302.3L361.5,1307.2L358.5,1322.7L355.5,1343.6L351.0,1388.8L348.0,1414.7L340.5,1469.5L337.5,1486.6L336.0,1491.8L331.5,1500.8L327.0,1507.1L322.5,1511.2L318.0,1513.5L313.5,1514.7L306.0,1516.1L298.5,1516.9Z" fill="#34649e"/>
<g stroke="#34649e"><use href="#q" x="332.5" y="1514.7"/><use href="#q" x="336.0" y="1510.4"/><use href="#q" x="339.0" y="1505.7"/><use href="#q" x="341.5" y="1500.8"/><use href="#q" x="343.5" y="1495.1"/><use href="#q" x="344.5" y="1490.8"/><use href="#q" x="345.5" y="1485.5"/><use href="#q" x="346.5" y="1479.3"/><use href="#q" x="347.5" y="1472.6"/><use href="#q" x="348.5" y="1465.5"/><use href="#q" x="349.5" y="1458.2"/><use href="#q" x="350.5" y="1450.8"/><use href="#q" x="351.5" y="1443.6"/><use href="#q" x="352.5" y="1436.4"/><use href="#q" x="353.5" y="1429.0"/><use href="#q" x="354.5" y="1421.2"/><use href="#q" x="355.0" y="1417.1"/><use href="#q" x="355.5" y="1413.0"/><use href="#q" x="356.0" y="1408.7"/><use href="#q" x="356.5" y="1404.4"/><use href="#q" x="357.0" y="1399.9"/><use href="#q" x="357.5" y="1395.3"/><use href="#q" x="358.0" y="1390.2"/><use href="#q" x="358.5" y="1385.0"/><use href="#q" x="359.0" y="1379.5"/><use href="#q" x="359.5" y="1374.1"/><use href="#q" x="360.0" y="1368.7"/><use href="#q" x="360.5" y="1363.5"/><use href="#q" x="361.0" y="1358.6"/><use href="#q" x="361.5" y="1354.1"/><use href="#q" x="362.0" y="1350.1"/><use href="#q" x="363.0" y="1342.7"/><use href="#q" x="364.0" y="1335.7"/><use href="#q" x="365.0" y="1329.2"/><use href="#q" x="366.0" y="1323.2"/><use href="#q" x="367.0" y="1318.0"/><use href="#q" x="368.0" y="1313.7"/><use href="#q" x="369.5" y="1308.8"/><use href="#q" x="371.5" y="1303.6"/><use href="#q" x="373.5" y="1299.3"/><use href="#q" x="376.0" y="1295.0"/><use href="#q" x="379.5" y="1290.7"/></g>
<path d="M419.5,1265.1L392.5,1272.5L385.0,1275.7L379.0,1279.3L373.0,1284.2L373.0,1297.2L386.0,1297.2L390.5,1293.3L395.0,1290.3L399.5,1287.9L405.5,1285.5L429.5,1278.8L455.0,1272.9L476.0,1269.0L495.5,1266.2L515.0,1264.3L533.5,1263.6L533.5,1250.5L517.0,1250.6L502.0,1251.3L487.0,1252.7L470.5,1254.8L454.0,1257.5L437.5,1260.9Z" fill="#34649e"/>
<path d="M166.0,1517.3L113.5,1517.5L113.5,1530.5L216.5,1529.9L279.5,1527.9L300.5,1526.4L317.0,1524.4L327.5,1521.8L332.0,1520.1L335.0,1518.3L338.0,1515.8L341.0,1512.4L345.5,1505.3L348.5,1498.2L350.0,1491.7L353.0,1472.4L359.0,1427.6L362.0,1401.8L366.5,1356.6L369.5,1335.7L372.5,1320.2L374.0,1315.3L377.0,1307.9L380.0,1302.4L383.0,1298.3L386.0,1295.2L390.5,1291.6L396.5,1287.8L405.5,1283.9L422.0,1278.9L447.5,1272.5L471.5,1267.9L494.0,1265.2L516.5,1264.2L516.5,1251.2L493.0,1251.4L472.0,1253.1L449.5,1256.4L425.5,1261.6L398.5,1269.0L386.5,1273.3L380.5,1276.5L376.0,1279.7L371.5,1283.7L368.5,1287.2L364.0,1294.9L361.0,1302.3L359.5,1307.2L356.5,1322.7L353.5,1343.6L349.0,1388.8L346.0,1414.6L340.0,1459.4L337.0,1478.7L335.5,1485.2L332.5,1492.3L328.0,1499.4L325.0,1502.8L322.0,1505.3L316.0,1508.3L307.0,1510.8L296.5,1512.4L280.0,1514.0L259.0,1515.2L229.0,1516.3Z" fill="#ffc000"/>
<g stroke="#ffc000"><use href="#q" x="332.0" y="1508.8"/><use href="#q" x="335.5" y="1504.6"/><use href="#q" x="338.5" y="1499.8"/><use href="#q" x="341.0" y="1494.6"/><use href="#q" x="342.5" y="1489.8"/><use href="#q" x="343.5" y="1485.2"/><use href="#q" x="344.5" y="1479.5"/><use href="#q" x="345.5" y="1473.0"/><use href="#q" x="346.5" y="1465.9"/><use href="#q" x="347.5" y="1458.5"/><use href="#q" x="348.5" y="1451.0"/><use href="#q" x="349.5" y="1443.6"/><use href="#q" x="350.5" y="1436.4"/><use href="#q" x="351.5" y="1429.0"/><use href="#q" x="352.5" y="1421.1"/><use href="#q" x="353.0" y="1417.1"/><use href="#q" x="353.5" y="1412.9"/><use href="#q" x="354.0" y="1408.7"/><use href="#q" x="354.5" y="1404.4"/><use href="#q" x="355.0" y="1399.9"/><use href="#q" x="355.5" y="1395.3"/><use href="#q" x="356.0" y="1390.2"/><use href="#q" x="356.5" y="1385.0"/><use href="#q" x="357.0" y="1379.5"/><use href="#q" x="357.5" y="1374.1"/><use href="#q" x="358.0" y="1368.7"/><use href="#q" x="358.5" y="1363.5"/><use href="#q" x="359.0" y="1358.6"/><use href="#q" x="359.5" y="1354.1"/><use href="#q" x="360.0" y="1350.1"/><use href="#q" x="361.0" y="1342.7"/><use href="#q" x="362.0" y="1335.7"/><use href="#q" x="363.0" y="1329.2"/><use href="#q" x="364.0" y="1323.2"/><use href="#q" x="365.0" y="1318.0"/><use href="#q" x="366.0" y="1313.7"/><use href="#q" x="367.5" y="1308.8"/><use href="#q" x="369.5" y="1303.6"/><use href="#q" x="371.5" y="1299.4"/><use href="#q" x="374.0" y="1295.1"/><use href="#q" x="377.5" y="1290.7"/></g>
<path d="M406.0,1266.8L394.0,1270.4L386.5,1273.3L380.5,1276.5L374.5,1280.9L371.5,1283.7L371.5,1296.7L384.5,1296.7L389.0,1292.7L393.5,1289.5L402.5,1285.0L423.5,1278.5L447.5,1272.5L465.5,1268.9L483.5,1266.3L500.0,1264.7L516.5,1264.2L516.5,1251.2L488.5,1251.7L476.5,1252.6L463.0,1254.2L449.5,1256.4L436.0,1259.2Z" fill="#ffc000"/>
<use href="#q" x="510.0" y="1257.7" stroke="#ffc000"/>
<path d="M197.0,1515.9L108.5,1516.5L108.5,1529.5L214.5,1528.9L240.0,1527.9L271.5,1526.1L294.0,1523.8L313.5,1520.6L319.5,1519.1L325.5,1517.1L330.0,1515.1L334.5,1512.3L339.0,1507.7L343.5,1500.5L346.5,1492.9L348.0,1485.9L357.0,1419.4L363.0,1360.6L366.0,1338.8L369.0,1322.1L370.5,1316.8L373.5,1309.5L376.5,1304.0L379.5,1299.8L382.5,1296.6L390.0,1290.6L399.0,1285.5L409.5,1281.5L436.5,1273.6L459.0,1268.5L480.0,1265.4L490.5,1264.5L501.0,1264.2L501.0,1251.2L479.0,1251.4L461.0,1253.1L440.0,1256.7L417.5,1262.3L395.0,1269.0L384.5,1273.2L378.5,1276.6L372.5,1281.0L368.0,1285.1L365.0,1288.8L360.5,1296.5L357.5,1303.8L354.5,1316.6L350.0,1347.6L345.5,1393.4L342.5,1418.6L335.0,1472.9L333.5,1479.9L330.5,1487.5L326.0,1494.7L321.5,1499.3L318.5,1501.3L314.0,1503.5L305.0,1506.5L291.5,1509.2L272.0,1511.9L252.5,1513.5L218.0,1515.3Z" fill="#38b766"/>
<g stroke="#38b766"><use href="#q" x="330.5" y="1503.5"/><use href="#q" x="334.0" y="1499.1"/><use href="#q" x="336.5" y="1495.0"/><use href="#q" x="338.5" y="1490.8"/><use href="#q" x="340.0" y="1486.4"/><use href="#q" x="341.0" y="1482.1"/><use href="#q" x="342.0" y="1476.4"/><use href="#q" x="343.0" y="1469.8"/><use href="#q" x="344.0" y="1462.5"/><use href="#q" x="345.0" y="1454.9"/><use href="#q" x="346.0" y="1447.3"/><use href="#q" x="347.0" y="1440.0"/><use href="#q" x="348.0" y="1432.7"/><use href="#q" x="349.0" y="1425.1"/><use href="#q" x="350.0" y="1417.1"/><use href="#q" x="350.5" y="1412.9"/><use href="#q" x="351.0" y="1408.7"/><use href="#q" x="351.5" y="1404.4"/><use href="#q" x="352.0" y="1399.9"/><use href="#q" x="352.5" y="1395.3"/><use href="#q" x="353.0" y="1390.2"/><use href="#q" x="353.5" y="1385.0"/><use href="#q" x="354.0" y="1379.5"/><use href="#q" x="354.5" y="1374.1"/><use href="#q" x="355.0" y="1368.7"/><use href="#q" x="355.5" y="1363.5"/><use href="#q" x="356.0" y="1358.6"/><use href="#q" x="356.5" y="1354.1"/><use href="#q" x="357.0" y="1350.1"/><use href="#q" x="358.0" y="1342.7"/><use href="#q" x="359.0" y="1335.7"/><use href="#q" x="360.0" y="1329.1"/><use href="#q" x="361.0" y="1323.1"/><use href="#q" x="362.0" y="1317.9"/><use href="#q" x="363.0" y="1313.6"/><use href="#q" x="364.5" y="1308.9"/><use href="#q" x="366.5" y="1304.0"/><use href="#q" x="369.0" y="1299.2"/><use href="#q" x="372.0" y="1294.6"/></g>
<path d="M398.5,1267.9L389.5,1271.0L382.0,1274.5L374.5,1279.4L368.5,1284.6L368.5,1297.6L381.5,1297.6L386.0,1293.6L390.5,1290.3L395.0,1287.5L401.0,1284.6L417.5,1279.0L440.0,1272.7L456.5,1269.0L471.5,1266.4L486.5,1264.8L501.0,1264.2L501.0,1251.2L476.5,1251.6L466.0,1252.5L454.0,1254.1L442.0,1256.3L428.5,1259.4Z" fill="#38b766"/>
<use href="#q" x="494.5" y="1257.7" stroke="#38b766"/>
<path d="M163.5,1516.0L103.5,1516.5L103.5,1529.5L155.5,1529.3L212.5,1528.3L238.0,1527.2L265.0,1525.0L275.5,1523.7L286.0,1521.9L314.5,1515.1L320.5,1513.3L326.5,1511.0L331.0,1508.6L334.0,1506.4L337.0,1503.2L340.0,1498.7L343.0,1492.4L344.5,1487.7L347.5,1469.4L353.5,1423.5L356.5,1396.7L359.5,1364.8L362.5,1343.6L365.5,1327.5L367.0,1321.4L370.0,1312.9L373.0,1306.7L377.5,1299.9L383.5,1294.0L392.5,1287.8L403.0,1282.8L425.5,1275.5L443.5,1270.7L460.0,1267.8L475.5,1266.8L475.5,1253.8L456.0,1254.0L439.5,1256.0L421.5,1259.9L399.0,1266.7L387.0,1271.0L381.0,1273.9L376.5,1276.6L372.0,1279.8L367.5,1283.7L364.5,1286.9L361.5,1291.2L357.0,1299.9L354.0,1308.4L352.5,1314.5L349.5,1330.6L346.5,1351.8L343.5,1383.7L340.5,1410.5L334.5,1456.4L331.5,1474.7L330.0,1479.4L327.0,1485.7L324.0,1490.2L321.0,1493.4L315.0,1497.3L310.5,1499.3L304.5,1501.2L279.0,1507.6L261.0,1511.0L241.5,1513.0L216.0,1514.7Z" fill="#5e5e9c"/>
<g stroke="#5e5e9c"><use href="#q" x="329.0" y="1498.4"/><use href="#q" x="332.5" y="1493.8"/><use href="#q" x="335.0" y="1489.3"/><use href="#q" x="337.0" y="1484.6"/><use href="#q" x="338.5" y="1478.9"/><use href="#q" x="339.5" y="1473.3"/><use href="#q" x="340.5" y="1466.6"/><use href="#q" x="341.5" y="1459.1"/><use href="#q" x="342.5" y="1451.3"/><use href="#q" x="343.5" y="1443.7"/><use href="#q" x="344.5" y="1436.4"/><use href="#q" x="345.5" y="1428.9"/><use href="#q" x="346.5" y="1421.0"/><use href="#q" x="347.0" y="1417.0"/><use href="#q" x="347.5" y="1412.9"/><use href="#q" x="348.0" y="1408.7"/><use href="#q" x="348.5" y="1404.4"/><use href="#q" x="349.0" y="1399.9"/><use href="#q" x="349.5" y="1395.2"/><use href="#q" x="350.0" y="1390.2"/><use href="#q" x="350.5" y="1384.8"/><use href="#q" x="351.0" y="1379.3"/><use href="#q" x="351.5" y="1373.7"/><use href="#q" x="352.0" y="1368.3"/><use href="#q" x="352.5" y="1363.1"/><use href="#q" x="353.0" y="1358.3"/><use href="#q" x="353.5" y="1353.9"/><use href="#q" x="354.5" y="1346.7"/><use href="#q" x="355.5" y="1340.2"/><use href="#q" x="356.5" y="1334.1"/><use href="#q" x="357.5" y="1328.5"/><use href="#q" x="358.5" y="1323.3"/><use href="#q" x="359.5" y="1318.8"/><use href="#q" x="361.0" y="1313.2"/><use href="#q" x="362.5" y="1308.9"/><use href="#q" x="364.5" y="1304.2"/><use href="#q" x="367.0" y="1299.3"/><use href="#q" x="370.0" y="1294.7"/><use href="#q" x="373.5" y="1290.6"/></g>
<path d="M389.5,1270.0L383.5,1272.6L377.5,1276.0L371.5,1280.2L367.0,1284.1L367.0,1297.1L380.0,1297.1L384.5,1293.2L389.0,1289.9L398.0,1284.9L408.5,1280.8L431.0,1273.9L443.0,1270.9L455.0,1268.5L465.5,1267.3L475.5,1266.8L475.5,1253.8L455.5,1254.1L446.5,1254.9L437.5,1256.3L427.0,1258.6L416.5,1261.3Z" fill="#5e5e9c"/>
<use href="#q" x="469.0" y="1260.3" stroke="#5e5e9c"/>
<path d="M194.5,1514.5L98.5,1515.5L98.5,1528.5L155.0,1528.3L210.5,1527.4L231.5,1526.2L254.0,1524.0L270.5,1521.6L285.5,1517.9L321.5,1505.8L326.0,1503.8L330.5,1501.0L333.5,1498.1L336.5,1493.6L339.5,1486.9L342.5,1477.5L345.5,1460.2L350.0,1427.8L353.0,1401.7L356.0,1369.6L359.0,1346.6L363.5,1323.1L366.5,1314.3L369.5,1308.2L372.5,1303.4L375.5,1299.6L381.5,1294.0L390.5,1287.8L401.0,1282.6L420.5,1276.1L438.5,1271.3L453.5,1268.7L467.0,1267.8L467.0,1254.8L448.0,1255.0L433.0,1256.8L415.0,1261.0L392.5,1267.9L382.0,1272.3L371.5,1278.7L364.0,1285.1L361.0,1288.4L358.0,1292.6L353.5,1301.3L350.5,1310.1L346.0,1333.6L343.0,1356.6L340.0,1388.7L337.0,1414.8L332.5,1447.2L329.5,1464.5L326.5,1473.9L323.5,1480.6L320.5,1485.1L317.5,1488.0L313.0,1490.8L305.5,1493.9L272.5,1504.9L263.5,1507.4L256.0,1508.9L233.5,1511.8L211.0,1513.8Z" fill="#999999"/>
<g stroke="#999999"><use href="#q" x="326.0" y="1492.7"/><use href="#q" x="329.5" y="1488.0"/><use href="#q" x="332.0" y="1482.9"/><use href="#q" x="334.0" y="1477.7"/><use href="#q" x="335.5" y="1473.0"/><use href="#q" x="336.5" y="1468.7"/><use href="#q" x="337.5" y="1463.3"/><use href="#q" x="338.5" y="1457.1"/><use href="#q" x="339.5" y="1450.3"/><use href="#q" x="340.5" y="1443.4"/><use href="#q" x="341.5" y="1436.5"/><use href="#q" x="342.5" y="1429.1"/><use href="#q" x="343.5" y="1421.3"/><use href="#q" x="344.0" y="1417.2"/><use href="#q" x="344.5" y="1413.0"/><use href="#q" x="345.0" y="1408.7"/><use href="#q" x="345.5" y="1404.4"/><use href="#q" x="346.0" y="1399.9"/><use href="#q" x="346.5" y="1395.2"/><use href="#q" x="347.0" y="1390.2"/><use href="#q" x="347.5" y="1384.8"/><use href="#q" x="348.0" y="1379.3"/><use href="#q" x="348.5" y="1373.7"/><use href="#q" x="349.0" y="1368.3"/><use href="#q" x="349.5" y="1363.1"/><use href="#q" x="350.0" y="1358.3"/><use href="#q" x="350.5" y="1353.9"/><use href="#q" x="351.5" y="1346.7"/><use href="#q" x="352.5" y="1340.1"/><use href="#q" x="353.5" y="1334.0"/><use href="#q" x="354.5" y="1328.3"/><use href="#q" x="355.5" y="1323.2"/><use href="#q" x="356.5" y="1318.7"/><use href="#q" x="358.0" y="1313.1"/><use href="#q" x="359.5" y="1309.0"/><use href="#q" x="361.5" y="1304.5"/><use href="#q" x="364.0" y="1300.0"/><use href="#q" x="367.0" y="1295.5"/></g>
<path d="M385.0,1270.8L374.5,1276.7L368.5,1281.0L364.0,1285.1L364.0,1298.1L377.0,1298.1L386.0,1290.7L395.0,1285.3L404.0,1281.4L422.0,1275.7L434.0,1272.4L446.0,1269.8L456.5,1268.4L467.0,1267.8L467.0,1254.8L446.5,1255.1L439.0,1255.9L430.0,1257.4L419.5,1259.8L407.5,1263.1L392.5,1267.9Z" fill="#999999"/>
<use href="#q" x="460.5" y="1261.3" stroke="#999999"/>
<path d="M152.0,1514.8L93.5,1515.5L93.5,1528.5L148.5,1528.1L207.0,1526.5L228.0,1525.0L250.5,1522.1L267.0,1519.1L279.0,1515.4L319.5,1496.6L327.0,1491.9L331.5,1487.5L334.5,1483.3L337.5,1477.4L339.0,1472.8L342.0,1456.4L345.0,1435.6L352.5,1371.5L357.0,1341.0L360.0,1325.3L361.5,1319.7L363.0,1315.6L366.0,1309.5L370.5,1302.8L373.5,1299.4L378.0,1295.3L387.0,1288.7L397.5,1283.0L409.5,1278.6L430.5,1272.9L444.0,1270.4L456.5,1269.5L456.5,1256.5L438.5,1256.7L426.5,1258.1L410.0,1261.7L390.5,1267.6L380.0,1272.2L369.5,1278.8L360.5,1286.4L357.5,1289.8L354.5,1294.0L351.5,1299.3L348.5,1306.7L347.0,1312.3L344.0,1328.0L339.5,1358.5L332.0,1422.6L329.0,1443.4L326.0,1459.8L324.5,1464.4L321.5,1470.3L318.5,1474.5L314.0,1478.9L306.5,1483.6L293.0,1489.6L272.0,1499.8L263.0,1503.5L254.0,1506.1L231.5,1510.0L209.0,1512.6L192.5,1513.5Z" fill="#ff6464"/>
<g stroke="#ff6464"><use href="#q" x="323.5" y="1482.7"/><use href="#q" x="327.0" y="1478.4"/><use href="#q" x="329.5" y="1474.1"/><use href="#q" x="331.5" y="1469.6"/><use href="#q" x="333.0" y="1464.3"/><use href="#q" x="334.0" y="1459.2"/><use href="#q" x="335.0" y="1453.1"/><use href="#q" x="336.0" y="1446.6"/><use href="#q" x="337.0" y="1440.0"/><use href="#q" x="338.0" y="1432.9"/><use href="#q" x="339.0" y="1425.1"/><use href="#q" x="339.5" y="1421.0"/><use href="#q" x="340.0" y="1416.8"/><use href="#q" x="340.5" y="1412.6"/><use href="#q" x="341.0" y="1408.4"/><use href="#q" x="341.5" y="1404.1"/><use href="#q" x="342.0" y="1400.0"/><use href="#q" x="342.5" y="1395.8"/><use href="#q" x="343.0" y="1391.5"/><use href="#q" x="343.5" y="1387.1"/><use href="#q" x="344.0" y="1382.6"/><use href="#q" x="344.5" y="1378.1"/><use href="#q" x="345.0" y="1373.6"/><use href="#q" x="345.5" y="1369.3"/><use href="#q" x="346.0" y="1365.0"/><use href="#q" x="346.5" y="1360.9"/><use href="#q" x="347.5" y="1353.4"/><use href="#q" x="348.5" y="1346.9"/><use href="#q" x="349.5" y="1340.6"/><use href="#q" x="350.5" y="1334.5"/><use href="#q" x="351.5" y="1328.8"/><use href="#q" x="352.5" y="1323.5"/><use href="#q" x="353.5" y="1318.8"/><use href="#q" x="355.0" y="1313.2"/><use href="#q" x="356.5" y="1309.1"/><use href="#q" x="358.5" y="1304.8"/><use href="#q" x="361.0" y="1300.5"/><use href="#q" x="364.0" y="1296.3"/></g>
<path d="M380.0,1272.2L369.5,1278.8L360.5,1286.4L360.5,1299.4L373.5,1299.4L381.0,1292.9L390.0,1286.9L399.0,1282.3L408.0,1279.1L423.0,1274.7L435.0,1271.9L445.5,1270.2L456.5,1269.5L456.5,1256.5L437.0,1256.8L429.5,1257.6L420.5,1259.2L408.5,1262.1L393.5,1266.5L386.0,1269.3Z" fill="#ff6464"/>
<use href="#q" x="450.0" y="1263.0" stroke="#ff6464"/>
<path d="M150.5,1512.5L119.0,1514.3L93.5,1515.0L93.5,1528.0L126.0,1527.5L166.5,1525.3L198.0,1521.8L231.0,1516.8L256.5,1511.3L267.0,1508.6L276.0,1505.7L285.0,1502.1L294.0,1497.7L300.0,1494.2L306.0,1489.7L312.0,1483.8L315.0,1479.8L318.0,1475.0L327.0,1457.0L331.5,1444.8L334.5,1431.8L343.5,1372.6L349.5,1339.7L352.5,1328.3L355.5,1319.3L358.5,1312.1L361.5,1306.7L367.5,1299.2L373.5,1293.8L384.0,1286.6L394.5,1281.1L405.0,1277.5L423.0,1273.2L435.0,1271.2L446.5,1270.5L446.5,1257.5L429.5,1257.6L417.5,1258.8L402.5,1261.8L386.0,1266.4L375.5,1271.0L365.0,1277.5L356.0,1284.7L350.0,1291.5L345.5,1299.1L342.5,1306.3L339.5,1315.3L336.5,1326.7L330.5,1359.6L321.5,1418.8L318.5,1431.8L314.0,1444.0L305.0,1462.0L302.0,1466.8L299.0,1470.8L293.0,1476.7L284.0,1483.0L272.0,1489.1L260.0,1493.7L245.0,1498.0L225.5,1502.3L204.5,1506.0L174.5,1510.1Z" fill="#6698cc"/>
<g stroke="#6698cc"><use href="#q" x="303.5" y="1479.4"/><use href="#q" x="307.0" y="1475.4"/><use href="#q" x="310.0" y="1471.0"/><use href="#q" x="312.5" y="1466.7"/><use href="#q" x="315.0" y="1462.0"/><use href="#q" x="317.5" y="1457.0"/><use href="#q" x="319.5" y="1452.8"/><use href="#q" x="321.5" y="1448.2"/><use href="#q" x="323.5" y="1442.9"/><use href="#q" x="325.0" y="1438.3"/><use href="#q" x="326.5" y="1432.8"/><use href="#q" x="327.5" y="1428.1"/><use href="#q" x="328.5" y="1422.4"/><use href="#q" x="329.5" y="1416.2"/><use href="#q" x="330.5" y="1409.7"/><use href="#q" x="331.5" y="1403.2"/><use href="#q" x="332.5" y="1396.8"/><use href="#q" x="333.5" y="1390.1"/><use href="#q" x="334.5" y="1383.1"/><use href="#q" x="335.5" y="1376.2"/><use href="#q" x="336.5" y="1369.4"/><use href="#q" x="337.5" y="1363.0"/><use href="#q" x="338.5" y="1357.1"/><use href="#q" x="339.5" y="1351.4"/><use href="#q" x="340.5" y="1345.9"/><use href="#q" x="341.5" y="1340.5"/><use href="#q" x="342.5" y="1335.5"/><use href="#q" x="343.5" y="1331.0"/><use href="#q" x="344.5" y="1327.0"/><use href="#q" x="346.0" y="1321.8"/><use href="#q" x="347.5" y="1317.1"/><use href="#q" x="349.0" y="1312.8"/><use href="#q" x="351.0" y="1307.8"/><use href="#q" x="353.0" y="1303.6"/><use href="#q" x="355.5" y="1299.4"/><use href="#q" x="359.0" y="1294.9"/></g>
<path d="M373.0,1272.4L362.5,1279.3L355.0,1285.7L355.0,1298.7L368.0,1298.7L375.5,1292.3L384.5,1286.3L393.5,1281.5L401.0,1278.7L414.5,1275.1L426.5,1272.5L437.0,1271.0L446.5,1270.5L446.5,1257.5L427.0,1257.8L419.5,1258.5L410.5,1260.1L398.5,1262.8L386.5,1266.2L380.5,1268.5Z" fill="#6698cc"/>
<use href="#q" x="440.0" y="1264.0" stroke="#6698cc"/>
</g>
<g clip-path="url(#c5)">
<path d="M545.0,1528.4L608.1,1519.8L610.0,1519.2L611.8,1518.2L613.2,1516.7L614.2,1515.0L614.7,1513.0L614.7,1511.0L614.2,1509.0L613.2,1507.3L611.7,1505.8L609.9,1504.8L608.0,1504.3L605.9,1504.3L538.0,1513.8L537.5,1514.1L537.5,1527.9L540.0,1528.7Z" fill="#ee0000"/>
<path d="M544.9,1527.4L623.0,1516.7L646.0,1512.6L658.4,1509.4L691.7,1499.8L703.0,1495.3L712.8,1489.7L719.8,1483.7L725.0,1477.4L731.4,1467.7L737.7,1455.5L742.3,1444.2L751.3,1419.6L767.9,1380.3L771.0,1370.9L778.5,1343.3L785.8,1323.5L790.1,1313.9L792.8,1308.9L796.9,1302.8L802.4,1296.4L810.6,1289.1L821.9,1281.7L833.3,1276.0L847.6,1270.3L854.6,1268.4L863.2,1266.6L897.4,1261.2L921.0,1258.7L946.8,1257.6L948.5,1256.9L950.9,1254.3L951.8,1250.9L950.9,1247.5L948.6,1245.3L918.4,1245.3L891.1,1248.3L857.7,1253.8L845.0,1256.9L832.4,1261.6L818.4,1268.1L807.1,1274.9L799.1,1281.0L790.9,1288.8L784.4,1296.9L777.9,1308.0L773.2,1318.4L767.0,1334.6L763.9,1344.6L758.0,1367.1L755.1,1375.6L738.7,1414.5L728.2,1443.1L723.9,1452.9L719.6,1460.9L714.0,1469.4L708.8,1475.4L705.1,1478.5L701.2,1480.9L690.2,1485.9L678.6,1489.5L643.0,1499.4L622.5,1503.0L538.4,1514.7L537.5,1515.2L537.5,1526.8L540.1,1527.7Z" fill="#ee0000"/>
<g stroke="#ee0000"><use href="#o" x="714.5" y="1479.4"/><use href="#o" x="719.0" y="1474.1"/><use href="#o" x="723.0" y="1468.4"/><use href="#o" x="726.5" y="1462.6"/><use href="#o" x="729.5" y="1456.8"/><use href="#o" x="732.0" y="1451.5"/><use href="#o" x="734.5" y="1445.6"/><use href="#o" x="736.5" y="1440.4"/><use href="#o" x="738.5" y="1434.8"/><use href="#o" x="740.5" y="1429.0"/><use href="#o" x="742.5" y="1423.4"/><use href="#o" x="744.5" y="1418.3"/><use href="#o" x="747.0" y="1412.2"/><use href="#o" x="749.5" y="1406.3"/><use href="#o" x="752.0" y="1400.4"/><use href="#o" x="754.5" y="1394.5"/><use href="#o" x="757.0" y="1388.8"/><use href="#o" x="759.5" y="1383.0"/><use href="#o" x="761.5" y="1378.0"/><use href="#o" x="763.5" y="1372.3"/><use href="#o" x="765.5" y="1365.5"/><use href="#o" x="767.0" y="1359.8"/><use href="#o" x="768.5" y="1354.0"/><use href="#o" x="770.0" y="1348.2"/><use href="#o" x="771.5" y="1342.9"/><use href="#o" x="773.5" y="1336.7"/><use href="#o" x="775.5" y="1331.2"/><use href="#o" x="777.5" y="1325.9"/><use href="#o" x="780.0" y="1319.7"/><use href="#o" x="782.5" y="1314.0"/><use href="#o" x="785.0" y="1309.0"/><use href="#o" x="788.0" y="1303.7"/><use href="#o" x="791.5" y="1298.7"/><use href="#o" x="796.0" y="1293.3"/></g>
<path d="M801.4,1297.1L813.9,1286.7L823.7,1280.7L836.6,1274.6L849.5,1269.7L856.5,1267.9L866.7,1266.0L899.3,1260.9L921.5,1258.7L946.8,1257.5L949.9,1255.8L950.9,1254.3L951.6,1252.7L951.5,1249.2L950.9,1247.5L948.6,1245.3L918.4,1245.3L899.2,1247.2L879.4,1250.0L856.7,1254.0L845.5,1256.7L837.5,1259.5L826.7,1264.1L812.5,1271.4L804.6,1276.7L798.1,1281.8L793.2,1286.4L791.4,1289.4L791.2,1291.2L792.1,1294.6L794.6,1297.1L796.2,1297.8L799.7,1297.8Z" fill="#ee0000"/>
<use href="#o" x="945.0" y="1251.0" stroke="#ee0000"/>
<path d="M550.6,1528.5L592.8,1524.6L634.1,1519.8L636.1,1519.2L637.8,1518.2L639.3,1516.7L640.2,1515.0L640.7,1513.0L640.7,1510.9L640.2,1509.0L639.1,1507.2L637.7,1505.8L635.9,1504.8L633.9,1504.3L631.9,1504.3L595.7,1508.6L544.4,1513.6L542.6,1514.6L541.1,1515.9L540.0,1517.6L539.3,1519.6L539.2,1521.6L539.6,1523.6L540.6,1525.4L541.9,1526.9L543.6,1528.0L545.6,1528.7Z" fill="#34649e"/>
<path d="M545.8,1527.7L579.2,1525.0L615.3,1521.2L633.5,1518.9L647.4,1516.5L668.7,1511.4L691.7,1504.8L703.1,1500.1L712.8,1494.3L719.6,1488.9L724.9,1483.1L731.2,1474.0L736.2,1464.9L743.9,1445.8L750.0,1426.7L754.3,1414.9L770.8,1377.5L774.1,1366.6L780.0,1341.8L785.8,1325.7L790.1,1315.9L794.3,1308.1L799.9,1300.1L805.3,1293.9L813.5,1287.0L823.3,1280.9L836.2,1274.8L849.0,1269.9L856.0,1268.0L866.2,1266.1L900.3,1261.0L924.0,1258.7L949.8,1257.6L951.4,1256.9L953.9,1254.4L954.8,1251.0L953.9,1247.6L951.6,1245.3L920.4,1245.3L891.1,1248.4L857.8,1253.8L845.0,1256.9L832.4,1261.6L818.4,1268.1L807.1,1274.9L798.9,1281.2L790.8,1289.6L784.2,1298.5L777.8,1310.0L771.7,1324.4L767.0,1337.8L760.9,1363.2L758.1,1372.8L755.3,1379.6L746.3,1399.0L740.2,1413.6L731.1,1441.2L728.2,1449.0L723.9,1459.1L719.7,1466.8L715.6,1472.9L710.3,1478.9L706.4,1482.2L701.0,1485.8L695.6,1488.6L690.1,1490.9L675.7,1495.4L647.6,1502.6L635.9,1504.7L621.2,1506.8L580.8,1511.2L546.5,1514.2L543.1,1515.4L540.9,1518.1L540.3,1519.8L540.2,1521.5L541.4,1524.9L542.6,1526.2Z" fill="#34649e"/>
<g stroke="#34649e"><use href="#o" x="716.0" y="1482.9"/><use href="#o" x="720.5" y="1477.7"/><use href="#o" x="724.5" y="1471.9"/><use href="#o" x="727.5" y="1466.9"/><use href="#o" x="730.5" y="1461.0"/><use href="#o" x="733.0" y="1455.2"/><use href="#o" x="735.0" y="1450.2"/><use href="#o" x="737.0" y="1444.9"/><use href="#o" x="739.0" y="1439.0"/><use href="#o" x="741.0" y="1432.6"/><use href="#o" x="743.0" y="1426.1"/><use href="#o" x="745.0" y="1420.2"/><use href="#o" x="747.0" y="1414.8"/><use href="#o" x="749.5" y="1408.7"/><use href="#o" x="752.0" y="1402.9"/><use href="#o" x="754.5" y="1397.2"/><use href="#o" x="757.0" y="1391.8"/><use href="#o" x="759.5" y="1386.6"/><use href="#o" x="762.0" y="1381.3"/><use href="#o" x="764.5" y="1375.1"/><use href="#o" x="766.5" y="1368.7"/><use href="#o" x="768.0" y="1362.7"/><use href="#o" x="769.5" y="1356.1"/><use href="#o" x="771.0" y="1349.5"/><use href="#o" x="772.5" y="1343.4"/><use href="#o" x="774.0" y="1338.2"/><use href="#o" x="776.0" y="1332.3"/><use href="#o" x="778.0" y="1326.9"/><use href="#o" x="780.0" y="1321.9"/><use href="#o" x="782.5" y="1316.1"/><use href="#o" x="785.0" y="1310.9"/><use href="#o" x="788.0" y="1305.4"/><use href="#o" x="791.5" y="1300.0"/><use href="#o" x="795.5" y="1294.7"/><use href="#o" x="800.0" y="1289.6"/></g>
<path d="M808.0,1291.3L816.2,1285.1L826.1,1279.4L839.1,1273.6L850.4,1269.5L857.4,1267.7L870.6,1265.3L901.8,1260.8L924.0,1258.7L949.8,1257.6L951.4,1256.9L953.9,1254.4L954.8,1251.0L954.6,1249.2L953.9,1247.6L951.6,1245.3L920.4,1245.3L901.7,1247.1L882.0,1249.7L857.8,1253.8L846.6,1256.4L838.6,1259.1L829.3,1262.9L821.5,1266.5L813.6,1270.7L807.1,1274.9L800.6,1279.8L795.8,1284.2L794.0,1287.2L793.9,1290.8L794.6,1292.4L797.0,1294.9L798.7,1295.6L802.2,1295.7L803.8,1295.0Z" fill="#34649e"/>
<use href="#o" x="948.0" y="1251.0" stroke="#34649e"/>
<path d="M555.6,1528.6L621.7,1522.9L647.3,1519.7L649.2,1519.2L650.9,1518.1L652.3,1516.6L653.3,1514.8L653.8,1512.8L653.7,1510.8L653.1,1508.8L652.0,1507.1L650.6,1505.7L648.8,1504.8L646.8,1504.3L620.3,1507.4L549.4,1513.6L547.6,1514.6L546.1,1515.9L545.0,1517.6L544.3,1519.6L544.2,1521.6L544.6,1523.6L545.6,1525.4L546.9,1526.9L548.6,1528.0L550.6,1528.7Z" fill="#ffc000"/>
<path d="M555.5,1527.6L626.2,1521.4L641.4,1519.6L653.8,1517.5L675.2,1512.7L690.7,1508.2L703.5,1503.0L709.9,1499.5L714.9,1496.3L721.6,1490.8L726.9,1485.0L733.3,1475.6L739.7,1463.7L747.4,1444.3L753.5,1425.2L757.9,1412.7L771.5,1378.8L774.6,1368.4L780.5,1343.4L786.3,1326.9L790.6,1316.8L794.9,1308.9L800.4,1300.7L805.9,1294.4L814.1,1287.2L823.9,1280.8L836.7,1274.5L849.5,1269.7L856.4,1267.9L865.1,1266.4L899.2,1261.8L924.4,1259.6L951.8,1258.6L953.4,1257.9L955.9,1255.4L956.8,1251.9L955.9,1248.6L953.4,1246.1L950.8,1245.3L926.6,1245.9L894.7,1248.6L858.3,1253.7L847.1,1256.2L834.4,1260.7L820.4,1267.2L809.1,1274.1L799.5,1281.6L791.3,1290.3L784.7,1299.4L778.3,1311.1L773.7,1321.9L769.0,1334.7L765.9,1345.5L761.4,1364.9L758.6,1374.4L745.1,1408.0L731.7,1447.7L727.3,1458.1L723.1,1466.2L717.5,1474.8L712.3,1480.9L708.4,1484.2L703.0,1487.8L692.0,1493.2L677.7,1498.0L655.6,1503.3L643.9,1505.5L630.7,1507.3L551.5,1514.2L548.2,1515.4L545.9,1518.1L545.3,1519.7L545.2,1521.5L546.4,1524.8L547.6,1526.2L550.7,1527.7Z" fill="#ffc000"/>
<g stroke="#ffc000"><use href="#o" x="718.0" y="1484.8"/><use href="#o" x="722.5" y="1479.5"/><use href="#o" x="726.0" y="1474.5"/><use href="#o" x="729.5" y="1468.7"/><use href="#o" x="732.5" y="1463.0"/><use href="#o" x="735.0" y="1457.5"/><use href="#o" x="737.5" y="1451.5"/><use href="#o" x="739.5" y="1446.2"/><use href="#o" x="741.5" y="1440.6"/><use href="#o" x="743.5" y="1434.3"/><use href="#o" x="745.5" y="1427.8"/><use href="#o" x="747.5" y="1421.6"/><use href="#o" x="749.5" y="1415.8"/><use href="#o" x="751.5" y="1410.3"/><use href="#o" x="753.5" y="1405.0"/><use href="#o" x="755.5" y="1399.9"/><use href="#o" x="757.5" y="1394.9"/><use href="#o" x="760.0" y="1388.9"/><use href="#o" x="762.5" y="1383.1"/><use href="#o" x="764.5" y="1378.1"/><use href="#o" x="766.5" y="1372.1"/><use href="#o" x="768.0" y="1366.6"/><use href="#o" x="769.5" y="1360.3"/><use href="#o" x="771.0" y="1353.7"/><use href="#o" x="772.5" y="1347.3"/><use href="#o" x="774.0" y="1341.6"/><use href="#o" x="776.0" y="1335.2"/><use href="#o" x="778.0" y="1329.6"/><use href="#o" x="780.0" y="1324.4"/><use href="#o" x="782.5" y="1318.3"/><use href="#o" x="785.0" y="1312.9"/><use href="#o" x="788.0" y="1307.1"/><use href="#o" x="791.5" y="1301.4"/><use href="#o" x="795.5" y="1295.9"/><use href="#o" x="800.0" y="1290.7"/></g>
<path d="M804.8,1295.0L817.3,1284.9L827.1,1279.0L840.1,1273.1L851.3,1269.1L858.2,1267.6L871.5,1265.4L901.2,1261.6L924.9,1259.6L951.8,1258.6L953.4,1257.9L955.9,1255.4L956.8,1251.9L956.6,1250.2L954.8,1247.2L951.7,1245.4L941.9,1245.3L927.1,1245.8L907.4,1247.3L886.1,1249.6L858.9,1253.6L847.6,1256.1L839.7,1258.7L831.8,1261.8L822.5,1266.1L816.0,1269.6L808.1,1274.7L801.7,1279.7L796.7,1284.3L795.0,1287.3L794.9,1290.8L795.6,1292.5L798.0,1295.0L799.7,1295.7L803.2,1295.7Z" fill="#ffc000"/>
<use href="#o" x="950.0" y="1252.0" stroke="#ffc000"/>
<path d="M557.3,1528.8L617.5,1519.3L619.2,1518.2L620.7,1516.8L621.7,1515.1L622.2,1513.1L622.2,1511.1L621.7,1509.1L620.7,1507.3L619.3,1505.9L617.5,1504.8L615.5,1504.3L613.5,1504.3L582.2,1508.9L556.6,1513.3L554.7,1513.9L553.0,1515.0L551.6,1516.5L550.7,1518.4L550.2,1520.3L550.3,1522.4L550.9,1524.3L552.0,1526.0L553.5,1527.4L555.4,1528.3Z" fill="#38b766"/>
<path d="M557.4,1527.8L598.0,1521.2L638.6,1515.6L661.5,1511.0L681.3,1506.0L693.8,1502.1L705.0,1497.3L713.4,1492.3L718.8,1487.7L723.9,1482.0L728.8,1474.9L733.7,1465.9L739.9,1450.8L746.0,1431.7L748.8,1423.9L759.3,1400.2L766.9,1380.6L770.1,1370.7L777.5,1343.3L783.3,1327.9L789.0,1315.4L793.2,1308.1L798.7,1300.6L804.2,1294.6L812.5,1287.7L823.7,1280.7L836.7,1274.6L849.5,1269.7L856.4,1267.9L868.1,1265.9L902.3,1261.0L928.9,1258.7L956.8,1257.6L959.8,1255.8L960.9,1254.4L961.8,1251.0L960.9,1247.6L958.6,1245.3L924.8,1245.3L893.2,1248.5L858.3,1253.7L845.6,1256.7L832.9,1261.4L818.8,1267.9L806.1,1275.6L796.5,1283.3L788.3,1291.8L781.7,1300.8L775.4,1312.3L769.2,1326.3L764.6,1339.0L757.0,1367.0L752.6,1380.1L746.7,1394.9L734.7,1422.8L725.7,1450.0L721.4,1460.2L718.6,1465.5L714.5,1471.9L710.5,1476.8L704.2,1482.0L694.8,1487.0L683.5,1491.2L665.9,1496.0L640.8,1501.4L580.9,1510.1L556.8,1514.3L553.6,1515.8L551.6,1518.7L551.2,1520.4L551.3,1522.2L552.8,1525.4L555.7,1527.4Z" fill="#38b766"/>
<g stroke="#38b766"><use href="#o" x="715.0" y="1481.9"/><use href="#o" x="719.5" y="1476.6"/><use href="#o" x="723.0" y="1471.4"/><use href="#o" x="726.0" y="1466.2"/><use href="#o" x="728.5" y="1461.0"/><use href="#o" x="731.0" y="1455.0"/><use href="#o" x="733.0" y="1449.8"/><use href="#o" x="735.0" y="1444.0"/><use href="#o" x="737.0" y="1437.5"/><use href="#o" x="739.0" y="1431.0"/><use href="#o" x="741.0" y="1425.2"/><use href="#o" x="743.0" y="1420.1"/><use href="#o" x="745.5" y="1414.4"/><use href="#o" x="748.0" y="1409.0"/><use href="#o" x="750.5" y="1403.4"/><use href="#o" x="753.0" y="1397.6"/><use href="#o" x="755.5" y="1391.4"/><use href="#o" x="757.5" y="1386.4"/><use href="#o" x="759.5" y="1381.1"/><use href="#o" x="761.5" y="1375.4"/><use href="#o" x="763.5" y="1368.9"/><use href="#o" x="765.0" y="1363.4"/><use href="#o" x="766.5" y="1357.6"/><use href="#o" x="768.0" y="1351.8"/><use href="#o" x="769.5" y="1346.2"/><use href="#o" x="771.0" y="1341.2"/><use href="#o" x="773.0" y="1335.4"/><use href="#o" x="775.0" y="1330.2"/><use href="#o" x="777.5" y="1324.1"/><use href="#o" x="780.0" y="1318.4"/><use href="#o" x="782.5" y="1313.2"/><use href="#o" x="785.5" y="1307.7"/><use href="#o" x="789.0" y="1302.2"/><use href="#o" x="793.0" y="1296.9"/><use href="#o" x="797.5" y="1291.8"/></g>
<path d="M801.8,1296.7L814.4,1286.4L825.6,1279.7L840.1,1273.1L851.3,1269.2L858.3,1267.6L873.1,1265.1L904.3,1260.8L929.4,1258.6L956.8,1257.6L959.8,1255.8L960.9,1254.4L961.8,1251.0L961.6,1249.2L960.9,1247.6L958.6,1245.3L924.9,1245.3L905.8,1247.0L884.6,1249.6L858.8,1253.6L847.7,1256.1L839.6,1258.7L828.8,1263.1L820.9,1266.8L813.1,1271.1L805.1,1276.3L798.6,1281.3L793.7,1285.9L792.0,1288.9L791.9,1292.4L792.6,1294.1L793.6,1295.5L796.7,1297.3L800.2,1297.3Z" fill="#38b766"/>
<use href="#o" x="955.0" y="1251.0" stroke="#38b766"/>
<path d="M558.6,1528.6L605.3,1524.3L640.7,1519.8L642.7,1519.2L644.4,1518.1L645.8,1516.7L646.8,1514.9L647.3,1512.9L647.2,1510.9L646.6,1508.9L645.6,1507.2L644.1,1505.8L642.3,1504.8L640.3,1504.3L638.3,1504.4L605.2,1508.6L552.4,1513.6L550.6,1514.5L549.1,1515.9L548.0,1517.6L547.3,1519.5L547.2,1521.6L547.6,1523.6L548.5,1525.4L549.9,1526.9L551.6,1528.0L553.5,1528.7Z" fill="#5e5e9c"/>
<path d="M553.7,1527.7L587.1,1525.1L618.8,1521.7L640.1,1518.9L658.4,1515.6L678.2,1510.9L692.2,1506.7L703.6,1501.9L713.4,1496.0L720.3,1490.0L725.5,1483.6L731.9,1473.2L736.7,1463.5L742.9,1447.8L750.4,1424.7L768.4,1379.1L771.5,1369.1L779.0,1341.8L784.8,1325.9L789.1,1315.9L793.3,1308.1L797.4,1302.2L802.9,1296.0L811.1,1288.8L822.3,1281.5L835.2,1275.2L849.5,1269.7L856.4,1267.9L868.1,1265.8L900.8,1261.0L924.5,1258.7L951.8,1257.6L953.4,1256.9L955.9,1254.4L956.8,1251.0L955.9,1247.6L953.6,1245.3L921.7,1245.3L891.6,1248.5L856.7,1254.0L845.4,1256.8L831.3,1262.1L817.3,1268.7L806.1,1275.6L796.5,1283.2L788.3,1291.8L781.8,1300.9L776.8,1310.1L772.2,1320.9L766.1,1337.5L758.5,1365.3L755.6,1374.6L737.6,1420.0L727.2,1451.2L724.3,1458.0L720.0,1466.6L714.4,1475.7L710.6,1480.5L706.8,1483.9L702.8,1486.7L697.5,1489.8L691.9,1492.2L679.1,1496.6L660.0,1501.3L642.4,1504.7L623.1,1507.5L588.8,1511.3L554.5,1514.2L551.2,1515.4L548.9,1518.0L548.3,1519.7L548.2,1521.5L549.4,1524.8L550.6,1526.1Z" fill="#5e5e9c"/>
<g stroke="#5e5e9c"><use href="#o" x="715.0" y="1485.7"/><use href="#o" x="719.5" y="1480.3"/><use href="#o" x="723.0" y="1475.0"/><use href="#o" x="726.0" y="1469.9"/><use href="#o" x="729.0" y="1464.1"/><use href="#o" x="731.5" y="1458.6"/><use href="#o" x="734.0" y="1452.5"/><use href="#o" x="736.0" y="1447.0"/><use href="#o" x="738.0" y="1440.9"/><use href="#o" x="740.0" y="1434.4"/><use href="#o" x="742.0" y="1428.1"/><use href="#o" x="744.0" y="1422.4"/><use href="#o" x="746.0" y="1417.2"/><use href="#o" x="748.5" y="1411.0"/><use href="#o" x="751.0" y="1404.9"/><use href="#o" x="753.5" y="1398.7"/><use href="#o" x="756.0" y="1392.5"/><use href="#o" x="758.5" y="1386.3"/><use href="#o" x="760.5" y="1381.0"/><use href="#o" x="762.5" y="1375.3"/><use href="#o" x="764.5" y="1368.9"/><use href="#o" x="766.0" y="1363.5"/><use href="#o" x="767.5" y="1357.7"/><use href="#o" x="769.0" y="1351.9"/><use href="#o" x="770.5" y="1346.3"/><use href="#o" x="772.0" y="1341.2"/><use href="#o" x="774.0" y="1335.3"/><use href="#o" x="776.0" y="1329.8"/><use href="#o" x="778.0" y="1324.6"/><use href="#o" x="780.5" y="1318.5"/><use href="#o" x="783.0" y="1313.0"/><use href="#o" x="786.0" y="1307.1"/><use href="#o" x="789.5" y="1301.5"/><use href="#o" x="793.5" y="1296.2"/></g>
<path d="M801.4,1297.1L813.9,1286.7L825.2,1279.9L838.1,1274.0L850.9,1269.3L857.8,1267.6L871.1,1265.3L902.3,1260.8L925.9,1258.6L951.8,1257.6L953.4,1256.9L955.9,1254.4L956.6,1252.7L956.6,1249.2L955.9,1247.6L953.6,1245.3L921.7,1245.3L902.2,1247.1L882.5,1249.7L858.2,1253.7L847.1,1256.3L839.1,1258.9L828.3,1263.4L820.4,1267.1L812.5,1271.4L804.6,1276.7L798.1,1281.8L793.2,1286.4L791.4,1289.4L791.2,1291.2L792.1,1294.6L793.2,1296.0L796.2,1297.8L798.0,1298.0Z" fill="#5e5e9c"/>
<use href="#o" x="950.0" y="1251.0" stroke="#5e5e9c"/>
<path d="M601.7,1527.3L618.6,1526.4L639.9,1524.3L652.3,1522.6L666.6,1519.7L668.6,1519.0L670.2,1517.9L671.6,1516.3L672.4,1514.5L672.8,1512.5L672.6,1510.4L671.9,1508.5L670.8,1506.9L669.2,1505.5L667.4,1504.7L665.4,1504.3L648.2,1507.4L638.1,1508.8L618.9,1510.7L597.8,1512.0L595.9,1512.9L594.3,1514.1L593.1,1515.8L592.4,1517.7L592.2,1519.7L592.5,1521.7L593.4,1523.6L594.6,1525.2L596.3,1526.4L598.2,1527.1Z" fill="#999999"/>
<path d="M601.7,1526.3L621.6,1525.2L646.0,1522.5L662.9,1519.5L687.3,1513.8L700.0,1509.7L709.8,1505.0L719.7,1498.4L726.5,1491.8L730.2,1487.1L733.4,1482.0L735.3,1478.2L738.5,1469.8L744.5,1450.1L756.5,1407.0L767.0,1374.1L774.5,1346.3L780.3,1330.2L786.1,1317.2L791.7,1307.4L795.8,1301.7L800.0,1296.8L808.2,1289.2L818.0,1282.6L827.8,1277.4L842.2,1271.7L854.9,1268.2L879.9,1264.3L906.7,1261.2L928.9,1259.5L953.8,1258.6L956.8,1256.8L958.6,1253.7L958.6,1250.2L956.8,1247.2L955.4,1246.1L952.8,1245.3L937.3,1245.5L919.0,1246.5L887.2,1249.7L852.2,1254.9L837.8,1258.8L822.2,1265.0L811.0,1270.9L799.7,1278.6L794.8,1282.8L790.1,1287.5L781.9,1297.6L775.4,1308.2L767.7,1325.2L761.5,1342.5L754.0,1370.3L743.5,1403.2L727.0,1461.0L722.8,1472.7L720.2,1477.5L717.6,1481.3L715.1,1484.2L711.2,1487.7L703.2,1493.1L693.6,1497.5L682.3,1501.1L660.1,1506.2L644.0,1509.1L620.4,1511.6L598.1,1513.0L596.4,1513.7L594.0,1516.3L593.4,1517.9L593.5,1521.4L594.2,1523.1L596.8,1525.5L598.4,1526.1Z" fill="#999999"/>
<g stroke="#999999"><use href="#o" x="719.5" y="1489.4"/><use href="#o" x="724.0" y="1484.1"/><use href="#o" x="727.5" y="1478.5"/><use href="#o" x="730.0" y="1473.2"/><use href="#o" x="732.0" y="1467.7"/><use href="#o" x="734.0" y="1461.5"/><use href="#o" x="736.0" y="1455.0"/><use href="#o" x="737.5" y="1449.9"/><use href="#o" x="739.0" y="1444.6"/><use href="#o" x="740.5" y="1439.1"/><use href="#o" x="742.0" y="1433.6"/><use href="#o" x="743.5" y="1428.2"/><use href="#o" x="745.0" y="1422.8"/><use href="#o" x="746.5" y="1417.3"/><use href="#o" x="748.0" y="1411.9"/><use href="#o" x="749.5" y="1406.8"/><use href="#o" x="751.5" y="1400.2"/><use href="#o" x="753.5" y="1394.0"/><use href="#o" x="755.5" y="1388.0"/><use href="#o" x="757.5" y="1381.9"/><use href="#o" x="759.5" y="1375.6"/><use href="#o" x="761.0" y="1370.4"/><use href="#o" x="762.5" y="1364.9"/><use href="#o" x="764.0" y="1359.1"/><use href="#o" x="765.5" y="1353.4"/><use href="#o" x="767.0" y="1347.8"/><use href="#o" x="768.5" y="1342.7"/><use href="#o" x="770.5" y="1336.8"/><use href="#o" x="772.5" y="1331.4"/><use href="#o" x="775.0" y="1325.2"/><use href="#o" x="777.5" y="1319.5"/><use href="#o" x="780.0" y="1314.2"/><use href="#o" x="783.0" y="1308.6"/><use href="#o" x="786.5" y="1302.9"/><use href="#o" x="790.5" y="1297.5"/><use href="#o" x="795.0" y="1292.2"/></g>
<path d="M800.3,1296.0L812.8,1285.9L824.1,1279.2L836.9,1273.6L849.7,1269.4L856.7,1267.8L870.0,1265.7L902.7,1261.6L926.4,1259.6L953.8,1258.6L956.8,1256.8L957.9,1255.4L958.8,1251.9L958.6,1250.2L956.8,1247.2L953.7,1245.4L943.8,1245.3L928.6,1245.9L908.9,1247.3L886.1,1249.8L858.9,1253.7L846.2,1256.3L836.8,1259.2L827.5,1262.7L819.6,1266.3L813.1,1269.7L805.2,1274.6L798.6,1279.5L792.2,1285.3L790.5,1288.3L790.4,1291.8L791.1,1293.4L793.5,1296.0L795.2,1296.7L798.7,1296.7Z" fill="#999999"/>
<use href="#o" x="952.0" y="1252.0" stroke="#999999"/>
<path d="M582.4,1529.3L713.0,1528.9L723.9,1528.6L732.1,1527.8L739.5,1526.2L743.2,1524.7L746.1,1523.0L751.7,1517.8L752.8,1516.2L753.5,1514.2L753.7,1512.2L753.3,1510.2L752.5,1508.4L751.1,1506.8L749.5,1505.7L747.5,1505.0L745.5,1504.8L743.5,1505.2L741.7,1506.0L737.9,1509.6L735.4,1511.1L731.1,1512.2L725.8,1512.8L682.9,1513.6L582.4,1513.7L580.4,1514.0L578.5,1514.7L576.9,1516.0L575.6,1517.6L574.9,1519.5L574.6,1521.5L574.9,1523.5L575.6,1525.4L576.9,1527.0L578.5,1528.3L580.4,1529.0Z" fill="#ff6464"/>
<path d="M582.4,1528.3L704.0,1528.0L720.6,1527.7L728.6,1527.2L735.4,1526.3L741.3,1524.5L747.0,1521.1L751.3,1516.7L754.9,1511.3L759.7,1500.9L765.9,1483.3L769.0,1472.0L773.6,1434.7L779.6,1395.9L787.1,1357.2L791.4,1339.2L795.7,1327.3L798.4,1321.3L801.1,1316.6L805.2,1310.9L811.1,1304.0L815.3,1299.2L819.2,1295.6L823.2,1292.7L828.7,1289.4L842.9,1282.5L851.1,1279.9L867.1,1276.6L886.2,1273.7L910.0,1271.3L942.8,1268.9L972.7,1267.8L975.8,1266.0L977.5,1262.9L977.4,1259.4L975.7,1256.3L972.6,1254.6L970.8,1254.4L939.0,1255.5L895.2,1259.0L880.0,1260.8L866.2,1262.9L847.8,1266.7L838.0,1269.8L822.1,1277.5L815.7,1281.3L810.7,1285.0L805.6,1289.7L800.8,1295.1L794.5,1302.6L789.7,1309.2L786.3,1315.2L783.2,1321.9L778.4,1335.1L773.7,1354.4L766.2,1393.7L760.2,1432.8L755.7,1469.1L752.9,1479.1L747.1,1495.9L744.3,1502.3L741.8,1506.8L738.6,1510.4L735.8,1512.0L731.3,1513.2L723.0,1514.0L676.9,1514.6L582.4,1514.7L579.0,1515.6L577.6,1516.7L576.5,1518.1L575.6,1521.5L576.5,1524.9L577.6,1526.3L579.0,1527.4Z" fill="#ff6464"/>
<g stroke="#ff6464"><use href="#o" x="744.4" y="1514.3"/><use href="#o" x="748.4" y="1509.0"/><use href="#o" x="751.4" y="1503.1"/><use href="#o" x="753.9" y="1497.0"/><use href="#o" x="755.9" y="1491.3"/><use href="#o" x="757.9" y="1485.5"/><use href="#o" x="759.9" y="1479.8"/><use href="#o" x="761.4" y="1474.7"/><use href="#o" x="762.9" y="1467.6"/><use href="#o" x="763.9" y="1459.9"/><use href="#o" x="764.9" y="1450.1"/><use href="#o" x="765.9" y="1441.1"/><use href="#o" x="766.9" y="1433.7"/><use href="#o" x="767.9" y="1427.1"/><use href="#o" x="768.9" y="1420.6"/><use href="#o" x="769.9" y="1413.9"/><use href="#o" x="770.9" y="1407.1"/><use href="#o" x="771.9" y="1400.7"/><use href="#o" x="772.9" y="1394.8"/><use href="#o" x="773.9" y="1389.2"/><use href="#o" x="774.9" y="1383.8"/><use href="#o" x="775.9" y="1378.6"/><use href="#o" x="776.9" y="1373.5"/><use href="#o" x="777.9" y="1368.4"/><use href="#o" x="778.9" y="1363.3"/><use href="#o" x="779.9" y="1358.3"/><use href="#o" x="781.4" y="1351.0"/><use href="#o" x="782.9" y="1344.5"/><use href="#o" x="784.4" y="1338.9"/><use href="#o" x="786.4" y="1332.6"/><use href="#o" x="788.4" y="1327.2"/><use href="#o" x="790.9" y="1321.3"/><use href="#o" x="793.9" y="1315.4"/><use href="#o" x="797.4" y="1310.0"/><use href="#o" x="801.4" y="1304.9"/><use href="#o" x="805.9" y="1299.5"/><use href="#o" x="810.4" y="1294.5"/></g>
<path d="M818.4,1296.3L825.0,1291.5L836.4,1285.4L844.7,1281.8L853.0,1279.5L873.5,1275.5L897.1,1272.5L938.8,1269.2L972.7,1267.8L974.4,1267.1L976.8,1264.5L977.7,1261.1L977.4,1259.4L975.7,1256.3L972.6,1254.6L962.3,1254.5L944.0,1255.2L915.4,1257.2L888.1,1259.8L868.3,1262.5L849.9,1266.2L843.3,1267.9L836.9,1270.3L821.0,1278.1L814.6,1282.0L809.5,1285.9L806.1,1289.1L804.3,1292.2L804.1,1293.9L805.0,1297.3L807.4,1299.8L809.1,1300.5L810.8,1300.8L814.2,1299.9Z" fill="#ff6464"/>
<use href="#o" x="970.9" y="1261.2" stroke="#ff6464"/>
</g>
<path d="M151.7,1465L190.9,1425.8V1444.7H379.6V1485.3H190.9V1505.5Z" fill="#5b9bd5" fill-opacity="0.5"/>
<path d="M707,1376H838V1356L879,1396L838,1436V1415H707Z" fill="#ff7b84" fill-opacity="0.5"/>
<rect x="86.7" y="1243.3" width="896.3" height="297.7" fill="none" stroke="#000" stroke-width="4.8"/>
<path d="M535.5,1243.3V1541" stroke="#000" stroke-width="3.6"/>
<path d="M155.6,1539.0l0,-4.5M155.6,1245.3l0,4.5M292.0,1539.0l0,-4.5M292.0,1245.3l0,4.5M428.4,1539.0l0,-4.5M428.4,1245.3l0,4.5M223.8,1539.0l0,-2.5M223.8,1245.3l0,2.5M360.2,1539.0l0,-2.5M360.2,1245.3l0,2.5M496.6,1539.0l0,-2.5M496.6,1245.3l0,2.5M587.3,1539.0l0,-4.5M587.3,1245.3l0,4.5M715.0,1539.0l0,-4.5M715.0,1245.3l0,4.5M842.7,1539.0l0,-4.5M842.7,1245.3l0,4.5M970.4,1539.0l0,-4.5M970.4,1245.3l0,4.5M651.1,1539.0l0,-2.5M651.1,1245.3l0,2.5M778.9,1539.0l0,-2.5M778.9,1245.3l0,2.5M906.5,1539.0l0,-2.5M906.5,1245.3l0,2.5M88.7,1534.0l4.5,0M981.0,1534.0l-4.5,0M88.7,1460.5l4.5,0M981.0,1460.5l-4.5,0M88.7,1387.0l4.5,0M981.0,1387.0l-4.5,0M88.7,1313.5l4.5,0M981.0,1313.5l-4.5,0" stroke="#000" stroke-width="4.2" fill="none"/>
<text x="155.6" y="1570.6" font-size="29.5" text-anchor="middle" >-1</text>
<text x="292.0" y="1570.6" font-size="29.5" text-anchor="middle" >0</text>
<text x="428.4" y="1570.6" font-size="29.5" text-anchor="middle" >1</text>
<text x="587.3" y="1570.6" font-size="29.5" text-anchor="middle" >-1</text>
<text x="715.0" y="1570.6" font-size="29.5" text-anchor="middle" >0</text>
<text x="842.7" y="1570.6" font-size="29.5" text-anchor="middle" >1</text>
<text x="970.4" y="1570.6" font-size="29.5" text-anchor="middle" >2</text>
<text x="78.0" y="1544.5" font-size="29.5" text-anchor="end" >0.0</text>
<text x="78.0" y="1471.0" font-size="29.5" text-anchor="end" >0.3</text>
<text x="78.0" y="1397.5" font-size="29.5" text-anchor="end" >0.6</text>
<text x="78.0" y="1324.0" font-size="29.5" text-anchor="end" >0.9</text>
<text transform="translate(32.5,1476) rotate(-90)" font-size="31" ><tspan font-style="italic">C</tspan> (µF/cm<tspan dy="-10" font-size="20">2</tspan><tspan dy="10">)</tspan></text>
<text x="432.3" y="1608" font-size="31">Gate Voltage <tspan font-style="italic">V</tspan><tspan dy="8" font-size="20.5">GS</tspan><tspan dy="-8"> (V)</tspan></text>
<text x="0.0" y="1273.0" font-size="37" >(d)</text>
<text x="391.8" y="1479.2" font-size="31.5" >Write</text>
<text x="839.0" y="1484.0" font-size="31.5" >Erase</text>
<rect x="96.4" y="1250" width="277.6" height="172" fill="#000"/>
<rect x="91.4" y="1246" width="277.6" height="172" fill="#fff" stroke="#555" stroke-width="1.3"/>
<path d="M94.4,1266.4H145.4" stroke="#000000" stroke-width="2.6"/>
<rect x="114.6" y="1261.1" width="10.6" height="10.6" fill="#fff" stroke="#000000" stroke-width="1.6"/>
<text x="152.0" y="1275.4" font-size="26" >Initial</text>
<path d="M234.6,1266.4H285.6" stroke="#ee0000" stroke-width="2.6"/>
<rect x="254.8" y="1261.1" width="10.6" height="10.6" fill="#fff" stroke="#ee0000" stroke-width="1.6"/>
<text x="293.0" y="1275.4" font-size="26" >3.5 V</text>
<path d="M94.4,1300.4H145.4" stroke="#34649e" stroke-width="2.6"/>
<rect x="114.6" y="1295.1" width="10.6" height="10.6" fill="#fff" stroke="#34649e" stroke-width="1.6"/>
<text x="152.0" y="1309.4" font-size="26" >3.75 V</text>
<path d="M234.6,1300.4H285.6" stroke="#ffc000" stroke-width="2.6"/>
<rect x="254.8" y="1295.1" width="10.6" height="10.6" fill="#fff" stroke="#ffc000" stroke-width="1.6"/>
<text x="293.0" y="1309.4" font-size="26" >4 V</text>
<path d="M94.4,1334.5H145.4" stroke="#38b766" stroke-width="2.6"/>
<rect x="114.6" y="1329.2" width="10.6" height="10.6" fill="#fff" stroke="#38b766" stroke-width="1.6"/>
<text x="152.0" y="1343.5" font-size="26" >4.25 V</text>
<path d="M240.6,1334.5H291.6" stroke="#5e5e9c" stroke-width="2.6"/>
<rect x="260.8" y="1329.2" width="10.6" height="10.6" fill="#fff" stroke="#5e5e9c" stroke-width="1.6"/>
<text x="299.0" y="1343.5" font-size="26" >4.5 V</text>
<path d="M94.4,1368.5H145.4" stroke="#999999" stroke-width="2.6"/>
<rect x="114.6" y="1363.2" width="10.6" height="10.6" fill="#fff" stroke="#999999" stroke-width="1.6"/>
<text x="152.0" y="1377.5" font-size="26" >4.75 V</text>
<path d="M240.6,1368.5H291.6" stroke="#ff6464" stroke-width="2.6"/>
<rect x="260.8" y="1363.2" width="10.6" height="10.6" fill="#fff" stroke="#ff6464" stroke-width="1.6"/>
<text x="299.0" y="1377.5" font-size="26" >5 V</text>
<path d="M94.4,1402.6H145.4" stroke="#6698cc" stroke-width="2.6"/>
<rect x="114.6" y="1397.3" width="10.6" height="10.6" fill="#fff" stroke="#6698cc" stroke-width="1.6"/>
<text x="152.0" y="1411.6" font-size="26" >5.25 V</text>
<rect x="552.5" y="1248.9" width="148.10000000000002" height="235.79999999999995" fill="#000"/>
<rect x="547.5" y="1244.9" width="148.10000000000002" height="235.79999999999995" fill="#fff" stroke="#555" stroke-width="1.3"/>
<path d="M551.2,1264.7H602.0" stroke="#ee0000" stroke-width="2.6"/>
<circle cx="576.6" cy="1264.7" r="6.3" fill="#fff" stroke="#ee0000" stroke-width="1.8"/>
<text x="609.2" y="1273.7" font-size="25.5" >-6.5 V</text>
<path d="M551.2,1298.1H602.0" stroke="#34649e" stroke-width="2.6"/>
<circle cx="576.6" cy="1298.1" r="6.3" fill="#fff" stroke="#34649e" stroke-width="1.8"/>
<text x="609.2" y="1307.1" font-size="25.5" >-6.75 V</text>
<path d="M551.2,1331.5H602.0" stroke="#ffc000" stroke-width="2.6"/>
<circle cx="576.6" cy="1331.5" r="6.3" fill="#fff" stroke="#ffc000" stroke-width="1.8"/>
<text x="609.2" y="1340.5" font-size="25.5" >-7 V</text>
<path d="M551.2,1364.9H602.0" stroke="#38b766" stroke-width="2.6"/>
<circle cx="576.6" cy="1364.9" r="6.3" fill="#fff" stroke="#38b766" stroke-width="1.8"/>
<text x="609.2" y="1373.9" font-size="25.5" >-7.25 V</text>
<path d="M551.2,1398.3H602.0" stroke="#5e5e9c" stroke-width="2.6"/>
<circle cx="576.6" cy="1398.3" r="6.3" fill="#fff" stroke="#5e5e9c" stroke-width="1.8"/>
<text x="609.2" y="1407.3" font-size="25.5" >-7.5 V</text>
<path d="M551.2,1431.7H602.0" stroke="#999999" stroke-width="2.6"/>
<circle cx="576.6" cy="1431.7" r="6.3" fill="#fff" stroke="#999999" stroke-width="1.8"/>
<text x="609.2" y="1440.7" font-size="25.5" >-7.75 V</text>
<path d="M551.2,1465.1H602.0" stroke="#ff6464" stroke-width="2.6"/>
<circle cx="576.6" cy="1465.1" r="6.3" fill="#fff" stroke="#ff6464" stroke-width="1.8"/>
<text x="609.2" y="1474.1" font-size="25.5" >-8 V</text>
</svg></body></html>
